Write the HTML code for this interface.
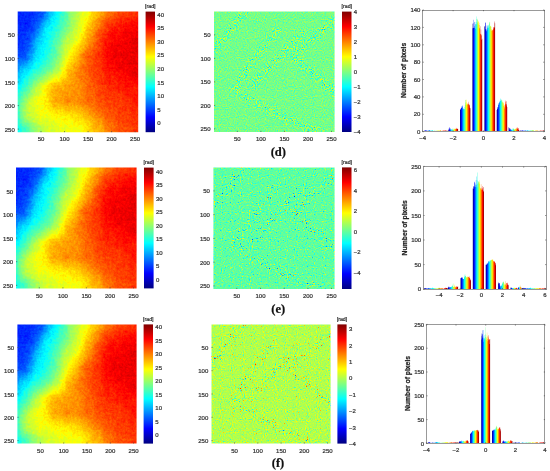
<!DOCTYPE html>
<html><head><meta charset="utf-8"><title>Phase maps and histograms</title>
<style>html,body{margin:0;padding:0;background:#fff;width:550px;height:471px;overflow:hidden;position:relative}</style>
</head><body>
<svg width="550" height="471" viewBox="0 0 550 471" style="position:absolute;left:0;top:0"><defs><filter id="fl" x="-10%" y="-10%" width="120%" height="120%" color-interpolation-filters="sRGB"><feGaussianBlur in="SourceGraphic" stdDeviation="1.2" result="b0"/><feColorMatrix in="b0" type="matrix" values="1 0 0 0 0 0 1 0 0 0 0 0 1 0 0 0 0 0 0 1" result="b"/><feTurbulence type="fractalNoise" baseFrequency="0.45" numOctaves="2" seed="3" result="n0"/><feColorMatrix in="n0" type="matrix" values="1 0 0 0 0 1 0 0 0 0 1 0 0 0 0 0 0 0 0 1" result="n"/><feComposite in="b" in2="n" operator="arithmetic" k1="0" k2="1" k3="0.07" k4="-0.035" result="c0"/><feTurbulence type="fractalNoise" baseFrequency="0.15" numOctaves="2" seed="13" result="p0"/><feColorMatrix in="p0" type="matrix" values="1 0 0 0 0 1 0 0 0 0 1 0 0 0 0 0 0 0 0 1" result="p"/><feComposite in="c0" in2="p" operator="arithmetic" k1="0" k2="1" k3="0.045" k4="-0.0225" result="c"/><feColorMatrix in="c" type="matrix" values="1 0 0 0 0 1 0 0 0 0 1 0 0 0 0 0 0 0 0 1" result="d"/><feComponentTransfer in="d"><feFuncR type="table" tableValues="0 0 0 0 .5 1 1 1 .5"/><feFuncG type="table" tableValues="0 0 .5 1 1 1 .5 0 0"/><feFuncB type="table" tableValues=".5 1 1 1 .5 0 0 0 0"/><feFuncA type="linear" slope="0" intercept="1"/></feComponentTransfer></filter><filter id="fm1" x="0" y="0" width="1" height="1" color-interpolation-filters="sRGB"><feGaussianBlur in="SourceGraphic" stdDeviation="2.0" result="m0"/><feColorMatrix in="m0" type="matrix" values="1 0 0 0 0 1 0 0 0 0 1 0 0 0 0 0 0 0 0 1" result="m"/><feTurbulence type="fractalNoise" baseFrequency="0.9" numOctaves="2" seed="7" result="n0"/><feColorMatrix in="n0" type="matrix" values="1 0 0 0 0 1 0 0 0 0 1 0 0 0 0 0 0 0 0 1" result="n1"/><feComponentTransfer in="n1" result="n"><feFuncR type="table" tableValues="0.22 0.3 0.39 0.5 0.61 0.7 0.78"/><feFuncG type="table" tableValues="0.22 0.3 0.39 0.5 0.61 0.7 0.78"/><feFuncB type="table" tableValues="0.22 0.3 0.39 0.5 0.61 0.7 0.78"/></feComponentTransfer><feComposite in="m" in2="n" operator="arithmetic" k1="0.6500" k2="-0.3250" k3="0.3750" k4="0.3025" result="c"/><feColorMatrix in="c" type="matrix" values="1.0000 0 0 0 0 1.0000 0 0 0 0 1.0000 0 0 0 0 0 0 0 0 1" result="d"/><feComponentTransfer in="d"><feFuncR type="table" tableValues="0 0 0 0 .5 1 1 1 .5"/><feFuncG type="table" tableValues="0 0 .5 1 1 1 .5 0 0"/><feFuncB type="table" tableValues=".5 1 1 1 .5 0 0 0 0"/><feFuncA type="linear" slope="0" intercept="1"/></feComponentTransfer></filter><filter id="fm2" x="0" y="0" width="1" height="1" color-interpolation-filters="sRGB"><feGaussianBlur in="SourceGraphic" stdDeviation="2.0" result="m0"/><feColorMatrix in="m0" type="matrix" values="1 0 0 0 0 1 0 0 0 0 1 0 0 0 0 0 0 0 0 1" result="m"/><feTurbulence type="fractalNoise" baseFrequency="0.9" numOctaves="2" seed="11" result="n0"/><feColorMatrix in="n0" type="matrix" values="1 0 0 0 0 1 0 0 0 0 1 0 0 0 0 0 0 0 0 1" result="n1"/><feComponentTransfer in="n1" result="n"><feFuncR type="table" tableValues="0 0.2 0.42 0.5 0.58 0.8 1"/><feFuncG type="table" tableValues="0 0.2 0.42 0.5 0.58 0.8 1"/><feFuncB type="table" tableValues="0 0.2 0.42 0.5 0.58 0.8 1"/></feComponentTransfer><feComposite in="m" in2="n" operator="arithmetic" k1="0.5400" k2="-0.2700" k3="0.4500" k4="0.2450" result="c"/><feColorMatrix in="c" type="matrix" values="0.9650 0 0 0 0 0.9650 0 0 0 0 0.9650 0 0 0 0 0 0 0 0 1" result="d"/><feComponentTransfer in="d"><feFuncR type="table" tableValues="0 0 0 0 .5 1 1 1 .5"/><feFuncG type="table" tableValues="0 0 .5 1 1 1 .5 0 0"/><feFuncB type="table" tableValues=".5 1 1 1 .5 0 0 0 0"/><feFuncA type="linear" slope="0" intercept="1"/></feComponentTransfer></filter><filter id="fm3" x="0" y="0" width="1" height="1" color-interpolation-filters="sRGB"><feGaussianBlur in="SourceGraphic" stdDeviation="2.0" result="m0"/><feColorMatrix in="m0" type="matrix" values="1 0 0 0 0 1 0 0 0 0 1 0 0 0 0 0 0 0 0 1" result="m"/><feTurbulence type="fractalNoise" baseFrequency="0.9" numOctaves="2" seed="13" result="n0"/><feColorMatrix in="n0" type="matrix" values="1 0 0 0 0 1 0 0 0 0 1 0 0 0 0 0 0 0 0 1" result="n1"/><feComponentTransfer in="n1" result="n"><feFuncR type="table" tableValues="0 0.2 0.42 0.5 0.58 0.8 1"/><feFuncG type="table" tableValues="0 0.2 0.42 0.5 0.58 0.8 1"/><feFuncB type="table" tableValues="0 0.2 0.42 0.5 0.58 0.8 1"/></feComponentTransfer><feComposite in="m" in2="n" operator="arithmetic" k1="0.5400" k2="-0.2700" k3="0.4500" k4="0.3250" result="c"/><feColorMatrix in="c" type="matrix" values="1.0000 0 0 0 0 1.0000 0 0 0 0 1.0000 0 0 0 0 0 0 0 0 1" result="d"/><feComponentTransfer in="d"><feFuncR type="table" tableValues="0 0 0 0 .5 1 1 1 .5"/><feFuncG type="table" tableValues="0 0 .5 1 1 1 .5 0 0"/><feFuncB type="table" tableValues=".5 1 1 1 .5 0 0 0 0"/><feFuncA type="linear" slope="0" intercept="1"/></feComponentTransfer></filter><g id="STK" fill="none" stroke="#fff" stroke-width="7" stroke-linejoin="round"><path d="M33,-2 L16,19 L-2,41"/><path d="M66,16 L52,32 L38,50 L20,77 L40,90 L75,108 L110,123"/><path d="M90,20 L62,48 L36,76"/><path d="M123,6 L100,25 L79,45 L100,63 L123,83"/></g><linearGradient id="jv" x1="0" y1="1" x2="0" y2="0"><stop offset="0.000" stop-color="#000080"/><stop offset="0.125" stop-color="#0000ff"/><stop offset="0.250" stop-color="#0080ff"/><stop offset="0.375" stop-color="#00ffff"/><stop offset="0.500" stop-color="#80ff80"/><stop offset="0.625" stop-color="#ffff00"/><stop offset="0.750" stop-color="#ff8000"/><stop offset="0.875" stop-color="#ff0000"/><stop offset="1.000" stop-color="#800000"/></linearGradient><linearGradient id="jh" x1="0" y1="0" x2="1" y2="0"><stop offset="0.000" stop-color="#000080"/><stop offset="0.125" stop-color="#0000ff"/><stop offset="0.250" stop-color="#0080ff"/><stop offset="0.375" stop-color="#00ffff"/><stop offset="0.500" stop-color="#80ff80"/><stop offset="0.625" stop-color="#ffff00"/><stop offset="0.750" stop-color="#ff8000"/><stop offset="0.875" stop-color="#ff0000"/><stop offset="1.000" stop-color="#800000"/></linearGradient><g id="FLD"><rect x="-6" y="-6" width="3" height="3" fill="#292929"/><rect x="-3" y="-6" width="3" height="3" fill="#292929"/><rect x="0" y="-6" width="3" height="3" fill="#292929"/><rect x="3" y="-6" width="3" height="3" fill="#2a2a2a"/><rect x="6" y="-6" width="3" height="3" fill="#2a2a2a"/><rect x="9" y="-6" width="3" height="3" fill="#2b2b2b"/><rect x="12" y="-6" width="3" height="3" fill="#2b2b2b"/><rect x="15" y="-6" width="3" height="3" fill="#2c2c2c"/><rect x="18" y="-6" width="3" height="3" fill="#2f2f2f"/><rect x="21" y="-6" width="3" height="3" fill="#313131"/><rect x="24" y="-6" width="3" height="3" fill="#373737"/><rect x="27" y="-6" width="3" height="3" fill="#434343"/><rect x="30" y="-6" width="3" height="3" fill="#4e4e4e"/><rect x="33" y="-6" width="3" height="3" fill="#575757"/><rect x="36" y="-6" width="3" height="3" fill="#5d5d5d"/><rect x="39" y="-6" width="3" height="3" fill="#646464"/><rect x="42" y="-6" width="3" height="3" fill="#6a6a6a"/><rect x="45" y="-6" width="3" height="3" fill="#717171"/><rect x="48" y="-6" width="3" height="3" fill="#7b7b7b"/><rect x="51" y="-6" width="3" height="3" fill="#858585"/><rect x="54" y="-6" width="3" height="3" fill="#8a8a8a"/><rect x="57" y="-6" width="3" height="3" fill="#8e8e8e"/><rect x="60" y="-6" width="3" height="3" fill="#929292"/><rect x="63" y="-6" width="3" height="3" fill="#989898"/><rect x="66" y="-6" width="3" height="3" fill="#9d9d9d"/><rect x="69" y="-6" width="3" height="3" fill="#a1a1a1"/><rect x="72" y="-6" width="3" height="3" fill="#a6a6a6"/><rect x="75" y="-6" width="3" height="3" fill="#ababab"/><rect x="78" y="-6" width="3" height="3" fill="#b0b0b0"/><rect x="81" y="-6" width="3" height="3" fill="#b5b5b5"/><rect x="84" y="-6" width="3" height="3" fill="#bbbbbb"/><rect x="87" y="-6" width="3" height="3" fill="#c0c0c0"/><rect x="90" y="-6" width="3" height="3" fill="#c4c4c4"/><rect x="93" y="-6" width="3" height="3" fill="#c7c7c7"/><rect x="96" y="-6" width="3" height="3" fill="#cacaca"/><rect x="99" y="-6" width="3" height="3" fill="#cdcdcd"/><rect x="102" y="-6" width="3" height="3" fill="#cecece"/><rect x="105" y="-6" width="3" height="3" fill="#d0d0d0"/><rect x="108" y="-6" width="3" height="3" fill="#d1d1d1"/><rect x="111" y="-6" width="3" height="3" fill="#d3d3d3"/><rect x="114" y="-6" width="3" height="3" fill="#d5d5d5"/><rect x="117" y="-6" width="3" height="3" fill="#d6d6d6"/><rect x="120" y="-6" width="3" height="3" fill="#d7d7d7"/><rect x="123" y="-6" width="3" height="3" fill="#d7d7d7"/><rect x="-6" y="-3" width="3" height="3" fill="#292929"/><rect x="-3" y="-3" width="3" height="3" fill="#292929"/><rect x="0" y="-3" width="3" height="3" fill="#292929"/><rect x="3" y="-3" width="3" height="3" fill="#2a2a2a"/><rect x="6" y="-3" width="3" height="3" fill="#2a2a2a"/><rect x="9" y="-3" width="3" height="3" fill="#2b2b2b"/><rect x="12" y="-3" width="3" height="3" fill="#2b2b2b"/><rect x="15" y="-3" width="3" height="3" fill="#2c2c2c"/><rect x="18" y="-3" width="3" height="3" fill="#2f2f2f"/><rect x="21" y="-3" width="3" height="3" fill="#313131"/><rect x="24" y="-3" width="3" height="3" fill="#373737"/><rect x="27" y="-3" width="3" height="3" fill="#434343"/><rect x="30" y="-3" width="3" height="3" fill="#4e4e4e"/><rect x="33" y="-3" width="3" height="3" fill="#575757"/><rect x="36" y="-3" width="3" height="3" fill="#5d5d5d"/><rect x="39" y="-3" width="3" height="3" fill="#646464"/><rect x="42" y="-3" width="3" height="3" fill="#6a6a6a"/><rect x="45" y="-3" width="3" height="3" fill="#717171"/><rect x="48" y="-3" width="3" height="3" fill="#7b7b7b"/><rect x="51" y="-3" width="3" height="3" fill="#858585"/><rect x="54" y="-3" width="3" height="3" fill="#8a8a8a"/><rect x="57" y="-3" width="3" height="3" fill="#8e8e8e"/><rect x="60" y="-3" width="3" height="3" fill="#929292"/><rect x="63" y="-3" width="3" height="3" fill="#989898"/><rect x="66" y="-3" width="3" height="3" fill="#9d9d9d"/><rect x="69" y="-3" width="3" height="3" fill="#a1a1a1"/><rect x="72" y="-3" width="3" height="3" fill="#a6a6a6"/><rect x="75" y="-3" width="3" height="3" fill="#ababab"/><rect x="78" y="-3" width="3" height="3" fill="#b0b0b0"/><rect x="81" y="-3" width="3" height="3" fill="#b5b5b5"/><rect x="84" y="-3" width="3" height="3" fill="#bbbbbb"/><rect x="87" y="-3" width="3" height="3" fill="#c0c0c0"/><rect x="90" y="-3" width="3" height="3" fill="#c4c4c4"/><rect x="93" y="-3" width="3" height="3" fill="#c7c7c7"/><rect x="96" y="-3" width="3" height="3" fill="#cacaca"/><rect x="99" y="-3" width="3" height="3" fill="#cdcdcd"/><rect x="102" y="-3" width="3" height="3" fill="#cecece"/><rect x="105" y="-3" width="3" height="3" fill="#d0d0d0"/><rect x="108" y="-3" width="3" height="3" fill="#d1d1d1"/><rect x="111" y="-3" width="3" height="3" fill="#d3d3d3"/><rect x="114" y="-3" width="3" height="3" fill="#d5d5d5"/><rect x="117" y="-3" width="3" height="3" fill="#d6d6d6"/><rect x="120" y="-3" width="3" height="3" fill="#d7d7d7"/><rect x="123" y="-3" width="3" height="3" fill="#d7d7d7"/><rect x="-6" y="0" width="3" height="3" fill="#292929"/><rect x="-3" y="0" width="3" height="3" fill="#292929"/><rect x="0" y="0" width="3" height="3" fill="#292929"/><rect x="3" y="0" width="3" height="3" fill="#2a2a2a"/><rect x="6" y="0" width="3" height="3" fill="#2a2a2a"/><rect x="9" y="0" width="3" height="3" fill="#2b2b2b"/><rect x="12" y="0" width="3" height="3" fill="#2b2b2b"/><rect x="15" y="0" width="3" height="3" fill="#2c2c2c"/><rect x="18" y="0" width="3" height="3" fill="#2f2f2f"/><rect x="21" y="0" width="3" height="3" fill="#313131"/><rect x="24" y="0" width="3" height="3" fill="#373737"/><rect x="27" y="0" width="3" height="3" fill="#434343"/><rect x="30" y="0" width="3" height="3" fill="#4e4e4e"/><rect x="33" y="0" width="3" height="3" fill="#575757"/><rect x="36" y="0" width="3" height="3" fill="#5d5d5d"/><rect x="39" y="0" width="3" height="3" fill="#646464"/><rect x="42" y="0" width="3" height="3" fill="#6a6a6a"/><rect x="45" y="0" width="3" height="3" fill="#717171"/><rect x="48" y="0" width="3" height="3" fill="#7b7b7b"/><rect x="51" y="0" width="3" height="3" fill="#858585"/><rect x="54" y="0" width="3" height="3" fill="#8a8a8a"/><rect x="57" y="0" width="3" height="3" fill="#8e8e8e"/><rect x="60" y="0" width="3" height="3" fill="#929292"/><rect x="63" y="0" width="3" height="3" fill="#989898"/><rect x="66" y="0" width="3" height="3" fill="#9d9d9d"/><rect x="69" y="0" width="3" height="3" fill="#a1a1a1"/><rect x="72" y="0" width="3" height="3" fill="#a6a6a6"/><rect x="75" y="0" width="3" height="3" fill="#ababab"/><rect x="78" y="0" width="3" height="3" fill="#b0b0b0"/><rect x="81" y="0" width="3" height="3" fill="#b5b5b5"/><rect x="84" y="0" width="3" height="3" fill="#bbbbbb"/><rect x="87" y="0" width="3" height="3" fill="#c0c0c0"/><rect x="90" y="0" width="3" height="3" fill="#c4c4c4"/><rect x="93" y="0" width="3" height="3" fill="#c7c7c7"/><rect x="96" y="0" width="3" height="3" fill="#cacaca"/><rect x="99" y="0" width="3" height="3" fill="#cdcdcd"/><rect x="102" y="0" width="3" height="3" fill="#cecece"/><rect x="105" y="0" width="3" height="3" fill="#d0d0d0"/><rect x="108" y="0" width="3" height="3" fill="#d1d1d1"/><rect x="111" y="0" width="3" height="3" fill="#d3d3d3"/><rect x="114" y="0" width="3" height="3" fill="#d5d5d5"/><rect x="117" y="0" width="3" height="3" fill="#d6d6d6"/><rect x="120" y="0" width="3" height="3" fill="#d7d7d7"/><rect x="123" y="0" width="3" height="3" fill="#d7d7d7"/><rect x="-6" y="3" width="3" height="3" fill="#292929"/><rect x="-3" y="3" width="3" height="3" fill="#292929"/><rect x="0" y="3" width="3" height="3" fill="#292929"/><rect x="3" y="3" width="3" height="3" fill="#2a2a2a"/><rect x="6" y="3" width="3" height="3" fill="#2a2a2a"/><rect x="9" y="3" width="3" height="3" fill="#2b2b2b"/><rect x="12" y="3" width="3" height="3" fill="#2b2b2b"/><rect x="15" y="3" width="3" height="3" fill="#2d2d2d"/><rect x="18" y="3" width="3" height="3" fill="#303030"/><rect x="21" y="3" width="3" height="3" fill="#343434"/><rect x="24" y="3" width="3" height="3" fill="#3a3a3a"/><rect x="27" y="3" width="3" height="3" fill="#464646"/><rect x="30" y="3" width="3" height="3" fill="#505050"/><rect x="33" y="3" width="3" height="3" fill="#585858"/><rect x="36" y="3" width="3" height="3" fill="#5e5e5e"/><rect x="39" y="3" width="3" height="3" fill="#646464"/><rect x="42" y="3" width="3" height="3" fill="#6b6b6b"/><rect x="45" y="3" width="3" height="3" fill="#727272"/><rect x="48" y="3" width="3" height="3" fill="#7b7b7b"/><rect x="51" y="3" width="3" height="3" fill="#858585"/><rect x="54" y="3" width="3" height="3" fill="#8a8a8a"/><rect x="57" y="3" width="3" height="3" fill="#8e8e8e"/><rect x="60" y="3" width="3" height="3" fill="#929292"/><rect x="63" y="3" width="3" height="3" fill="#999999"/><rect x="66" y="3" width="3" height="3" fill="#9e9e9e"/><rect x="69" y="3" width="3" height="3" fill="#a3a3a3"/><rect x="72" y="3" width="3" height="3" fill="#a8a8a8"/><rect x="75" y="3" width="3" height="3" fill="#adadad"/><rect x="78" y="3" width="3" height="3" fill="#b2b2b2"/><rect x="81" y="3" width="3" height="3" fill="#b7b7b7"/><rect x="84" y="3" width="3" height="3" fill="#bdbdbd"/><rect x="87" y="3" width="3" height="3" fill="#c2c2c2"/><rect x="90" y="3" width="3" height="3" fill="#c6c6c6"/><rect x="93" y="3" width="3" height="3" fill="#c9c9c9"/><rect x="96" y="3" width="3" height="3" fill="#cccccc"/><rect x="99" y="3" width="3" height="3" fill="#cfcfcf"/><rect x="102" y="3" width="3" height="3" fill="#d0d0d0"/><rect x="105" y="3" width="3" height="3" fill="#d2d2d2"/><rect x="108" y="3" width="3" height="3" fill="#d3d3d3"/><rect x="111" y="3" width="3" height="3" fill="#d5d5d5"/><rect x="114" y="3" width="3" height="3" fill="#d6d6d6"/><rect x="117" y="3" width="3" height="3" fill="#d7d7d7"/><rect x="120" y="3" width="3" height="3" fill="#d8d8d8"/><rect x="123" y="3" width="3" height="3" fill="#d8d8d8"/><rect x="-6" y="6" width="3" height="3" fill="#292929"/><rect x="-3" y="6" width="3" height="3" fill="#292929"/><rect x="0" y="6" width="3" height="3" fill="#292929"/><rect x="3" y="6" width="3" height="3" fill="#2a2a2a"/><rect x="6" y="6" width="3" height="3" fill="#2a2a2a"/><rect x="9" y="6" width="3" height="3" fill="#2b2b2b"/><rect x="12" y="6" width="3" height="3" fill="#2c2c2c"/><rect x="15" y="6" width="3" height="3" fill="#2e2e2e"/><rect x="18" y="6" width="3" height="3" fill="#333333"/><rect x="21" y="6" width="3" height="3" fill="#393939"/><rect x="24" y="6" width="3" height="3" fill="#414141"/><rect x="27" y="6" width="3" height="3" fill="#4b4b4b"/><rect x="30" y="6" width="3" height="3" fill="#545454"/><rect x="33" y="6" width="3" height="3" fill="#5b5b5b"/><rect x="36" y="6" width="3" height="3" fill="#606060"/><rect x="39" y="6" width="3" height="3" fill="#666666"/><rect x="42" y="6" width="3" height="3" fill="#6c6c6c"/><rect x="45" y="6" width="3" height="3" fill="#737373"/><rect x="48" y="6" width="3" height="3" fill="#7c7c7c"/><rect x="51" y="6" width="3" height="3" fill="#858585"/><rect x="54" y="6" width="3" height="3" fill="#8a8a8a"/><rect x="57" y="6" width="3" height="3" fill="#8e8e8e"/><rect x="60" y="6" width="3" height="3" fill="#939393"/><rect x="63" y="6" width="3" height="3" fill="#9a9a9a"/><rect x="66" y="6" width="3" height="3" fill="#a0a0a0"/><rect x="69" y="6" width="3" height="3" fill="#a5a5a5"/><rect x="72" y="6" width="3" height="3" fill="#aaaaaa"/><rect x="75" y="6" width="3" height="3" fill="#b0b0b0"/><rect x="78" y="6" width="3" height="3" fill="#b6b6b6"/><rect x="81" y="6" width="3" height="3" fill="#bcbcbc"/><rect x="84" y="6" width="3" height="3" fill="#c1c1c1"/><rect x="87" y="6" width="3" height="3" fill="#c7c7c7"/><rect x="90" y="6" width="3" height="3" fill="#cbcbcb"/><rect x="93" y="6" width="3" height="3" fill="#cdcdcd"/><rect x="96" y="6" width="3" height="3" fill="#d0d0d0"/><rect x="99" y="6" width="3" height="3" fill="#d2d2d2"/><rect x="102" y="6" width="3" height="3" fill="#d3d3d3"/><rect x="105" y="6" width="3" height="3" fill="#d5d5d5"/><rect x="108" y="6" width="3" height="3" fill="#d7d7d7"/><rect x="111" y="6" width="3" height="3" fill="#d8d8d8"/><rect x="114" y="6" width="3" height="3" fill="#d9d9d9"/><rect x="117" y="6" width="3" height="3" fill="#dadada"/><rect x="120" y="6" width="3" height="3" fill="#dbdbdb"/><rect x="123" y="6" width="3" height="3" fill="#dbdbdb"/><rect x="-6" y="9" width="3" height="3" fill="#292929"/><rect x="-3" y="9" width="3" height="3" fill="#292929"/><rect x="0" y="9" width="3" height="3" fill="#292929"/><rect x="3" y="9" width="3" height="3" fill="#2a2a2a"/><rect x="6" y="9" width="3" height="3" fill="#2a2a2a"/><rect x="9" y="9" width="3" height="3" fill="#2b2b2b"/><rect x="12" y="9" width="3" height="3" fill="#2d2d2d"/><rect x="15" y="9" width="3" height="3" fill="#303030"/><rect x="18" y="9" width="3" height="3" fill="#353535"/><rect x="21" y="9" width="3" height="3" fill="#3e3e3e"/><rect x="24" y="9" width="3" height="3" fill="#474747"/><rect x="27" y="9" width="3" height="3" fill="#515151"/><rect x="30" y="9" width="3" height="3" fill="#585858"/><rect x="33" y="9" width="3" height="3" fill="#5d5d5d"/><rect x="36" y="9" width="3" height="3" fill="#626262"/><rect x="39" y="9" width="3" height="3" fill="#676767"/><rect x="42" y="9" width="3" height="3" fill="#6e6e6e"/><rect x="45" y="9" width="3" height="3" fill="#757575"/><rect x="48" y="9" width="3" height="3" fill="#7d7d7d"/><rect x="51" y="9" width="3" height="3" fill="#858585"/><rect x="54" y="9" width="3" height="3" fill="#8a8a8a"/><rect x="57" y="9" width="3" height="3" fill="#8e8e8e"/><rect x="60" y="9" width="3" height="3" fill="#949494"/><rect x="63" y="9" width="3" height="3" fill="#9b9b9b"/><rect x="66" y="9" width="3" height="3" fill="#a2a2a2"/><rect x="69" y="9" width="3" height="3" fill="#a8a8a8"/><rect x="72" y="9" width="3" height="3" fill="#adadad"/><rect x="75" y="9" width="3" height="3" fill="#b4b4b4"/><rect x="78" y="9" width="3" height="3" fill="#bababa"/><rect x="81" y="9" width="3" height="3" fill="#c0c0c0"/><rect x="84" y="9" width="3" height="3" fill="#c6c6c6"/><rect x="87" y="9" width="3" height="3" fill="#cbcbcb"/><rect x="90" y="9" width="3" height="3" fill="#cfcfcf"/><rect x="93" y="9" width="3" height="3" fill="#d1d1d1"/><rect x="96" y="9" width="3" height="3" fill="#d3d3d3"/><rect x="99" y="9" width="3" height="3" fill="#d5d5d5"/><rect x="102" y="9" width="3" height="3" fill="#d7d7d7"/><rect x="105" y="9" width="3" height="3" fill="#d8d8d8"/><rect x="108" y="9" width="3" height="3" fill="#dadada"/><rect x="111" y="9" width="3" height="3" fill="#dbdbdb"/><rect x="114" y="9" width="3" height="3" fill="#dcdcdc"/><rect x="117" y="9" width="3" height="3" fill="#dddddd"/><rect x="120" y="9" width="3" height="3" fill="#dedede"/><rect x="123" y="9" width="3" height="3" fill="#dedede"/><rect x="-6" y="12" width="3" height="3" fill="#292929"/><rect x="-3" y="12" width="3" height="3" fill="#292929"/><rect x="0" y="12" width="3" height="3" fill="#292929"/><rect x="3" y="12" width="3" height="3" fill="#2a2a2a"/><rect x="6" y="12" width="3" height="3" fill="#2b2b2b"/><rect x="9" y="12" width="3" height="3" fill="#2c2c2c"/><rect x="12" y="12" width="3" height="3" fill="#2e2e2e"/><rect x="15" y="12" width="3" height="3" fill="#313131"/><rect x="18" y="12" width="3" height="3" fill="#383838"/><rect x="21" y="12" width="3" height="3" fill="#434343"/><rect x="24" y="12" width="3" height="3" fill="#4e4e4e"/><rect x="27" y="12" width="3" height="3" fill="#575757"/><rect x="30" y="12" width="3" height="3" fill="#5b5b5b"/><rect x="33" y="12" width="3" height="3" fill="#5f5f5f"/><rect x="36" y="12" width="3" height="3" fill="#646464"/><rect x="39" y="12" width="3" height="3" fill="#696969"/><rect x="42" y="12" width="3" height="3" fill="#6f6f6f"/><rect x="45" y="12" width="3" height="3" fill="#767676"/><rect x="48" y="12" width="3" height="3" fill="#7e7e7e"/><rect x="51" y="12" width="3" height="3" fill="#858585"/><rect x="54" y="12" width="3" height="3" fill="#8a8a8a"/><rect x="57" y="12" width="3" height="3" fill="#8f8f8f"/><rect x="60" y="12" width="3" height="3" fill="#959595"/><rect x="63" y="12" width="3" height="3" fill="#9c9c9c"/><rect x="66" y="12" width="3" height="3" fill="#a4a4a4"/><rect x="69" y="12" width="3" height="3" fill="#ababab"/><rect x="72" y="12" width="3" height="3" fill="#b0b0b0"/><rect x="75" y="12" width="3" height="3" fill="#b7b7b7"/><rect x="78" y="12" width="3" height="3" fill="#bebebe"/><rect x="81" y="12" width="3" height="3" fill="#c4c4c4"/><rect x="84" y="12" width="3" height="3" fill="#cacaca"/><rect x="87" y="12" width="3" height="3" fill="#d0d0d0"/><rect x="90" y="12" width="3" height="3" fill="#d3d3d3"/><rect x="93" y="12" width="3" height="3" fill="#d5d5d5"/><rect x="96" y="12" width="3" height="3" fill="#d7d7d7"/><rect x="99" y="12" width="3" height="3" fill="#d9d9d9"/><rect x="102" y="12" width="3" height="3" fill="#dadada"/><rect x="105" y="12" width="3" height="3" fill="#dcdcdc"/><rect x="108" y="12" width="3" height="3" fill="#dddddd"/><rect x="111" y="12" width="3" height="3" fill="#dedede"/><rect x="114" y="12" width="3" height="3" fill="#dfdfdf"/><rect x="117" y="12" width="3" height="3" fill="#e0e0e0"/><rect x="120" y="12" width="3" height="3" fill="#e0e0e0"/><rect x="123" y="12" width="3" height="3" fill="#e0e0e0"/><rect x="-6" y="15" width="3" height="3" fill="#292929"/><rect x="-3" y="15" width="3" height="3" fill="#292929"/><rect x="0" y="15" width="3" height="3" fill="#292929"/><rect x="3" y="15" width="3" height="3" fill="#2a2a2a"/><rect x="6" y="15" width="3" height="3" fill="#2b2b2b"/><rect x="9" y="15" width="3" height="3" fill="#2d2d2d"/><rect x="12" y="15" width="3" height="3" fill="#2f2f2f"/><rect x="15" y="15" width="3" height="3" fill="#343434"/><rect x="18" y="15" width="3" height="3" fill="#3c3c3c"/><rect x="21" y="15" width="3" height="3" fill="#484848"/><rect x="24" y="15" width="3" height="3" fill="#525252"/><rect x="27" y="15" width="3" height="3" fill="#5a5a5a"/><rect x="30" y="15" width="3" height="3" fill="#5e5e5e"/><rect x="33" y="15" width="3" height="3" fill="#616161"/><rect x="36" y="15" width="3" height="3" fill="#666666"/><rect x="39" y="15" width="3" height="3" fill="#6b6b6b"/><rect x="42" y="15" width="3" height="3" fill="#727272"/><rect x="45" y="15" width="3" height="3" fill="#797979"/><rect x="48" y="15" width="3" height="3" fill="#808080"/><rect x="51" y="15" width="3" height="3" fill="#868686"/><rect x="54" y="15" width="3" height="3" fill="#8c8c8c"/><rect x="57" y="15" width="3" height="3" fill="#909090"/><rect x="60" y="15" width="3" height="3" fill="#969696"/><rect x="63" y="15" width="3" height="3" fill="#9e9e9e"/><rect x="66" y="15" width="3" height="3" fill="#a6a6a6"/><rect x="69" y="15" width="3" height="3" fill="#adadad"/><rect x="72" y="15" width="3" height="3" fill="#b3b3b3"/><rect x="75" y="15" width="3" height="3" fill="#bababa"/><rect x="78" y="15" width="3" height="3" fill="#c1c1c1"/><rect x="81" y="15" width="3" height="3" fill="#c7c7c7"/><rect x="84" y="15" width="3" height="3" fill="#cdcdcd"/><rect x="87" y="15" width="3" height="3" fill="#d3d3d3"/><rect x="90" y="15" width="3" height="3" fill="#d6d6d6"/><rect x="93" y="15" width="3" height="3" fill="#d8d8d8"/><rect x="96" y="15" width="3" height="3" fill="#dadada"/><rect x="99" y="15" width="3" height="3" fill="#dbdbdb"/><rect x="102" y="15" width="3" height="3" fill="#dcdcdc"/><rect x="105" y="15" width="3" height="3" fill="#dedede"/><rect x="108" y="15" width="3" height="3" fill="#dfdfdf"/><rect x="111" y="15" width="3" height="3" fill="#e0e0e0"/><rect x="114" y="15" width="3" height="3" fill="#e1e1e1"/><rect x="117" y="15" width="3" height="3" fill="#e2e2e2"/><rect x="120" y="15" width="3" height="3" fill="#e2e2e2"/><rect x="123" y="15" width="3" height="3" fill="#e2e2e2"/><rect x="-6" y="18" width="3" height="3" fill="#2a2a2a"/><rect x="-3" y="18" width="3" height="3" fill="#2a2a2a"/><rect x="0" y="18" width="3" height="3" fill="#2a2a2a"/><rect x="3" y="18" width="3" height="3" fill="#2b2b2b"/><rect x="6" y="18" width="3" height="3" fill="#2c2c2c"/><rect x="9" y="18" width="3" height="3" fill="#2e2e2e"/><rect x="12" y="18" width="3" height="3" fill="#323232"/><rect x="15" y="18" width="3" height="3" fill="#383838"/><rect x="18" y="18" width="3" height="3" fill="#404040"/><rect x="21" y="18" width="3" height="3" fill="#4b4b4b"/><rect x="24" y="18" width="3" height="3" fill="#555555"/><rect x="27" y="18" width="3" height="3" fill="#5c5c5c"/><rect x="30" y="18" width="3" height="3" fill="#606060"/><rect x="33" y="18" width="3" height="3" fill="#646464"/><rect x="36" y="18" width="3" height="3" fill="#696969"/><rect x="39" y="18" width="3" height="3" fill="#6e6e6e"/><rect x="42" y="18" width="3" height="3" fill="#757575"/><rect x="45" y="18" width="3" height="3" fill="#7c7c7c"/><rect x="48" y="18" width="3" height="3" fill="#848484"/><rect x="51" y="18" width="3" height="3" fill="#898989"/><rect x="54" y="18" width="3" height="3" fill="#8e8e8e"/><rect x="57" y="18" width="3" height="3" fill="#939393"/><rect x="60" y="18" width="3" height="3" fill="#999999"/><rect x="63" y="18" width="3" height="3" fill="#a1a1a1"/><rect x="66" y="18" width="3" height="3" fill="#a8a8a8"/><rect x="69" y="18" width="3" height="3" fill="#b0b0b0"/><rect x="72" y="18" width="3" height="3" fill="#b6b6b6"/><rect x="75" y="18" width="3" height="3" fill="#bdbdbd"/><rect x="78" y="18" width="3" height="3" fill="#c4c4c4"/><rect x="81" y="18" width="3" height="3" fill="#cacaca"/><rect x="84" y="18" width="3" height="3" fill="#cfcfcf"/><rect x="87" y="18" width="3" height="3" fill="#d5d5d5"/><rect x="90" y="18" width="3" height="3" fill="#d8d8d8"/><rect x="93" y="18" width="3" height="3" fill="#dadada"/><rect x="96" y="18" width="3" height="3" fill="#dbdbdb"/><rect x="99" y="18" width="3" height="3" fill="#dcdcdc"/><rect x="102" y="18" width="3" height="3" fill="#dedede"/><rect x="105" y="18" width="3" height="3" fill="#dfdfdf"/><rect x="108" y="18" width="3" height="3" fill="#e0e0e0"/><rect x="111" y="18" width="3" height="3" fill="#e1e1e1"/><rect x="114" y="18" width="3" height="3" fill="#e1e1e1"/><rect x="117" y="18" width="3" height="3" fill="#e2e2e2"/><rect x="120" y="18" width="3" height="3" fill="#e2e2e2"/><rect x="123" y="18" width="3" height="3" fill="#e2e2e2"/><rect x="-6" y="21" width="3" height="3" fill="#2a2a2a"/><rect x="-3" y="21" width="3" height="3" fill="#2a2a2a"/><rect x="0" y="21" width="3" height="3" fill="#2b2b2b"/><rect x="3" y="21" width="3" height="3" fill="#2c2c2c"/><rect x="6" y="21" width="3" height="3" fill="#2d2d2d"/><rect x="9" y="21" width="3" height="3" fill="#303030"/><rect x="12" y="21" width="3" height="3" fill="#343434"/><rect x="15" y="21" width="3" height="3" fill="#3c3c3c"/><rect x="18" y="21" width="3" height="3" fill="#454545"/><rect x="21" y="21" width="3" height="3" fill="#4f4f4f"/><rect x="24" y="21" width="3" height="3" fill="#575757"/><rect x="27" y="21" width="3" height="3" fill="#5d5d5d"/><rect x="30" y="21" width="3" height="3" fill="#616161"/><rect x="33" y="21" width="3" height="3" fill="#666666"/><rect x="36" y="21" width="3" height="3" fill="#6b6b6b"/><rect x="39" y="21" width="3" height="3" fill="#717171"/><rect x="42" y="21" width="3" height="3" fill="#797979"/><rect x="45" y="21" width="3" height="3" fill="#808080"/><rect x="48" y="21" width="3" height="3" fill="#878787"/><rect x="51" y="21" width="3" height="3" fill="#8c8c8c"/><rect x="54" y="21" width="3" height="3" fill="#919191"/><rect x="57" y="21" width="3" height="3" fill="#959595"/><rect x="60" y="21" width="3" height="3" fill="#9c9c9c"/><rect x="63" y="21" width="3" height="3" fill="#a3a3a3"/><rect x="66" y="21" width="3" height="3" fill="#ababab"/><rect x="69" y="21" width="3" height="3" fill="#b2b2b2"/><rect x="72" y="21" width="3" height="3" fill="#b8b8b8"/><rect x="75" y="21" width="3" height="3" fill="#bfbfbf"/><rect x="78" y="21" width="3" height="3" fill="#c7c7c7"/><rect x="81" y="21" width="3" height="3" fill="#cccccc"/><rect x="84" y="21" width="3" height="3" fill="#d1d1d1"/><rect x="87" y="21" width="3" height="3" fill="#d6d6d6"/><rect x="90" y="21" width="3" height="3" fill="#dadada"/><rect x="93" y="21" width="3" height="3" fill="#dbdbdb"/><rect x="96" y="21" width="3" height="3" fill="#dddddd"/><rect x="99" y="21" width="3" height="3" fill="#dedede"/><rect x="102" y="21" width="3" height="3" fill="#dfdfdf"/><rect x="105" y="21" width="3" height="3" fill="#e0e0e0"/><rect x="108" y="21" width="3" height="3" fill="#e0e0e0"/><rect x="111" y="21" width="3" height="3" fill="#e1e1e1"/><rect x="114" y="21" width="3" height="3" fill="#e2e2e2"/><rect x="117" y="21" width="3" height="3" fill="#e3e3e3"/><rect x="120" y="21" width="3" height="3" fill="#e3e3e3"/><rect x="123" y="21" width="3" height="3" fill="#e3e3e3"/><rect x="-6" y="24" width="3" height="3" fill="#2b2b2b"/><rect x="-3" y="24" width="3" height="3" fill="#2b2b2b"/><rect x="0" y="24" width="3" height="3" fill="#2b2b2b"/><rect x="3" y="24" width="3" height="3" fill="#2d2d2d"/><rect x="6" y="24" width="3" height="3" fill="#2f2f2f"/><rect x="9" y="24" width="3" height="3" fill="#323232"/><rect x="12" y="24" width="3" height="3" fill="#373737"/><rect x="15" y="24" width="3" height="3" fill="#404040"/><rect x="18" y="24" width="3" height="3" fill="#4a4a4a"/><rect x="21" y="24" width="3" height="3" fill="#535353"/><rect x="24" y="24" width="3" height="3" fill="#595959"/><rect x="27" y="24" width="3" height="3" fill="#5f5f5f"/><rect x="30" y="24" width="3" height="3" fill="#636363"/><rect x="33" y="24" width="3" height="3" fill="#686868"/><rect x="36" y="24" width="3" height="3" fill="#6e6e6e"/><rect x="39" y="24" width="3" height="3" fill="#757575"/><rect x="42" y="24" width="3" height="3" fill="#7d7d7d"/><rect x="45" y="24" width="3" height="3" fill="#848484"/><rect x="48" y="24" width="3" height="3" fill="#8b8b8b"/><rect x="51" y="24" width="3" height="3" fill="#8f8f8f"/><rect x="54" y="24" width="3" height="3" fill="#939393"/><rect x="57" y="24" width="3" height="3" fill="#989898"/><rect x="60" y="24" width="3" height="3" fill="#9e9e9e"/><rect x="63" y="24" width="3" height="3" fill="#a6a6a6"/><rect x="66" y="24" width="3" height="3" fill="#adadad"/><rect x="69" y="24" width="3" height="3" fill="#b5b5b5"/><rect x="72" y="24" width="3" height="3" fill="#bbbbbb"/><rect x="75" y="24" width="3" height="3" fill="#c2c2c2"/><rect x="78" y="24" width="3" height="3" fill="#c9c9c9"/><rect x="81" y="24" width="3" height="3" fill="#cecece"/><rect x="84" y="24" width="3" height="3" fill="#d3d3d3"/><rect x="87" y="24" width="3" height="3" fill="#d8d8d8"/><rect x="90" y="24" width="3" height="3" fill="#dbdbdb"/><rect x="93" y="24" width="3" height="3" fill="#dddddd"/><rect x="96" y="24" width="3" height="3" fill="#dedede"/><rect x="99" y="24" width="3" height="3" fill="#dfdfdf"/><rect x="102" y="24" width="3" height="3" fill="#e0e0e0"/><rect x="105" y="24" width="3" height="3" fill="#e0e0e0"/><rect x="108" y="24" width="3" height="3" fill="#e1e1e1"/><rect x="111" y="24" width="3" height="3" fill="#e2e2e2"/><rect x="114" y="24" width="3" height="3" fill="#e2e2e2"/><rect x="117" y="24" width="3" height="3" fill="#e3e3e3"/><rect x="120" y="24" width="3" height="3" fill="#e3e3e3"/><rect x="123" y="24" width="3" height="3" fill="#e3e3e3"/><rect x="-6" y="27" width="3" height="3" fill="#2b2b2b"/><rect x="-3" y="27" width="3" height="3" fill="#2b2b2b"/><rect x="0" y="27" width="3" height="3" fill="#2c2c2c"/><rect x="3" y="27" width="3" height="3" fill="#2e2e2e"/><rect x="6" y="27" width="3" height="3" fill="#303030"/><rect x="9" y="27" width="3" height="3" fill="#333333"/><rect x="12" y="27" width="3" height="3" fill="#393939"/><rect x="15" y="27" width="3" height="3" fill="#444444"/><rect x="18" y="27" width="3" height="3" fill="#4f4f4f"/><rect x="21" y="27" width="3" height="3" fill="#575757"/><rect x="24" y="27" width="3" height="3" fill="#5b5b5b"/><rect x="27" y="27" width="3" height="3" fill="#606060"/><rect x="30" y="27" width="3" height="3" fill="#646464"/><rect x="33" y="27" width="3" height="3" fill="#6a6a6a"/><rect x="36" y="27" width="3" height="3" fill="#707070"/><rect x="39" y="27" width="3" height="3" fill="#787878"/><rect x="42" y="27" width="3" height="3" fill="#818181"/><rect x="45" y="27" width="3" height="3" fill="#888888"/><rect x="48" y="27" width="3" height="3" fill="#8f8f8f"/><rect x="51" y="27" width="3" height="3" fill="#929292"/><rect x="54" y="27" width="3" height="3" fill="#969696"/><rect x="57" y="27" width="3" height="3" fill="#9b9b9b"/><rect x="60" y="27" width="3" height="3" fill="#a1a1a1"/><rect x="63" y="27" width="3" height="3" fill="#a8a8a8"/><rect x="66" y="27" width="3" height="3" fill="#b0b0b0"/><rect x="69" y="27" width="3" height="3" fill="#b7b7b7"/><rect x="72" y="27" width="3" height="3" fill="#bdbdbd"/><rect x="75" y="27" width="3" height="3" fill="#c4c4c4"/><rect x="78" y="27" width="3" height="3" fill="#cccccc"/><rect x="81" y="27" width="3" height="3" fill="#d1d1d1"/><rect x="84" y="27" width="3" height="3" fill="#d5d5d5"/><rect x="87" y="27" width="3" height="3" fill="#dadada"/><rect x="90" y="27" width="3" height="3" fill="#dddddd"/><rect x="93" y="27" width="3" height="3" fill="#dedede"/><rect x="96" y="27" width="3" height="3" fill="#e0e0e0"/><rect x="99" y="27" width="3" height="3" fill="#e1e1e1"/><rect x="102" y="27" width="3" height="3" fill="#e1e1e1"/><rect x="105" y="27" width="3" height="3" fill="#e1e1e1"/><rect x="108" y="27" width="3" height="3" fill="#e1e1e1"/><rect x="111" y="27" width="3" height="3" fill="#e2e2e2"/><rect x="114" y="27" width="3" height="3" fill="#e3e3e3"/><rect x="117" y="27" width="3" height="3" fill="#e4e4e4"/><rect x="120" y="27" width="3" height="3" fill="#e4e4e4"/><rect x="123" y="27" width="3" height="3" fill="#e4e4e4"/><rect x="-6" y="30" width="3" height="3" fill="#2c2c2c"/><rect x="-3" y="30" width="3" height="3" fill="#2c2c2c"/><rect x="0" y="30" width="3" height="3" fill="#2d2d2d"/><rect x="3" y="30" width="3" height="3" fill="#2f2f2f"/><rect x="6" y="30" width="3" height="3" fill="#313131"/><rect x="9" y="30" width="3" height="3" fill="#353535"/><rect x="12" y="30" width="3" height="3" fill="#3c3c3c"/><rect x="15" y="30" width="3" height="3" fill="#474747"/><rect x="18" y="30" width="3" height="3" fill="#525252"/><rect x="21" y="30" width="3" height="3" fill="#595959"/><rect x="24" y="30" width="3" height="3" fill="#5d5d5d"/><rect x="27" y="30" width="3" height="3" fill="#616161"/><rect x="30" y="30" width="3" height="3" fill="#666666"/><rect x="33" y="30" width="3" height="3" fill="#6c6c6c"/><rect x="36" y="30" width="3" height="3" fill="#727272"/><rect x="39" y="30" width="3" height="3" fill="#7a7a7a"/><rect x="42" y="30" width="3" height="3" fill="#838383"/><rect x="45" y="30" width="3" height="3" fill="#8b8b8b"/><rect x="48" y="30" width="3" height="3" fill="#919191"/><rect x="51" y="30" width="3" height="3" fill="#959595"/><rect x="54" y="30" width="3" height="3" fill="#999999"/><rect x="57" y="30" width="3" height="3" fill="#9e9e9e"/><rect x="60" y="30" width="3" height="3" fill="#a4a4a4"/><rect x="63" y="30" width="3" height="3" fill="#acacac"/><rect x="66" y="30" width="3" height="3" fill="#b3b3b3"/><rect x="69" y="30" width="3" height="3" fill="#bababa"/><rect x="72" y="30" width="3" height="3" fill="#c0c0c0"/><rect x="75" y="30" width="3" height="3" fill="#c7c7c7"/><rect x="78" y="30" width="3" height="3" fill="#cdcdcd"/><rect x="81" y="30" width="3" height="3" fill="#d2d2d2"/><rect x="84" y="30" width="3" height="3" fill="#d6d6d6"/><rect x="87" y="30" width="3" height="3" fill="#dbdbdb"/><rect x="90" y="30" width="3" height="3" fill="#dedede"/><rect x="93" y="30" width="3" height="3" fill="#dfdfdf"/><rect x="96" y="30" width="3" height="3" fill="#e0e0e0"/><rect x="99" y="30" width="3" height="3" fill="#e2e2e2"/><rect x="102" y="30" width="3" height="3" fill="#e2e2e2"/><rect x="105" y="30" width="3" height="3" fill="#e2e2e2"/><rect x="108" y="30" width="3" height="3" fill="#e2e2e2"/><rect x="111" y="30" width="3" height="3" fill="#e3e3e3"/><rect x="114" y="30" width="3" height="3" fill="#e3e3e3"/><rect x="117" y="30" width="3" height="3" fill="#e4e4e4"/><rect x="120" y="30" width="3" height="3" fill="#e4e4e4"/><rect x="123" y="30" width="3" height="3" fill="#e4e4e4"/><rect x="-6" y="33" width="3" height="3" fill="#2d2d2d"/><rect x="-3" y="33" width="3" height="3" fill="#2d2d2d"/><rect x="0" y="33" width="3" height="3" fill="#2e2e2e"/><rect x="3" y="33" width="3" height="3" fill="#303030"/><rect x="6" y="33" width="3" height="3" fill="#323232"/><rect x="9" y="33" width="3" height="3" fill="#373737"/><rect x="12" y="33" width="3" height="3" fill="#3f3f3f"/><rect x="15" y="33" width="3" height="3" fill="#4a4a4a"/><rect x="18" y="33" width="3" height="3" fill="#545454"/><rect x="21" y="33" width="3" height="3" fill="#5a5a5a"/><rect x="24" y="33" width="3" height="3" fill="#5e5e5e"/><rect x="27" y="33" width="3" height="3" fill="#626262"/><rect x="30" y="33" width="3" height="3" fill="#676767"/><rect x="33" y="33" width="3" height="3" fill="#6d6d6d"/><rect x="36" y="33" width="3" height="3" fill="#747474"/><rect x="39" y="33" width="3" height="3" fill="#7c7c7c"/><rect x="42" y="33" width="3" height="3" fill="#858585"/><rect x="45" y="33" width="3" height="3" fill="#8d8d8d"/><rect x="48" y="33" width="3" height="3" fill="#939393"/><rect x="51" y="33" width="3" height="3" fill="#989898"/><rect x="54" y="33" width="3" height="3" fill="#9d9d9d"/><rect x="57" y="33" width="3" height="3" fill="#a2a2a2"/><rect x="60" y="33" width="3" height="3" fill="#a8a8a8"/><rect x="63" y="33" width="3" height="3" fill="#b0b0b0"/><rect x="66" y="33" width="3" height="3" fill="#b7b7b7"/><rect x="69" y="33" width="3" height="3" fill="#bebebe"/><rect x="72" y="33" width="3" height="3" fill="#c3c3c3"/><rect x="75" y="33" width="3" height="3" fill="#c9c9c9"/><rect x="78" y="33" width="3" height="3" fill="#cfcfcf"/><rect x="81" y="33" width="3" height="3" fill="#d3d3d3"/><rect x="84" y="33" width="3" height="3" fill="#d7d7d7"/><rect x="87" y="33" width="3" height="3" fill="#dbdbdb"/><rect x="90" y="33" width="3" height="3" fill="#dedede"/><rect x="93" y="33" width="3" height="3" fill="#dfdfdf"/><rect x="96" y="33" width="3" height="3" fill="#e1e1e1"/><rect x="99" y="33" width="3" height="3" fill="#e2e2e2"/><rect x="102" y="33" width="3" height="3" fill="#e2e2e2"/><rect x="105" y="33" width="3" height="3" fill="#e2e2e2"/><rect x="108" y="33" width="3" height="3" fill="#e2e2e2"/><rect x="111" y="33" width="3" height="3" fill="#e3e3e3"/><rect x="114" y="33" width="3" height="3" fill="#e3e3e3"/><rect x="117" y="33" width="3" height="3" fill="#e4e4e4"/><rect x="120" y="33" width="3" height="3" fill="#e4e4e4"/><rect x="123" y="33" width="3" height="3" fill="#e4e4e4"/><rect x="-6" y="36" width="3" height="3" fill="#2e2e2e"/><rect x="-3" y="36" width="3" height="3" fill="#2e2e2e"/><rect x="0" y="36" width="3" height="3" fill="#2f2f2f"/><rect x="3" y="36" width="3" height="3" fill="#313131"/><rect x="6" y="36" width="3" height="3" fill="#333333"/><rect x="9" y="36" width="3" height="3" fill="#393939"/><rect x="12" y="36" width="3" height="3" fill="#424242"/><rect x="15" y="36" width="3" height="3" fill="#4c4c4c"/><rect x="18" y="36" width="3" height="3" fill="#555555"/><rect x="21" y="36" width="3" height="3" fill="#5b5b5b"/><rect x="24" y="36" width="3" height="3" fill="#5f5f5f"/><rect x="27" y="36" width="3" height="3" fill="#636363"/><rect x="30" y="36" width="3" height="3" fill="#686868"/><rect x="33" y="36" width="3" height="3" fill="#6e6e6e"/><rect x="36" y="36" width="3" height="3" fill="#757575"/><rect x="39" y="36" width="3" height="3" fill="#7d7d7d"/><rect x="42" y="36" width="3" height="3" fill="#868686"/><rect x="45" y="36" width="3" height="3" fill="#8e8e8e"/><rect x="48" y="36" width="3" height="3" fill="#959595"/><rect x="51" y="36" width="3" height="3" fill="#9b9b9b"/><rect x="54" y="36" width="3" height="3" fill="#a0a0a0"/><rect x="57" y="36" width="3" height="3" fill="#a6a6a6"/><rect x="60" y="36" width="3" height="3" fill="#acacac"/><rect x="63" y="36" width="3" height="3" fill="#b4b4b4"/><rect x="66" y="36" width="3" height="3" fill="#bbbbbb"/><rect x="69" y="36" width="3" height="3" fill="#c1c1c1"/><rect x="72" y="36" width="3" height="3" fill="#c6c6c6"/><rect x="75" y="36" width="3" height="3" fill="#cbcbcb"/><rect x="78" y="36" width="3" height="3" fill="#d0d0d0"/><rect x="81" y="36" width="3" height="3" fill="#d4d4d4"/><rect x="84" y="36" width="3" height="3" fill="#d8d8d8"/><rect x="87" y="36" width="3" height="3" fill="#dcdcdc"/><rect x="90" y="36" width="3" height="3" fill="#dedede"/><rect x="93" y="36" width="3" height="3" fill="#e0e0e0"/><rect x="96" y="36" width="3" height="3" fill="#e1e1e1"/><rect x="99" y="36" width="3" height="3" fill="#e2e2e2"/><rect x="102" y="36" width="3" height="3" fill="#e2e2e2"/><rect x="105" y="36" width="3" height="3" fill="#e3e3e3"/><rect x="108" y="36" width="3" height="3" fill="#e3e3e3"/><rect x="111" y="36" width="3" height="3" fill="#e3e3e3"/><rect x="114" y="36" width="3" height="3" fill="#e4e4e4"/><rect x="117" y="36" width="3" height="3" fill="#e4e4e4"/><rect x="120" y="36" width="3" height="3" fill="#e4e4e4"/><rect x="123" y="36" width="3" height="3" fill="#e4e4e4"/><rect x="-6" y="39" width="3" height="3" fill="#2f2f2f"/><rect x="-3" y="39" width="3" height="3" fill="#2f2f2f"/><rect x="0" y="39" width="3" height="3" fill="#303030"/><rect x="3" y="39" width="3" height="3" fill="#323232"/><rect x="6" y="39" width="3" height="3" fill="#343434"/><rect x="9" y="39" width="3" height="3" fill="#3b3b3b"/><rect x="12" y="39" width="3" height="3" fill="#454545"/><rect x="15" y="39" width="3" height="3" fill="#4f4f4f"/><rect x="18" y="39" width="3" height="3" fill="#575757"/><rect x="21" y="39" width="3" height="3" fill="#5c5c5c"/><rect x="24" y="39" width="3" height="3" fill="#606060"/><rect x="27" y="39" width="3" height="3" fill="#656565"/><rect x="30" y="39" width="3" height="3" fill="#6a6a6a"/><rect x="33" y="39" width="3" height="3" fill="#707070"/><rect x="36" y="39" width="3" height="3" fill="#777777"/><rect x="39" y="39" width="3" height="3" fill="#7f7f7f"/><rect x="42" y="39" width="3" height="3" fill="#888888"/><rect x="45" y="39" width="3" height="3" fill="#909090"/><rect x="48" y="39" width="3" height="3" fill="#979797"/><rect x="51" y="39" width="3" height="3" fill="#9e9e9e"/><rect x="54" y="39" width="3" height="3" fill="#a4a4a4"/><rect x="57" y="39" width="3" height="3" fill="#aaaaaa"/><rect x="60" y="39" width="3" height="3" fill="#b0b0b0"/><rect x="63" y="39" width="3" height="3" fill="#b8b8b8"/><rect x="66" y="39" width="3" height="3" fill="#bfbfbf"/><rect x="69" y="39" width="3" height="3" fill="#c5c5c5"/><rect x="72" y="39" width="3" height="3" fill="#c9c9c9"/><rect x="75" y="39" width="3" height="3" fill="#cdcdcd"/><rect x="78" y="39" width="3" height="3" fill="#d1d1d1"/><rect x="81" y="39" width="3" height="3" fill="#d5d5d5"/><rect x="84" y="39" width="3" height="3" fill="#d9d9d9"/><rect x="87" y="39" width="3" height="3" fill="#dcdcdc"/><rect x="90" y="39" width="3" height="3" fill="#dfdfdf"/><rect x="93" y="39" width="3" height="3" fill="#e0e0e0"/><rect x="96" y="39" width="3" height="3" fill="#e1e1e1"/><rect x="99" y="39" width="3" height="3" fill="#e2e2e2"/><rect x="102" y="39" width="3" height="3" fill="#e2e2e2"/><rect x="105" y="39" width="3" height="3" fill="#e3e3e3"/><rect x="108" y="39" width="3" height="3" fill="#e3e3e3"/><rect x="111" y="39" width="3" height="3" fill="#e4e4e4"/><rect x="114" y="39" width="3" height="3" fill="#e4e4e4"/><rect x="117" y="39" width="3" height="3" fill="#e4e4e4"/><rect x="120" y="39" width="3" height="3" fill="#e4e4e4"/><rect x="123" y="39" width="3" height="3" fill="#e4e4e4"/><rect x="-6" y="42" width="3" height="3" fill="#303030"/><rect x="-3" y="42" width="3" height="3" fill="#303030"/><rect x="0" y="42" width="3" height="3" fill="#313131"/><rect x="3" y="42" width="3" height="3" fill="#333333"/><rect x="6" y="42" width="3" height="3" fill="#353535"/><rect x="9" y="42" width="3" height="3" fill="#3d3d3d"/><rect x="12" y="42" width="3" height="3" fill="#484848"/><rect x="15" y="42" width="3" height="3" fill="#525252"/><rect x="18" y="42" width="3" height="3" fill="#595959"/><rect x="21" y="42" width="3" height="3" fill="#5d5d5d"/><rect x="24" y="42" width="3" height="3" fill="#616161"/><rect x="27" y="42" width="3" height="3" fill="#666666"/><rect x="30" y="42" width="3" height="3" fill="#6b6b6b"/><rect x="33" y="42" width="3" height="3" fill="#717171"/><rect x="36" y="42" width="3" height="3" fill="#787878"/><rect x="39" y="42" width="3" height="3" fill="#808080"/><rect x="42" y="42" width="3" height="3" fill="#898989"/><rect x="45" y="42" width="3" height="3" fill="#929292"/><rect x="48" y="42" width="3" height="3" fill="#999999"/><rect x="51" y="42" width="3" height="3" fill="#a1a1a1"/><rect x="54" y="42" width="3" height="3" fill="#a8a8a8"/><rect x="57" y="42" width="3" height="3" fill="#adadad"/><rect x="60" y="42" width="3" height="3" fill="#b4b4b4"/><rect x="63" y="42" width="3" height="3" fill="#bcbcbc"/><rect x="66" y="42" width="3" height="3" fill="#c2c2c2"/><rect x="69" y="42" width="3" height="3" fill="#c8c8c8"/><rect x="72" y="42" width="3" height="3" fill="#cbcbcb"/><rect x="75" y="42" width="3" height="3" fill="#cfcfcf"/><rect x="78" y="42" width="3" height="3" fill="#d2d2d2"/><rect x="81" y="42" width="3" height="3" fill="#d6d6d6"/><rect x="84" y="42" width="3" height="3" fill="#d9d9d9"/><rect x="87" y="42" width="3" height="3" fill="#dddddd"/><rect x="90" y="42" width="3" height="3" fill="#dfdfdf"/><rect x="93" y="42" width="3" height="3" fill="#e0e0e0"/><rect x="96" y="42" width="3" height="3" fill="#e1e1e1"/><rect x="99" y="42" width="3" height="3" fill="#e2e2e2"/><rect x="102" y="42" width="3" height="3" fill="#e2e2e2"/><rect x="105" y="42" width="3" height="3" fill="#e3e3e3"/><rect x="108" y="42" width="3" height="3" fill="#e4e4e4"/><rect x="111" y="42" width="3" height="3" fill="#e4e4e4"/><rect x="114" y="42" width="3" height="3" fill="#e4e4e4"/><rect x="117" y="42" width="3" height="3" fill="#e4e4e4"/><rect x="120" y="42" width="3" height="3" fill="#e4e4e4"/><rect x="123" y="42" width="3" height="3" fill="#e4e4e4"/><rect x="-6" y="45" width="3" height="3" fill="#333333"/><rect x="-3" y="45" width="3" height="3" fill="#333333"/><rect x="0" y="45" width="3" height="3" fill="#343434"/><rect x="3" y="45" width="3" height="3" fill="#373737"/><rect x="6" y="45" width="3" height="3" fill="#393939"/><rect x="9" y="45" width="3" height="3" fill="#414141"/><rect x="12" y="45" width="3" height="3" fill="#4c4c4c"/><rect x="15" y="45" width="3" height="3" fill="#555555"/><rect x="18" y="45" width="3" height="3" fill="#5c5c5c"/><rect x="21" y="45" width="3" height="3" fill="#606060"/><rect x="24" y="45" width="3" height="3" fill="#636363"/><rect x="27" y="45" width="3" height="3" fill="#686868"/><rect x="30" y="45" width="3" height="3" fill="#6e6e6e"/><rect x="33" y="45" width="3" height="3" fill="#747474"/><rect x="36" y="45" width="3" height="3" fill="#7b7b7b"/><rect x="39" y="45" width="3" height="3" fill="#838383"/><rect x="42" y="45" width="3" height="3" fill="#8c8c8c"/><rect x="45" y="45" width="3" height="3" fill="#949494"/><rect x="48" y="45" width="3" height="3" fill="#9c9c9c"/><rect x="51" y="45" width="3" height="3" fill="#a4a4a4"/><rect x="54" y="45" width="3" height="3" fill="#ababab"/><rect x="57" y="45" width="3" height="3" fill="#b1b1b1"/><rect x="60" y="45" width="3" height="3" fill="#b7b7b7"/><rect x="63" y="45" width="3" height="3" fill="#bebebe"/><rect x="66" y="45" width="3" height="3" fill="#c4c4c4"/><rect x="69" y="45" width="3" height="3" fill="#cacaca"/><rect x="72" y="45" width="3" height="3" fill="#cdcdcd"/><rect x="75" y="45" width="3" height="3" fill="#d0d0d0"/><rect x="78" y="45" width="3" height="3" fill="#d2d2d2"/><rect x="81" y="45" width="3" height="3" fill="#d6d6d6"/><rect x="84" y="45" width="3" height="3" fill="#d9d9d9"/><rect x="87" y="45" width="3" height="3" fill="#dddddd"/><rect x="90" y="45" width="3" height="3" fill="#dfdfdf"/><rect x="93" y="45" width="3" height="3" fill="#e0e0e0"/><rect x="96" y="45" width="3" height="3" fill="#e1e1e1"/><rect x="99" y="45" width="3" height="3" fill="#e2e2e2"/><rect x="102" y="45" width="3" height="3" fill="#e2e2e2"/><rect x="105" y="45" width="3" height="3" fill="#e3e3e3"/><rect x="108" y="45" width="3" height="3" fill="#e4e4e4"/><rect x="111" y="45" width="3" height="3" fill="#e4e4e4"/><rect x="114" y="45" width="3" height="3" fill="#e4e4e4"/><rect x="117" y="45" width="3" height="3" fill="#e4e4e4"/><rect x="120" y="45" width="3" height="3" fill="#e4e4e4"/><rect x="123" y="45" width="3" height="3" fill="#e4e4e4"/><rect x="-6" y="48" width="3" height="3" fill="#373737"/><rect x="-3" y="48" width="3" height="3" fill="#373737"/><rect x="0" y="48" width="3" height="3" fill="#3a3a3a"/><rect x="3" y="48" width="3" height="3" fill="#3e3e3e"/><rect x="6" y="48" width="3" height="3" fill="#404040"/><rect x="9" y="48" width="3" height="3" fill="#484848"/><rect x="12" y="48" width="3" height="3" fill="#515151"/><rect x="15" y="48" width="3" height="3" fill="#595959"/><rect x="18" y="48" width="3" height="3" fill="#606060"/><rect x="21" y="48" width="3" height="3" fill="#636363"/><rect x="24" y="48" width="3" height="3" fill="#676767"/><rect x="27" y="48" width="3" height="3" fill="#6c6c6c"/><rect x="30" y="48" width="3" height="3" fill="#727272"/><rect x="33" y="48" width="3" height="3" fill="#777777"/><rect x="36" y="48" width="3" height="3" fill="#7e7e7e"/><rect x="39" y="48" width="3" height="3" fill="#868686"/><rect x="42" y="48" width="3" height="3" fill="#8f8f8f"/><rect x="45" y="48" width="3" height="3" fill="#989898"/><rect x="48" y="48" width="3" height="3" fill="#a0a0a0"/><rect x="51" y="48" width="3" height="3" fill="#a7a7a7"/><rect x="54" y="48" width="3" height="3" fill="#aeaeae"/><rect x="57" y="48" width="3" height="3" fill="#b3b3b3"/><rect x="60" y="48" width="3" height="3" fill="#b9b9b9"/><rect x="63" y="48" width="3" height="3" fill="#bfbfbf"/><rect x="66" y="48" width="3" height="3" fill="#c5c5c5"/><rect x="69" y="48" width="3" height="3" fill="#cacaca"/><rect x="72" y="48" width="3" height="3" fill="#cdcdcd"/><rect x="75" y="48" width="3" height="3" fill="#cfcfcf"/><rect x="78" y="48" width="3" height="3" fill="#d2d2d2"/><rect x="81" y="48" width="3" height="3" fill="#d5d5d5"/><rect x="84" y="48" width="3" height="3" fill="#d9d9d9"/><rect x="87" y="48" width="3" height="3" fill="#dcdcdc"/><rect x="90" y="48" width="3" height="3" fill="#dedede"/><rect x="93" y="48" width="3" height="3" fill="#dfdfdf"/><rect x="96" y="48" width="3" height="3" fill="#e0e0e0"/><rect x="99" y="48" width="3" height="3" fill="#e1e1e1"/><rect x="102" y="48" width="3" height="3" fill="#e2e2e2"/><rect x="105" y="48" width="3" height="3" fill="#e3e3e3"/><rect x="108" y="48" width="3" height="3" fill="#e3e3e3"/><rect x="111" y="48" width="3" height="3" fill="#e4e4e4"/><rect x="114" y="48" width="3" height="3" fill="#e4e4e4"/><rect x="117" y="48" width="3" height="3" fill="#e4e4e4"/><rect x="120" y="48" width="3" height="3" fill="#e4e4e4"/><rect x="123" y="48" width="3" height="3" fill="#e4e4e4"/><rect x="-6" y="51" width="3" height="3" fill="#3c3c3c"/><rect x="-3" y="51" width="3" height="3" fill="#3c3c3c"/><rect x="0" y="51" width="3" height="3" fill="#404040"/><rect x="3" y="51" width="3" height="3" fill="#454545"/><rect x="6" y="51" width="3" height="3" fill="#484848"/><rect x="9" y="51" width="3" height="3" fill="#4f4f4f"/><rect x="12" y="51" width="3" height="3" fill="#575757"/><rect x="15" y="51" width="3" height="3" fill="#5e5e5e"/><rect x="18" y="51" width="3" height="3" fill="#636363"/><rect x="21" y="51" width="3" height="3" fill="#676767"/><rect x="24" y="51" width="3" height="3" fill="#6b6b6b"/><rect x="27" y="51" width="3" height="3" fill="#707070"/><rect x="30" y="51" width="3" height="3" fill="#757575"/><rect x="33" y="51" width="3" height="3" fill="#7b7b7b"/><rect x="36" y="51" width="3" height="3" fill="#818181"/><rect x="39" y="51" width="3" height="3" fill="#898989"/><rect x="42" y="51" width="3" height="3" fill="#929292"/><rect x="45" y="51" width="3" height="3" fill="#9b9b9b"/><rect x="48" y="51" width="3" height="3" fill="#a4a4a4"/><rect x="51" y="51" width="3" height="3" fill="#ababab"/><rect x="54" y="51" width="3" height="3" fill="#b1b1b1"/><rect x="57" y="51" width="3" height="3" fill="#b5b5b5"/><rect x="60" y="51" width="3" height="3" fill="#bababa"/><rect x="63" y="51" width="3" height="3" fill="#c0c0c0"/><rect x="66" y="51" width="3" height="3" fill="#c5c5c5"/><rect x="69" y="51" width="3" height="3" fill="#cacaca"/><rect x="72" y="51" width="3" height="3" fill="#cccccc"/><rect x="75" y="51" width="3" height="3" fill="#cfcfcf"/><rect x="78" y="51" width="3" height="3" fill="#d2d2d2"/><rect x="81" y="51" width="3" height="3" fill="#d5d5d5"/><rect x="84" y="51" width="3" height="3" fill="#d8d8d8"/><rect x="87" y="51" width="3" height="3" fill="#dbdbdb"/><rect x="90" y="51" width="3" height="3" fill="#dddddd"/><rect x="93" y="51" width="3" height="3" fill="#dedede"/><rect x="96" y="51" width="3" height="3" fill="#dfdfdf"/><rect x="99" y="51" width="3" height="3" fill="#e1e1e1"/><rect x="102" y="51" width="3" height="3" fill="#e1e1e1"/><rect x="105" y="51" width="3" height="3" fill="#e2e2e2"/><rect x="108" y="51" width="3" height="3" fill="#e3e3e3"/><rect x="111" y="51" width="3" height="3" fill="#e3e3e3"/><rect x="114" y="51" width="3" height="3" fill="#e4e4e4"/><rect x="117" y="51" width="3" height="3" fill="#e4e4e4"/><rect x="120" y="51" width="3" height="3" fill="#e4e4e4"/><rect x="123" y="51" width="3" height="3" fill="#e4e4e4"/><rect x="-6" y="54" width="3" height="3" fill="#414141"/><rect x="-3" y="54" width="3" height="3" fill="#414141"/><rect x="0" y="54" width="3" height="3" fill="#454545"/><rect x="3" y="54" width="3" height="3" fill="#4c4c4c"/><rect x="6" y="54" width="3" height="3" fill="#4f4f4f"/><rect x="9" y="54" width="3" height="3" fill="#555555"/><rect x="12" y="54" width="3" height="3" fill="#5c5c5c"/><rect x="15" y="54" width="3" height="3" fill="#626262"/><rect x="18" y="54" width="3" height="3" fill="#676767"/><rect x="21" y="54" width="3" height="3" fill="#6b6b6b"/><rect x="24" y="54" width="3" height="3" fill="#6e6e6e"/><rect x="27" y="54" width="3" height="3" fill="#747474"/><rect x="30" y="54" width="3" height="3" fill="#797979"/><rect x="33" y="54" width="3" height="3" fill="#7e7e7e"/><rect x="36" y="54" width="3" height="3" fill="#858585"/><rect x="39" y="54" width="3" height="3" fill="#8c8c8c"/><rect x="42" y="54" width="3" height="3" fill="#959595"/><rect x="45" y="54" width="3" height="3" fill="#9e9e9e"/><rect x="48" y="54" width="3" height="3" fill="#a8a8a8"/><rect x="51" y="54" width="3" height="3" fill="#aeaeae"/><rect x="54" y="54" width="3" height="3" fill="#b4b4b4"/><rect x="57" y="54" width="3" height="3" fill="#b8b8b8"/><rect x="60" y="54" width="3" height="3" fill="#bcbcbc"/><rect x="63" y="54" width="3" height="3" fill="#c0c0c0"/><rect x="66" y="54" width="3" height="3" fill="#c5c5c5"/><rect x="69" y="54" width="3" height="3" fill="#cacaca"/><rect x="72" y="54" width="3" height="3" fill="#cccccc"/><rect x="75" y="54" width="3" height="3" fill="#cfcfcf"/><rect x="78" y="54" width="3" height="3" fill="#d1d1d1"/><rect x="81" y="54" width="3" height="3" fill="#d4d4d4"/><rect x="84" y="54" width="3" height="3" fill="#d7d7d7"/><rect x="87" y="54" width="3" height="3" fill="#dadada"/><rect x="90" y="54" width="3" height="3" fill="#dcdcdc"/><rect x="93" y="54" width="3" height="3" fill="#dedede"/><rect x="96" y="54" width="3" height="3" fill="#dfdfdf"/><rect x="99" y="54" width="3" height="3" fill="#e0e0e0"/><rect x="102" y="54" width="3" height="3" fill="#e1e1e1"/><rect x="105" y="54" width="3" height="3" fill="#e2e2e2"/><rect x="108" y="54" width="3" height="3" fill="#e2e2e2"/><rect x="111" y="54" width="3" height="3" fill="#e3e3e3"/><rect x="114" y="54" width="3" height="3" fill="#e3e3e3"/><rect x="117" y="54" width="3" height="3" fill="#e4e4e4"/><rect x="120" y="54" width="3" height="3" fill="#e4e4e4"/><rect x="123" y="54" width="3" height="3" fill="#e4e4e4"/><rect x="-6" y="57" width="3" height="3" fill="#454545"/><rect x="-3" y="57" width="3" height="3" fill="#454545"/><rect x="0" y="57" width="3" height="3" fill="#4b4b4b"/><rect x="3" y="57" width="3" height="3" fill="#535353"/><rect x="6" y="57" width="3" height="3" fill="#575757"/><rect x="9" y="57" width="3" height="3" fill="#5c5c5c"/><rect x="12" y="57" width="3" height="3" fill="#616161"/><rect x="15" y="57" width="3" height="3" fill="#666666"/><rect x="18" y="57" width="3" height="3" fill="#6b6b6b"/><rect x="21" y="57" width="3" height="3" fill="#6e6e6e"/><rect x="24" y="57" width="3" height="3" fill="#727272"/><rect x="27" y="57" width="3" height="3" fill="#787878"/><rect x="30" y="57" width="3" height="3" fill="#7d7d7d"/><rect x="33" y="57" width="3" height="3" fill="#828282"/><rect x="36" y="57" width="3" height="3" fill="#888888"/><rect x="39" y="57" width="3" height="3" fill="#8f8f8f"/><rect x="42" y="57" width="3" height="3" fill="#989898"/><rect x="45" y="57" width="3" height="3" fill="#a2a2a2"/><rect x="48" y="57" width="3" height="3" fill="#acacac"/><rect x="51" y="57" width="3" height="3" fill="#b2b2b2"/><rect x="54" y="57" width="3" height="3" fill="#b7b7b7"/><rect x="57" y="57" width="3" height="3" fill="#bababa"/><rect x="60" y="57" width="3" height="3" fill="#bdbdbd"/><rect x="63" y="57" width="3" height="3" fill="#c1c1c1"/><rect x="66" y="57" width="3" height="3" fill="#c5c5c5"/><rect x="69" y="57" width="3" height="3" fill="#cacaca"/><rect x="72" y="57" width="3" height="3" fill="#cccccc"/><rect x="75" y="57" width="3" height="3" fill="#cecece"/><rect x="78" y="57" width="3" height="3" fill="#d1d1d1"/><rect x="81" y="57" width="3" height="3" fill="#d3d3d3"/><rect x="84" y="57" width="3" height="3" fill="#d6d6d6"/><rect x="87" y="57" width="3" height="3" fill="#d9d9d9"/><rect x="90" y="57" width="3" height="3" fill="#dbdbdb"/><rect x="93" y="57" width="3" height="3" fill="#dddddd"/><rect x="96" y="57" width="3" height="3" fill="#dedede"/><rect x="99" y="57" width="3" height="3" fill="#e0e0e0"/><rect x="102" y="57" width="3" height="3" fill="#e0e0e0"/><rect x="105" y="57" width="3" height="3" fill="#e1e1e1"/><rect x="108" y="57" width="3" height="3" fill="#e2e2e2"/><rect x="111" y="57" width="3" height="3" fill="#e3e3e3"/><rect x="114" y="57" width="3" height="3" fill="#e3e3e3"/><rect x="117" y="57" width="3" height="3" fill="#e4e4e4"/><rect x="120" y="57" width="3" height="3" fill="#e4e4e4"/><rect x="123" y="57" width="3" height="3" fill="#e4e4e4"/><rect x="-6" y="60" width="3" height="3" fill="#4a4a4a"/><rect x="-3" y="60" width="3" height="3" fill="#4a4a4a"/><rect x="0" y="60" width="3" height="3" fill="#505050"/><rect x="3" y="60" width="3" height="3" fill="#585858"/><rect x="6" y="60" width="3" height="3" fill="#5d5d5d"/><rect x="9" y="60" width="3" height="3" fill="#616161"/><rect x="12" y="60" width="3" height="3" fill="#666666"/><rect x="15" y="60" width="3" height="3" fill="#6b6b6b"/><rect x="18" y="60" width="3" height="3" fill="#707070"/><rect x="21" y="60" width="3" height="3" fill="#747474"/><rect x="24" y="60" width="3" height="3" fill="#787878"/><rect x="27" y="60" width="3" height="3" fill="#7e7e7e"/><rect x="30" y="60" width="3" height="3" fill="#848484"/><rect x="33" y="60" width="3" height="3" fill="#888888"/><rect x="36" y="60" width="3" height="3" fill="#8e8e8e"/><rect x="39" y="60" width="3" height="3" fill="#949494"/><rect x="42" y="60" width="3" height="3" fill="#9c9c9c"/><rect x="45" y="60" width="3" height="3" fill="#a5a5a5"/><rect x="48" y="60" width="3" height="3" fill="#afafaf"/><rect x="51" y="60" width="3" height="3" fill="#b4b4b4"/><rect x="54" y="60" width="3" height="3" fill="#b8b8b8"/><rect x="57" y="60" width="3" height="3" fill="#bbbbbb"/><rect x="60" y="60" width="3" height="3" fill="#bebebe"/><rect x="63" y="60" width="3" height="3" fill="#c1c1c1"/><rect x="66" y="60" width="3" height="3" fill="#c5c5c5"/><rect x="69" y="60" width="3" height="3" fill="#c9c9c9"/><rect x="72" y="60" width="3" height="3" fill="#cccccc"/><rect x="75" y="60" width="3" height="3" fill="#cecece"/><rect x="78" y="60" width="3" height="3" fill="#d0d0d0"/><rect x="81" y="60" width="3" height="3" fill="#d3d3d3"/><rect x="84" y="60" width="3" height="3" fill="#d5d5d5"/><rect x="87" y="60" width="3" height="3" fill="#d8d8d8"/><rect x="90" y="60" width="3" height="3" fill="#dadada"/><rect x="93" y="60" width="3" height="3" fill="#dcdcdc"/><rect x="96" y="60" width="3" height="3" fill="#dddddd"/><rect x="99" y="60" width="3" height="3" fill="#dedede"/><rect x="102" y="60" width="3" height="3" fill="#dfdfdf"/><rect x="105" y="60" width="3" height="3" fill="#e0e0e0"/><rect x="108" y="60" width="3" height="3" fill="#e1e1e1"/><rect x="111" y="60" width="3" height="3" fill="#e2e2e2"/><rect x="114" y="60" width="3" height="3" fill="#e2e2e2"/><rect x="117" y="60" width="3" height="3" fill="#e3e3e3"/><rect x="120" y="60" width="3" height="3" fill="#e3e3e3"/><rect x="123" y="60" width="3" height="3" fill="#e3e3e3"/><rect x="-6" y="63" width="3" height="3" fill="#4e4e4e"/><rect x="-3" y="63" width="3" height="3" fill="#4e4e4e"/><rect x="0" y="63" width="3" height="3" fill="#545454"/><rect x="3" y="63" width="3" height="3" fill="#5b5b5b"/><rect x="6" y="63" width="3" height="3" fill="#606060"/><rect x="9" y="63" width="3" height="3" fill="#656565"/><rect x="12" y="63" width="3" height="3" fill="#6b6b6b"/><rect x="15" y="63" width="3" height="3" fill="#717171"/><rect x="18" y="63" width="3" height="3" fill="#777777"/><rect x="21" y="63" width="3" height="3" fill="#7b7b7b"/><rect x="24" y="63" width="3" height="3" fill="#808080"/><rect x="27" y="63" width="3" height="3" fill="#878787"/><rect x="30" y="63" width="3" height="3" fill="#8c8c8c"/><rect x="33" y="63" width="3" height="3" fill="#929292"/><rect x="36" y="63" width="3" height="3" fill="#969696"/><rect x="39" y="63" width="3" height="3" fill="#9b9b9b"/><rect x="42" y="63" width="3" height="3" fill="#a2a2a2"/><rect x="45" y="63" width="3" height="3" fill="#a9a9a9"/><rect x="48" y="63" width="3" height="3" fill="#b1b1b1"/><rect x="51" y="63" width="3" height="3" fill="#b5b5b5"/><rect x="54" y="63" width="3" height="3" fill="#b8b8b8"/><rect x="57" y="63" width="3" height="3" fill="#bbbbbb"/><rect x="60" y="63" width="3" height="3" fill="#bdbdbd"/><rect x="63" y="63" width="3" height="3" fill="#c1c1c1"/><rect x="66" y="63" width="3" height="3" fill="#c4c4c4"/><rect x="69" y="63" width="3" height="3" fill="#c8c8c8"/><rect x="72" y="63" width="3" height="3" fill="#cbcbcb"/><rect x="75" y="63" width="3" height="3" fill="#cdcdcd"/><rect x="78" y="63" width="3" height="3" fill="#d0d0d0"/><rect x="81" y="63" width="3" height="3" fill="#d2d2d2"/><rect x="84" y="63" width="3" height="3" fill="#d5d5d5"/><rect x="87" y="63" width="3" height="3" fill="#d7d7d7"/><rect x="90" y="63" width="3" height="3" fill="#d9d9d9"/><rect x="93" y="63" width="3" height="3" fill="#dadada"/><rect x="96" y="63" width="3" height="3" fill="#dcdcdc"/><rect x="99" y="63" width="3" height="3" fill="#dddddd"/><rect x="102" y="63" width="3" height="3" fill="#dedede"/><rect x="105" y="63" width="3" height="3" fill="#dedede"/><rect x="108" y="63" width="3" height="3" fill="#dfdfdf"/><rect x="111" y="63" width="3" height="3" fill="#e0e0e0"/><rect x="114" y="63" width="3" height="3" fill="#e1e1e1"/><rect x="117" y="63" width="3" height="3" fill="#e2e2e2"/><rect x="120" y="63" width="3" height="3" fill="#e2e2e2"/><rect x="123" y="63" width="3" height="3" fill="#e2e2e2"/><rect x="-6" y="66" width="3" height="3" fill="#535353"/><rect x="-3" y="66" width="3" height="3" fill="#535353"/><rect x="0" y="66" width="3" height="3" fill="#585858"/><rect x="3" y="66" width="3" height="3" fill="#5f5f5f"/><rect x="6" y="66" width="3" height="3" fill="#646464"/><rect x="9" y="66" width="3" height="3" fill="#6a6a6a"/><rect x="12" y="66" width="3" height="3" fill="#707070"/><rect x="15" y="66" width="3" height="3" fill="#767676"/><rect x="18" y="66" width="3" height="3" fill="#7d7d7d"/><rect x="21" y="66" width="3" height="3" fill="#838383"/><rect x="24" y="66" width="3" height="3" fill="#888888"/><rect x="27" y="66" width="3" height="3" fill="#8f8f8f"/><rect x="30" y="66" width="3" height="3" fill="#959595"/><rect x="33" y="66" width="3" height="3" fill="#9b9b9b"/><rect x="36" y="66" width="3" height="3" fill="#9f9f9f"/><rect x="39" y="66" width="3" height="3" fill="#a3a3a3"/><rect x="42" y="66" width="3" height="3" fill="#a8a8a8"/><rect x="45" y="66" width="3" height="3" fill="#adadad"/><rect x="48" y="66" width="3" height="3" fill="#b3b3b3"/><rect x="51" y="66" width="3" height="3" fill="#b6b6b6"/><rect x="54" y="66" width="3" height="3" fill="#b9b9b9"/><rect x="57" y="66" width="3" height="3" fill="#bababa"/><rect x="60" y="66" width="3" height="3" fill="#bdbdbd"/><rect x="63" y="66" width="3" height="3" fill="#c0c0c0"/><rect x="66" y="66" width="3" height="3" fill="#c4c4c4"/><rect x="69" y="66" width="3" height="3" fill="#c7c7c7"/><rect x="72" y="66" width="3" height="3" fill="#cacaca"/><rect x="75" y="66" width="3" height="3" fill="#cccccc"/><rect x="78" y="66" width="3" height="3" fill="#cfcfcf"/><rect x="81" y="66" width="3" height="3" fill="#d1d1d1"/><rect x="84" y="66" width="3" height="3" fill="#d4d4d4"/><rect x="87" y="66" width="3" height="3" fill="#d6d6d6"/><rect x="90" y="66" width="3" height="3" fill="#d8d8d8"/><rect x="93" y="66" width="3" height="3" fill="#d9d9d9"/><rect x="96" y="66" width="3" height="3" fill="#dadada"/><rect x="99" y="66" width="3" height="3" fill="#dbdbdb"/><rect x="102" y="66" width="3" height="3" fill="#dcdcdc"/><rect x="105" y="66" width="3" height="3" fill="#dddddd"/><rect x="108" y="66" width="3" height="3" fill="#dedede"/><rect x="111" y="66" width="3" height="3" fill="#dedede"/><rect x="114" y="66" width="3" height="3" fill="#dfdfdf"/><rect x="117" y="66" width="3" height="3" fill="#e0e0e0"/><rect x="120" y="66" width="3" height="3" fill="#e0e0e0"/><rect x="123" y="66" width="3" height="3" fill="#e0e0e0"/><rect x="-6" y="69" width="3" height="3" fill="#575757"/><rect x="-3" y="69" width="3" height="3" fill="#575757"/><rect x="0" y="69" width="3" height="3" fill="#5c5c5c"/><rect x="3" y="69" width="3" height="3" fill="#626262"/><rect x="6" y="69" width="3" height="3" fill="#686868"/><rect x="9" y="69" width="3" height="3" fill="#6e6e6e"/><rect x="12" y="69" width="3" height="3" fill="#747474"/><rect x="15" y="69" width="3" height="3" fill="#7c7c7c"/><rect x="18" y="69" width="3" height="3" fill="#848484"/><rect x="21" y="69" width="3" height="3" fill="#8a8a8a"/><rect x="24" y="69" width="3" height="3" fill="#919191"/><rect x="27" y="69" width="3" height="3" fill="#989898"/><rect x="30" y="69" width="3" height="3" fill="#9e9e9e"/><rect x="33" y="69" width="3" height="3" fill="#a4a4a4"/><rect x="36" y="69" width="3" height="3" fill="#a7a7a7"/><rect x="39" y="69" width="3" height="3" fill="#aaaaaa"/><rect x="42" y="69" width="3" height="3" fill="#adadad"/><rect x="45" y="69" width="3" height="3" fill="#b1b1b1"/><rect x="48" y="69" width="3" height="3" fill="#b5b5b5"/><rect x="51" y="69" width="3" height="3" fill="#b7b7b7"/><rect x="54" y="69" width="3" height="3" fill="#b9b9b9"/><rect x="57" y="69" width="3" height="3" fill="#bababa"/><rect x="60" y="69" width="3" height="3" fill="#bcbcbc"/><rect x="63" y="69" width="3" height="3" fill="#c0c0c0"/><rect x="66" y="69" width="3" height="3" fill="#c3c3c3"/><rect x="69" y="69" width="3" height="3" fill="#c6c6c6"/><rect x="72" y="69" width="3" height="3" fill="#c9c9c9"/><rect x="75" y="69" width="3" height="3" fill="#cccccc"/><rect x="78" y="69" width="3" height="3" fill="#cecece"/><rect x="81" y="69" width="3" height="3" fill="#d1d1d1"/><rect x="84" y="69" width="3" height="3" fill="#d3d3d3"/><rect x="87" y="69" width="3" height="3" fill="#d5d5d5"/><rect x="90" y="69" width="3" height="3" fill="#d7d7d7"/><rect x="93" y="69" width="3" height="3" fill="#d8d8d8"/><rect x="96" y="69" width="3" height="3" fill="#d9d9d9"/><rect x="99" y="69" width="3" height="3" fill="#dadada"/><rect x="102" y="69" width="3" height="3" fill="#dbdbdb"/><rect x="105" y="69" width="3" height="3" fill="#dbdbdb"/><rect x="108" y="69" width="3" height="3" fill="#dcdcdc"/><rect x="111" y="69" width="3" height="3" fill="#dddddd"/><rect x="114" y="69" width="3" height="3" fill="#dedede"/><rect x="117" y="69" width="3" height="3" fill="#dedede"/><rect x="120" y="69" width="3" height="3" fill="#dfdfdf"/><rect x="123" y="69" width="3" height="3" fill="#dfdfdf"/><rect x="-6" y="72" width="3" height="3" fill="#5c5c5c"/><rect x="-3" y="72" width="3" height="3" fill="#5c5c5c"/><rect x="0" y="72" width="3" height="3" fill="#5f5f5f"/><rect x="3" y="72" width="3" height="3" fill="#666666"/><rect x="6" y="72" width="3" height="3" fill="#6c6c6c"/><rect x="9" y="72" width="3" height="3" fill="#727272"/><rect x="12" y="72" width="3" height="3" fill="#797979"/><rect x="15" y="72" width="3" height="3" fill="#818181"/><rect x="18" y="72" width="3" height="3" fill="#8a8a8a"/><rect x="21" y="72" width="3" height="3" fill="#919191"/><rect x="24" y="72" width="3" height="3" fill="#999999"/><rect x="27" y="72" width="3" height="3" fill="#a0a0a0"/><rect x="30" y="72" width="3" height="3" fill="#a7a7a7"/><rect x="33" y="72" width="3" height="3" fill="#adadad"/><rect x="36" y="72" width="3" height="3" fill="#b0b0b0"/><rect x="39" y="72" width="3" height="3" fill="#b1b1b1"/><rect x="42" y="72" width="3" height="3" fill="#b3b3b3"/><rect x="45" y="72" width="3" height="3" fill="#b5b5b5"/><rect x="48" y="72" width="3" height="3" fill="#b7b7b7"/><rect x="51" y="72" width="3" height="3" fill="#b8b8b8"/><rect x="54" y="72" width="3" height="3" fill="#b9b9b9"/><rect x="57" y="72" width="3" height="3" fill="#bababa"/><rect x="60" y="72" width="3" height="3" fill="#bcbcbc"/><rect x="63" y="72" width="3" height="3" fill="#bfbfbf"/><rect x="66" y="72" width="3" height="3" fill="#c2c2c2"/><rect x="69" y="72" width="3" height="3" fill="#c5c5c5"/><rect x="72" y="72" width="3" height="3" fill="#c8c8c8"/><rect x="75" y="72" width="3" height="3" fill="#cbcbcb"/><rect x="78" y="72" width="3" height="3" fill="#cecece"/><rect x="81" y="72" width="3" height="3" fill="#d0d0d0"/><rect x="84" y="72" width="3" height="3" fill="#d2d2d2"/><rect x="87" y="72" width="3" height="3" fill="#d4d4d4"/><rect x="90" y="72" width="3" height="3" fill="#d6d6d6"/><rect x="93" y="72" width="3" height="3" fill="#d7d7d7"/><rect x="96" y="72" width="3" height="3" fill="#d8d8d8"/><rect x="99" y="72" width="3" height="3" fill="#d8d8d8"/><rect x="102" y="72" width="3" height="3" fill="#d9d9d9"/><rect x="105" y="72" width="3" height="3" fill="#dadada"/><rect x="108" y="72" width="3" height="3" fill="#dbdbdb"/><rect x="111" y="72" width="3" height="3" fill="#dbdbdb"/><rect x="114" y="72" width="3" height="3" fill="#dcdcdc"/><rect x="117" y="72" width="3" height="3" fill="#dddddd"/><rect x="120" y="72" width="3" height="3" fill="#dddddd"/><rect x="123" y="72" width="3" height="3" fill="#dddddd"/><rect x="-6" y="75" width="3" height="3" fill="#606060"/><rect x="-3" y="75" width="3" height="3" fill="#606060"/><rect x="0" y="75" width="3" height="3" fill="#636363"/><rect x="3" y="75" width="3" height="3" fill="#6a6a6a"/><rect x="6" y="75" width="3" height="3" fill="#707070"/><rect x="9" y="75" width="3" height="3" fill="#777777"/><rect x="12" y="75" width="3" height="3" fill="#7e7e7e"/><rect x="15" y="75" width="3" height="3" fill="#868686"/><rect x="18" y="75" width="3" height="3" fill="#8f8f8f"/><rect x="21" y="75" width="3" height="3" fill="#969696"/><rect x="24" y="75" width="3" height="3" fill="#9d9d9d"/><rect x="27" y="75" width="3" height="3" fill="#a5a5a5"/><rect x="30" y="75" width="3" height="3" fill="#ababab"/><rect x="33" y="75" width="3" height="3" fill="#b1b1b1"/><rect x="36" y="75" width="3" height="3" fill="#b4b4b4"/><rect x="39" y="75" width="3" height="3" fill="#b5b5b5"/><rect x="42" y="75" width="3" height="3" fill="#b6b6b6"/><rect x="45" y="75" width="3" height="3" fill="#b7b7b7"/><rect x="48" y="75" width="3" height="3" fill="#b8b8b8"/><rect x="51" y="75" width="3" height="3" fill="#b8b8b8"/><rect x="54" y="75" width="3" height="3" fill="#b9b9b9"/><rect x="57" y="75" width="3" height="3" fill="#bababa"/><rect x="60" y="75" width="3" height="3" fill="#bcbcbc"/><rect x="63" y="75" width="3" height="3" fill="#bfbfbf"/><rect x="66" y="75" width="3" height="3" fill="#c2c2c2"/><rect x="69" y="75" width="3" height="3" fill="#c5c5c5"/><rect x="72" y="75" width="3" height="3" fill="#c8c8c8"/><rect x="75" y="75" width="3" height="3" fill="#cacaca"/><rect x="78" y="75" width="3" height="3" fill="#cdcdcd"/><rect x="81" y="75" width="3" height="3" fill="#cfcfcf"/><rect x="84" y="75" width="3" height="3" fill="#d1d1d1"/><rect x="87" y="75" width="3" height="3" fill="#d3d3d3"/><rect x="90" y="75" width="3" height="3" fill="#d5d5d5"/><rect x="93" y="75" width="3" height="3" fill="#d5d5d5"/><rect x="96" y="75" width="3" height="3" fill="#d6d6d6"/><rect x="99" y="75" width="3" height="3" fill="#d7d7d7"/><rect x="102" y="75" width="3" height="3" fill="#d8d8d8"/><rect x="105" y="75" width="3" height="3" fill="#d9d9d9"/><rect x="108" y="75" width="3" height="3" fill="#d9d9d9"/><rect x="111" y="75" width="3" height="3" fill="#dadada"/><rect x="114" y="75" width="3" height="3" fill="#dbdbdb"/><rect x="117" y="75" width="3" height="3" fill="#dcdcdc"/><rect x="120" y="75" width="3" height="3" fill="#dcdcdc"/><rect x="123" y="75" width="3" height="3" fill="#dcdcdc"/><rect x="-6" y="78" width="3" height="3" fill="#626262"/><rect x="-3" y="78" width="3" height="3" fill="#626262"/><rect x="0" y="78" width="3" height="3" fill="#666666"/><rect x="3" y="78" width="3" height="3" fill="#6e6e6e"/><rect x="6" y="78" width="3" height="3" fill="#757575"/><rect x="9" y="78" width="3" height="3" fill="#7c7c7c"/><rect x="12" y="78" width="3" height="3" fill="#848484"/><rect x="15" y="78" width="3" height="3" fill="#8b8b8b"/><rect x="18" y="78" width="3" height="3" fill="#929292"/><rect x="21" y="78" width="3" height="3" fill="#989898"/><rect x="24" y="78" width="3" height="3" fill="#9e9e9e"/><rect x="27" y="78" width="3" height="3" fill="#a5a5a5"/><rect x="30" y="78" width="3" height="3" fill="#ababab"/><rect x="33" y="78" width="3" height="3" fill="#b1b1b1"/><rect x="36" y="78" width="3" height="3" fill="#b4b4b4"/><rect x="39" y="78" width="3" height="3" fill="#b6b6b6"/><rect x="42" y="78" width="3" height="3" fill="#b7b7b7"/><rect x="45" y="78" width="3" height="3" fill="#b7b7b7"/><rect x="48" y="78" width="3" height="3" fill="#b8b8b8"/><rect x="51" y="78" width="3" height="3" fill="#b9b9b9"/><rect x="54" y="78" width="3" height="3" fill="#bababa"/><rect x="57" y="78" width="3" height="3" fill="#bbbbbb"/><rect x="60" y="78" width="3" height="3" fill="#bcbcbc"/><rect x="63" y="78" width="3" height="3" fill="#bfbfbf"/><rect x="66" y="78" width="3" height="3" fill="#c2c2c2"/><rect x="69" y="78" width="3" height="3" fill="#c5c5c5"/><rect x="72" y="78" width="3" height="3" fill="#c7c7c7"/><rect x="75" y="78" width="3" height="3" fill="#cacaca"/><rect x="78" y="78" width="3" height="3" fill="#cdcdcd"/><rect x="81" y="78" width="3" height="3" fill="#cfcfcf"/><rect x="84" y="78" width="3" height="3" fill="#d0d0d0"/><rect x="87" y="78" width="3" height="3" fill="#d2d2d2"/><rect x="90" y="78" width="3" height="3" fill="#d4d4d4"/><rect x="93" y="78" width="3" height="3" fill="#d4d4d4"/><rect x="96" y="78" width="3" height="3" fill="#d5d5d5"/><rect x="99" y="78" width="3" height="3" fill="#d6d6d6"/><rect x="102" y="78" width="3" height="3" fill="#d7d7d7"/><rect x="105" y="78" width="3" height="3" fill="#d7d7d7"/><rect x="108" y="78" width="3" height="3" fill="#d8d8d8"/><rect x="111" y="78" width="3" height="3" fill="#d9d9d9"/><rect x="114" y="78" width="3" height="3" fill="#dadada"/><rect x="117" y="78" width="3" height="3" fill="#dbdbdb"/><rect x="120" y="78" width="3" height="3" fill="#dcdcdc"/><rect x="123" y="78" width="3" height="3" fill="#dcdcdc"/><rect x="-6" y="81" width="3" height="3" fill="#656565"/><rect x="-3" y="81" width="3" height="3" fill="#656565"/><rect x="0" y="81" width="3" height="3" fill="#696969"/><rect x="3" y="81" width="3" height="3" fill="#727272"/><rect x="6" y="81" width="3" height="3" fill="#7a7a7a"/><rect x="9" y="81" width="3" height="3" fill="#828282"/><rect x="12" y="81" width="3" height="3" fill="#898989"/><rect x="15" y="81" width="3" height="3" fill="#8f8f8f"/><rect x="18" y="81" width="3" height="3" fill="#959595"/><rect x="21" y="81" width="3" height="3" fill="#9a9a9a"/><rect x="24" y="81" width="3" height="3" fill="#9f9f9f"/><rect x="27" y="81" width="3" height="3" fill="#a5a5a5"/><rect x="30" y="81" width="3" height="3" fill="#ababab"/><rect x="33" y="81" width="3" height="3" fill="#b0b0b0"/><rect x="36" y="81" width="3" height="3" fill="#b4b4b4"/><rect x="39" y="81" width="3" height="3" fill="#b6b6b6"/><rect x="42" y="81" width="3" height="3" fill="#b7b7b7"/><rect x="45" y="81" width="3" height="3" fill="#b8b8b8"/><rect x="48" y="81" width="3" height="3" fill="#b9b9b9"/><rect x="51" y="81" width="3" height="3" fill="#bababa"/><rect x="54" y="81" width="3" height="3" fill="#bababa"/><rect x="57" y="81" width="3" height="3" fill="#bbbbbb"/><rect x="60" y="81" width="3" height="3" fill="#bdbdbd"/><rect x="63" y="81" width="3" height="3" fill="#bfbfbf"/><rect x="66" y="81" width="3" height="3" fill="#c2c2c2"/><rect x="69" y="81" width="3" height="3" fill="#c5c5c5"/><rect x="72" y="81" width="3" height="3" fill="#c7c7c7"/><rect x="75" y="81" width="3" height="3" fill="#cacaca"/><rect x="78" y="81" width="3" height="3" fill="#cccccc"/><rect x="81" y="81" width="3" height="3" fill="#cecece"/><rect x="84" y="81" width="3" height="3" fill="#cfcfcf"/><rect x="87" y="81" width="3" height="3" fill="#d1d1d1"/><rect x="90" y="81" width="3" height="3" fill="#d2d2d2"/><rect x="93" y="81" width="3" height="3" fill="#d3d3d3"/><rect x="96" y="81" width="3" height="3" fill="#d4d4d4"/><rect x="99" y="81" width="3" height="3" fill="#d5d5d5"/><rect x="102" y="81" width="3" height="3" fill="#d5d5d5"/><rect x="105" y="81" width="3" height="3" fill="#d6d6d6"/><rect x="108" y="81" width="3" height="3" fill="#d7d7d7"/><rect x="111" y="81" width="3" height="3" fill="#d8d8d8"/><rect x="114" y="81" width="3" height="3" fill="#d9d9d9"/><rect x="117" y="81" width="3" height="3" fill="#dadada"/><rect x="120" y="81" width="3" height="3" fill="#dbdbdb"/><rect x="123" y="81" width="3" height="3" fill="#dbdbdb"/><rect x="-6" y="84" width="3" height="3" fill="#676767"/><rect x="-3" y="84" width="3" height="3" fill="#676767"/><rect x="0" y="84" width="3" height="3" fill="#6c6c6c"/><rect x="3" y="84" width="3" height="3" fill="#777777"/><rect x="6" y="84" width="3" height="3" fill="#808080"/><rect x="9" y="84" width="3" height="3" fill="#878787"/><rect x="12" y="84" width="3" height="3" fill="#8e8e8e"/><rect x="15" y="84" width="3" height="3" fill="#949494"/><rect x="18" y="84" width="3" height="3" fill="#999999"/><rect x="21" y="84" width="3" height="3" fill="#9c9c9c"/><rect x="24" y="84" width="3" height="3" fill="#a0a0a0"/><rect x="27" y="84" width="3" height="3" fill="#a6a6a6"/><rect x="30" y="84" width="3" height="3" fill="#ababab"/><rect x="33" y="84" width="3" height="3" fill="#b0b0b0"/><rect x="36" y="84" width="3" height="3" fill="#b4b4b4"/><rect x="39" y="84" width="3" height="3" fill="#b7b7b7"/><rect x="42" y="84" width="3" height="3" fill="#b8b8b8"/><rect x="45" y="84" width="3" height="3" fill="#b8b8b8"/><rect x="48" y="84" width="3" height="3" fill="#b9b9b9"/><rect x="51" y="84" width="3" height="3" fill="#bababa"/><rect x="54" y="84" width="3" height="3" fill="#bbbbbb"/><rect x="57" y="84" width="3" height="3" fill="#bcbcbc"/><rect x="60" y="84" width="3" height="3" fill="#bdbdbd"/><rect x="63" y="84" width="3" height="3" fill="#c0c0c0"/><rect x="66" y="84" width="3" height="3" fill="#c2c2c2"/><rect x="69" y="84" width="3" height="3" fill="#c5c5c5"/><rect x="72" y="84" width="3" height="3" fill="#c7c7c7"/><rect x="75" y="84" width="3" height="3" fill="#c9c9c9"/><rect x="78" y="84" width="3" height="3" fill="#cbcbcb"/><rect x="81" y="84" width="3" height="3" fill="#cdcdcd"/><rect x="84" y="84" width="3" height="3" fill="#cfcfcf"/><rect x="87" y="84" width="3" height="3" fill="#d0d0d0"/><rect x="90" y="84" width="3" height="3" fill="#d1d1d1"/><rect x="93" y="84" width="3" height="3" fill="#d2d2d2"/><rect x="96" y="84" width="3" height="3" fill="#d3d3d3"/><rect x="99" y="84" width="3" height="3" fill="#d4d4d4"/><rect x="102" y="84" width="3" height="3" fill="#d4d4d4"/><rect x="105" y="84" width="3" height="3" fill="#d5d5d5"/><rect x="108" y="84" width="3" height="3" fill="#d6d6d6"/><rect x="111" y="84" width="3" height="3" fill="#d7d7d7"/><rect x="114" y="84" width="3" height="3" fill="#d8d8d8"/><rect x="117" y="84" width="3" height="3" fill="#dadada"/><rect x="120" y="84" width="3" height="3" fill="#dadada"/><rect x="123" y="84" width="3" height="3" fill="#dadada"/><rect x="-6" y="87" width="3" height="3" fill="#6a6a6a"/><rect x="-3" y="87" width="3" height="3" fill="#6a6a6a"/><rect x="0" y="87" width="3" height="3" fill="#707070"/><rect x="3" y="87" width="3" height="3" fill="#7b7b7b"/><rect x="6" y="87" width="3" height="3" fill="#858585"/><rect x="9" y="87" width="3" height="3" fill="#8d8d8d"/><rect x="12" y="87" width="3" height="3" fill="#939393"/><rect x="15" y="87" width="3" height="3" fill="#989898"/><rect x="18" y="87" width="3" height="3" fill="#9c9c9c"/><rect x="21" y="87" width="3" height="3" fill="#9e9e9e"/><rect x="24" y="87" width="3" height="3" fill="#a1a1a1"/><rect x="27" y="87" width="3" height="3" fill="#a6a6a6"/><rect x="30" y="87" width="3" height="3" fill="#ababab"/><rect x="33" y="87" width="3" height="3" fill="#afafaf"/><rect x="36" y="87" width="3" height="3" fill="#b4b4b4"/><rect x="39" y="87" width="3" height="3" fill="#b7b7b7"/><rect x="42" y="87" width="3" height="3" fill="#b8b8b8"/><rect x="45" y="87" width="3" height="3" fill="#b9b9b9"/><rect x="48" y="87" width="3" height="3" fill="#bababa"/><rect x="51" y="87" width="3" height="3" fill="#bbbbbb"/><rect x="54" y="87" width="3" height="3" fill="#bbbbbb"/><rect x="57" y="87" width="3" height="3" fill="#bcbcbc"/><rect x="60" y="87" width="3" height="3" fill="#bebebe"/><rect x="63" y="87" width="3" height="3" fill="#c0c0c0"/><rect x="66" y="87" width="3" height="3" fill="#c2c2c2"/><rect x="69" y="87" width="3" height="3" fill="#c5c5c5"/><rect x="72" y="87" width="3" height="3" fill="#c7c7c7"/><rect x="75" y="87" width="3" height="3" fill="#c9c9c9"/><rect x="78" y="87" width="3" height="3" fill="#cbcbcb"/><rect x="81" y="87" width="3" height="3" fill="#cccccc"/><rect x="84" y="87" width="3" height="3" fill="#cecece"/><rect x="87" y="87" width="3" height="3" fill="#cfcfcf"/><rect x="90" y="87" width="3" height="3" fill="#d0d0d0"/><rect x="93" y="87" width="3" height="3" fill="#d1d1d1"/><rect x="96" y="87" width="3" height="3" fill="#d2d2d2"/><rect x="99" y="87" width="3" height="3" fill="#d2d2d2"/><rect x="102" y="87" width="3" height="3" fill="#d3d3d3"/><rect x="105" y="87" width="3" height="3" fill="#d4d4d4"/><rect x="108" y="87" width="3" height="3" fill="#d5d5d5"/><rect x="111" y="87" width="3" height="3" fill="#d6d6d6"/><rect x="114" y="87" width="3" height="3" fill="#d8d8d8"/><rect x="117" y="87" width="3" height="3" fill="#d9d9d9"/><rect x="120" y="87" width="3" height="3" fill="#dadada"/><rect x="123" y="87" width="3" height="3" fill="#dadada"/><rect x="-6" y="90" width="3" height="3" fill="#6b6b6b"/><rect x="-3" y="90" width="3" height="3" fill="#6b6b6b"/><rect x="0" y="90" width="3" height="3" fill="#717171"/><rect x="3" y="90" width="3" height="3" fill="#7e7e7e"/><rect x="6" y="90" width="3" height="3" fill="#878787"/><rect x="9" y="90" width="3" height="3" fill="#909090"/><rect x="12" y="90" width="3" height="3" fill="#969696"/><rect x="15" y="90" width="3" height="3" fill="#9a9a9a"/><rect x="18" y="90" width="3" height="3" fill="#9d9d9d"/><rect x="21" y="90" width="3" height="3" fill="#9f9f9f"/><rect x="24" y="90" width="3" height="3" fill="#a1a1a1"/><rect x="27" y="90" width="3" height="3" fill="#a5a5a5"/><rect x="30" y="90" width="3" height="3" fill="#a9a9a9"/><rect x="33" y="90" width="3" height="3" fill="#adadad"/><rect x="36" y="90" width="3" height="3" fill="#b2b2b2"/><rect x="39" y="90" width="3" height="3" fill="#b5b5b5"/><rect x="42" y="90" width="3" height="3" fill="#b6b6b6"/><rect x="45" y="90" width="3" height="3" fill="#b7b7b7"/><rect x="48" y="90" width="3" height="3" fill="#b8b8b8"/><rect x="51" y="90" width="3" height="3" fill="#b8b8b8"/><rect x="54" y="90" width="3" height="3" fill="#b9b9b9"/><rect x="57" y="90" width="3" height="3" fill="#bababa"/><rect x="60" y="90" width="3" height="3" fill="#bcbcbc"/><rect x="63" y="90" width="3" height="3" fill="#bebebe"/><rect x="66" y="90" width="3" height="3" fill="#c0c0c0"/><rect x="69" y="90" width="3" height="3" fill="#c3c3c3"/><rect x="72" y="90" width="3" height="3" fill="#c5c5c5"/><rect x="75" y="90" width="3" height="3" fill="#c7c7c7"/><rect x="78" y="90" width="3" height="3" fill="#c9c9c9"/><rect x="81" y="90" width="3" height="3" fill="#cbcbcb"/><rect x="84" y="90" width="3" height="3" fill="#cccccc"/><rect x="87" y="90" width="3" height="3" fill="#cecece"/><rect x="90" y="90" width="3" height="3" fill="#cfcfcf"/><rect x="93" y="90" width="3" height="3" fill="#d0d0d0"/><rect x="96" y="90" width="3" height="3" fill="#d1d1d1"/><rect x="99" y="90" width="3" height="3" fill="#d2d2d2"/><rect x="102" y="90" width="3" height="3" fill="#d2d2d2"/><rect x="105" y="90" width="3" height="3" fill="#d3d3d3"/><rect x="108" y="90" width="3" height="3" fill="#d4d4d4"/><rect x="111" y="90" width="3" height="3" fill="#d5d5d5"/><rect x="114" y="90" width="3" height="3" fill="#d7d7d7"/><rect x="117" y="90" width="3" height="3" fill="#d8d8d8"/><rect x="120" y="90" width="3" height="3" fill="#d9d9d9"/><rect x="123" y="90" width="3" height="3" fill="#d9d9d9"/><rect x="-6" y="93" width="3" height="3" fill="#6b6b6b"/><rect x="-3" y="93" width="3" height="3" fill="#6b6b6b"/><rect x="0" y="93" width="3" height="3" fill="#727272"/><rect x="3" y="93" width="3" height="3" fill="#7f7f7f"/><rect x="6" y="93" width="3" height="3" fill="#888888"/><rect x="9" y="93" width="3" height="3" fill="#909090"/><rect x="12" y="93" width="3" height="3" fill="#959595"/><rect x="15" y="93" width="3" height="3" fill="#999999"/><rect x="18" y="93" width="3" height="3" fill="#9c9c9c"/><rect x="21" y="93" width="3" height="3" fill="#9e9e9e"/><rect x="24" y="93" width="3" height="3" fill="#a0a0a0"/><rect x="27" y="93" width="3" height="3" fill="#a3a3a3"/><rect x="30" y="93" width="3" height="3" fill="#a7a7a7"/><rect x="33" y="93" width="3" height="3" fill="#aaaaaa"/><rect x="36" y="93" width="3" height="3" fill="#adadad"/><rect x="39" y="93" width="3" height="3" fill="#b0b0b0"/><rect x="42" y="93" width="3" height="3" fill="#b1b1b1"/><rect x="45" y="93" width="3" height="3" fill="#b2b2b2"/><rect x="48" y="93" width="3" height="3" fill="#b3b3b3"/><rect x="51" y="93" width="3" height="3" fill="#b4b4b4"/><rect x="54" y="93" width="3" height="3" fill="#b5b5b5"/><rect x="57" y="93" width="3" height="3" fill="#b6b6b6"/><rect x="60" y="93" width="3" height="3" fill="#b7b7b7"/><rect x="63" y="93" width="3" height="3" fill="#bababa"/><rect x="66" y="93" width="3" height="3" fill="#bcbcbc"/><rect x="69" y="93" width="3" height="3" fill="#bfbfbf"/><rect x="72" y="93" width="3" height="3" fill="#c2c2c2"/><rect x="75" y="93" width="3" height="3" fill="#c4c4c4"/><rect x="78" y="93" width="3" height="3" fill="#c6c6c6"/><rect x="81" y="93" width="3" height="3" fill="#c9c9c9"/><rect x="84" y="93" width="3" height="3" fill="#cacaca"/><rect x="87" y="93" width="3" height="3" fill="#cccccc"/><rect x="90" y="93" width="3" height="3" fill="#cecece"/><rect x="93" y="93" width="3" height="3" fill="#cfcfcf"/><rect x="96" y="93" width="3" height="3" fill="#d0d0d0"/><rect x="99" y="93" width="3" height="3" fill="#d1d1d1"/><rect x="102" y="93" width="3" height="3" fill="#d2d2d2"/><rect x="105" y="93" width="3" height="3" fill="#d2d2d2"/><rect x="108" y="93" width="3" height="3" fill="#d3d3d3"/><rect x="111" y="93" width="3" height="3" fill="#d4d4d4"/><rect x="114" y="93" width="3" height="3" fill="#d6d6d6"/><rect x="117" y="93" width="3" height="3" fill="#d7d7d7"/><rect x="120" y="93" width="3" height="3" fill="#d8d8d8"/><rect x="123" y="93" width="3" height="3" fill="#d8d8d8"/><rect x="-6" y="96" width="3" height="3" fill="#6b6b6b"/><rect x="-3" y="96" width="3" height="3" fill="#6b6b6b"/><rect x="0" y="96" width="3" height="3" fill="#727272"/><rect x="3" y="96" width="3" height="3" fill="#808080"/><rect x="6" y="96" width="3" height="3" fill="#898989"/><rect x="9" y="96" width="3" height="3" fill="#909090"/><rect x="12" y="96" width="3" height="3" fill="#959595"/><rect x="15" y="96" width="3" height="3" fill="#999999"/><rect x="18" y="96" width="3" height="3" fill="#9b9b9b"/><rect x="21" y="96" width="3" height="3" fill="#9d9d9d"/><rect x="24" y="96" width="3" height="3" fill="#9e9e9e"/><rect x="27" y="96" width="3" height="3" fill="#a1a1a1"/><rect x="30" y="96" width="3" height="3" fill="#a4a4a4"/><rect x="33" y="96" width="3" height="3" fill="#a6a6a6"/><rect x="36" y="96" width="3" height="3" fill="#a9a9a9"/><rect x="39" y="96" width="3" height="3" fill="#ababab"/><rect x="42" y="96" width="3" height="3" fill="#acacac"/><rect x="45" y="96" width="3" height="3" fill="#adadad"/><rect x="48" y="96" width="3" height="3" fill="#aeaeae"/><rect x="51" y="96" width="3" height="3" fill="#afafaf"/><rect x="54" y="96" width="3" height="3" fill="#b0b0b0"/><rect x="57" y="96" width="3" height="3" fill="#b1b1b1"/><rect x="60" y="96" width="3" height="3" fill="#b3b3b3"/><rect x="63" y="96" width="3" height="3" fill="#b6b6b6"/><rect x="66" y="96" width="3" height="3" fill="#b9b9b9"/><rect x="69" y="96" width="3" height="3" fill="#bbbbbb"/><rect x="72" y="96" width="3" height="3" fill="#bebebe"/><rect x="75" y="96" width="3" height="3" fill="#c1c1c1"/><rect x="78" y="96" width="3" height="3" fill="#c4c4c4"/><rect x="81" y="96" width="3" height="3" fill="#c6c6c6"/><rect x="84" y="96" width="3" height="3" fill="#c9c9c9"/><rect x="87" y="96" width="3" height="3" fill="#cbcbcb"/><rect x="90" y="96" width="3" height="3" fill="#cdcdcd"/><rect x="93" y="96" width="3" height="3" fill="#cecece"/><rect x="96" y="96" width="3" height="3" fill="#cfcfcf"/><rect x="99" y="96" width="3" height="3" fill="#d0d0d0"/><rect x="102" y="96" width="3" height="3" fill="#d1d1d1"/><rect x="105" y="96" width="3" height="3" fill="#d2d2d2"/><rect x="108" y="96" width="3" height="3" fill="#d2d2d2"/><rect x="111" y="96" width="3" height="3" fill="#d4d4d4"/><rect x="114" y="96" width="3" height="3" fill="#d5d5d5"/><rect x="117" y="96" width="3" height="3" fill="#d6d6d6"/><rect x="120" y="96" width="3" height="3" fill="#d6d6d6"/><rect x="123" y="96" width="3" height="3" fill="#d6d6d6"/><rect x="-6" y="99" width="3" height="3" fill="#6b6b6b"/><rect x="-3" y="99" width="3" height="3" fill="#6b6b6b"/><rect x="0" y="99" width="3" height="3" fill="#727272"/><rect x="3" y="99" width="3" height="3" fill="#818181"/><rect x="6" y="99" width="3" height="3" fill="#898989"/><rect x="9" y="99" width="3" height="3" fill="#909090"/><rect x="12" y="99" width="3" height="3" fill="#959595"/><rect x="15" y="99" width="3" height="3" fill="#989898"/><rect x="18" y="99" width="3" height="3" fill="#9a9a9a"/><rect x="21" y="99" width="3" height="3" fill="#9c9c9c"/><rect x="24" y="99" width="3" height="3" fill="#9d9d9d"/><rect x="27" y="99" width="3" height="3" fill="#a0a0a0"/><rect x="30" y="99" width="3" height="3" fill="#a1a1a1"/><rect x="33" y="99" width="3" height="3" fill="#a2a2a2"/><rect x="36" y="99" width="3" height="3" fill="#a4a4a4"/><rect x="39" y="99" width="3" height="3" fill="#a7a7a7"/><rect x="42" y="99" width="3" height="3" fill="#a7a7a7"/><rect x="45" y="99" width="3" height="3" fill="#a8a8a8"/><rect x="48" y="99" width="3" height="3" fill="#a9a9a9"/><rect x="51" y="99" width="3" height="3" fill="#aaaaaa"/><rect x="54" y="99" width="3" height="3" fill="#ababab"/><rect x="57" y="99" width="3" height="3" fill="#adadad"/><rect x="60" y="99" width="3" height="3" fill="#afafaf"/><rect x="63" y="99" width="3" height="3" fill="#b2b2b2"/><rect x="66" y="99" width="3" height="3" fill="#b5b5b5"/><rect x="69" y="99" width="3" height="3" fill="#b8b8b8"/><rect x="72" y="99" width="3" height="3" fill="#bbbbbb"/><rect x="75" y="99" width="3" height="3" fill="#bebebe"/><rect x="78" y="99" width="3" height="3" fill="#c2c2c2"/><rect x="81" y="99" width="3" height="3" fill="#c4c4c4"/><rect x="84" y="99" width="3" height="3" fill="#c7c7c7"/><rect x="87" y="99" width="3" height="3" fill="#cacaca"/><rect x="90" y="99" width="3" height="3" fill="#cccccc"/><rect x="93" y="99" width="3" height="3" fill="#cdcdcd"/><rect x="96" y="99" width="3" height="3" fill="#cecece"/><rect x="99" y="99" width="3" height="3" fill="#cfcfcf"/><rect x="102" y="99" width="3" height="3" fill="#d0d0d0"/><rect x="105" y="99" width="3" height="3" fill="#d1d1d1"/><rect x="108" y="99" width="3" height="3" fill="#d2d2d2"/><rect x="111" y="99" width="3" height="3" fill="#d3d3d3"/><rect x="114" y="99" width="3" height="3" fill="#d4d4d4"/><rect x="117" y="99" width="3" height="3" fill="#d5d5d5"/><rect x="120" y="99" width="3" height="3" fill="#d5d5d5"/><rect x="123" y="99" width="3" height="3" fill="#d5d5d5"/><rect x="-6" y="102" width="3" height="3" fill="#6b6b6b"/><rect x="-3" y="102" width="3" height="3" fill="#6b6b6b"/><rect x="0" y="102" width="3" height="3" fill="#737373"/><rect x="3" y="102" width="3" height="3" fill="#828282"/><rect x="6" y="102" width="3" height="3" fill="#8a8a8a"/><rect x="9" y="102" width="3" height="3" fill="#909090"/><rect x="12" y="102" width="3" height="3" fill="#949494"/><rect x="15" y="102" width="3" height="3" fill="#979797"/><rect x="18" y="102" width="3" height="3" fill="#999999"/><rect x="21" y="102" width="3" height="3" fill="#9a9a9a"/><rect x="24" y="102" width="3" height="3" fill="#9c9c9c"/><rect x="27" y="102" width="3" height="3" fill="#9e9e9e"/><rect x="30" y="102" width="3" height="3" fill="#9f9f9f"/><rect x="33" y="102" width="3" height="3" fill="#9f9f9f"/><rect x="36" y="102" width="3" height="3" fill="#a0a0a0"/><rect x="39" y="102" width="3" height="3" fill="#a2a2a2"/><rect x="42" y="102" width="3" height="3" fill="#a2a2a2"/><rect x="45" y="102" width="3" height="3" fill="#a3a3a3"/><rect x="48" y="102" width="3" height="3" fill="#a4a4a4"/><rect x="51" y="102" width="3" height="3" fill="#a5a5a5"/><rect x="54" y="102" width="3" height="3" fill="#a7a7a7"/><rect x="57" y="102" width="3" height="3" fill="#a8a8a8"/><rect x="60" y="102" width="3" height="3" fill="#ababab"/><rect x="63" y="102" width="3" height="3" fill="#aeaeae"/><rect x="66" y="102" width="3" height="3" fill="#b1b1b1"/><rect x="69" y="102" width="3" height="3" fill="#b4b4b4"/><rect x="72" y="102" width="3" height="3" fill="#b8b8b8"/><rect x="75" y="102" width="3" height="3" fill="#bbbbbb"/><rect x="78" y="102" width="3" height="3" fill="#bfbfbf"/><rect x="81" y="102" width="3" height="3" fill="#c2c2c2"/><rect x="84" y="102" width="3" height="3" fill="#c5c5c5"/><rect x="87" y="102" width="3" height="3" fill="#c8c8c8"/><rect x="90" y="102" width="3" height="3" fill="#cacaca"/><rect x="93" y="102" width="3" height="3" fill="#cccccc"/><rect x="96" y="102" width="3" height="3" fill="#cdcdcd"/><rect x="99" y="102" width="3" height="3" fill="#cfcfcf"/><rect x="102" y="102" width="3" height="3" fill="#d0d0d0"/><rect x="105" y="102" width="3" height="3" fill="#d0d0d0"/><rect x="108" y="102" width="3" height="3" fill="#d1d1d1"/><rect x="111" y="102" width="3" height="3" fill="#d2d2d2"/><rect x="114" y="102" width="3" height="3" fill="#d3d3d3"/><rect x="117" y="102" width="3" height="3" fill="#d3d3d3"/><rect x="120" y="102" width="3" height="3" fill="#d4d4d4"/><rect x="123" y="102" width="3" height="3" fill="#d4d4d4"/><rect x="-6" y="105" width="3" height="3" fill="#696969"/><rect x="-3" y="105" width="3" height="3" fill="#696969"/><rect x="0" y="105" width="3" height="3" fill="#707070"/><rect x="3" y="105" width="3" height="3" fill="#7e7e7e"/><rect x="6" y="105" width="3" height="3" fill="#858585"/><rect x="9" y="105" width="3" height="3" fill="#8a8a8a"/><rect x="12" y="105" width="3" height="3" fill="#8f8f8f"/><rect x="15" y="105" width="3" height="3" fill="#939393"/><rect x="18" y="105" width="3" height="3" fill="#959595"/><rect x="21" y="105" width="3" height="3" fill="#979797"/><rect x="24" y="105" width="3" height="3" fill="#999999"/><rect x="27" y="105" width="3" height="3" fill="#9b9b9b"/><rect x="30" y="105" width="3" height="3" fill="#9c9c9c"/><rect x="33" y="105" width="3" height="3" fill="#9c9c9c"/><rect x="36" y="105" width="3" height="3" fill="#9e9e9e"/><rect x="39" y="105" width="3" height="3" fill="#9f9f9f"/><rect x="42" y="105" width="3" height="3" fill="#a0a0a0"/><rect x="45" y="105" width="3" height="3" fill="#a1a1a1"/><rect x="48" y="105" width="3" height="3" fill="#a1a1a1"/><rect x="51" y="105" width="3" height="3" fill="#a3a3a3"/><rect x="54" y="105" width="3" height="3" fill="#a4a4a4"/><rect x="57" y="105" width="3" height="3" fill="#a5a5a5"/><rect x="60" y="105" width="3" height="3" fill="#a8a8a8"/><rect x="63" y="105" width="3" height="3" fill="#ababab"/><rect x="66" y="105" width="3" height="3" fill="#adadad"/><rect x="69" y="105" width="3" height="3" fill="#b0b0b0"/><rect x="72" y="105" width="3" height="3" fill="#b4b4b4"/><rect x="75" y="105" width="3" height="3" fill="#b8b8b8"/><rect x="78" y="105" width="3" height="3" fill="#bcbcbc"/><rect x="81" y="105" width="3" height="3" fill="#bfbfbf"/><rect x="84" y="105" width="3" height="3" fill="#c2c2c2"/><rect x="87" y="105" width="3" height="3" fill="#c6c6c6"/><rect x="90" y="105" width="3" height="3" fill="#c8c8c8"/><rect x="93" y="105" width="3" height="3" fill="#cacaca"/><rect x="96" y="105" width="3" height="3" fill="#cccccc"/><rect x="99" y="105" width="3" height="3" fill="#cecece"/><rect x="102" y="105" width="3" height="3" fill="#cfcfcf"/><rect x="105" y="105" width="3" height="3" fill="#cfcfcf"/><rect x="108" y="105" width="3" height="3" fill="#d0d0d0"/><rect x="111" y="105" width="3" height="3" fill="#d1d1d1"/><rect x="114" y="105" width="3" height="3" fill="#d2d2d2"/><rect x="117" y="105" width="3" height="3" fill="#d3d3d3"/><rect x="120" y="105" width="3" height="3" fill="#d3d3d3"/><rect x="123" y="105" width="3" height="3" fill="#d3d3d3"/><rect x="-6" y="108" width="3" height="3" fill="#666666"/><rect x="-3" y="108" width="3" height="3" fill="#666666"/><rect x="0" y="108" width="3" height="3" fill="#6c6c6c"/><rect x="3" y="108" width="3" height="3" fill="#787878"/><rect x="6" y="108" width="3" height="3" fill="#7f7f7f"/><rect x="9" y="108" width="3" height="3" fill="#848484"/><rect x="12" y="108" width="3" height="3" fill="#898989"/><rect x="15" y="108" width="3" height="3" fill="#8e8e8e"/><rect x="18" y="108" width="3" height="3" fill="#919191"/><rect x="21" y="108" width="3" height="3" fill="#949494"/><rect x="24" y="108" width="3" height="3" fill="#969696"/><rect x="27" y="108" width="3" height="3" fill="#989898"/><rect x="30" y="108" width="3" height="3" fill="#9a9a9a"/><rect x="33" y="108" width="3" height="3" fill="#9a9a9a"/><rect x="36" y="108" width="3" height="3" fill="#9c9c9c"/><rect x="39" y="108" width="3" height="3" fill="#9d9d9d"/><rect x="42" y="108" width="3" height="3" fill="#9e9e9e"/><rect x="45" y="108" width="3" height="3" fill="#9f9f9f"/><rect x="48" y="108" width="3" height="3" fill="#a0a0a0"/><rect x="51" y="108" width="3" height="3" fill="#a1a1a1"/><rect x="54" y="108" width="3" height="3" fill="#a2a2a2"/><rect x="57" y="108" width="3" height="3" fill="#a3a3a3"/><rect x="60" y="108" width="3" height="3" fill="#a5a5a5"/><rect x="63" y="108" width="3" height="3" fill="#a8a8a8"/><rect x="66" y="108" width="3" height="3" fill="#aaaaaa"/><rect x="69" y="108" width="3" height="3" fill="#adadad"/><rect x="72" y="108" width="3" height="3" fill="#b1b1b1"/><rect x="75" y="108" width="3" height="3" fill="#b5b5b5"/><rect x="78" y="108" width="3" height="3" fill="#b9b9b9"/><rect x="81" y="108" width="3" height="3" fill="#bcbcbc"/><rect x="84" y="108" width="3" height="3" fill="#c0c0c0"/><rect x="87" y="108" width="3" height="3" fill="#c3c3c3"/><rect x="90" y="108" width="3" height="3" fill="#c6c6c6"/><rect x="93" y="108" width="3" height="3" fill="#c8c8c8"/><rect x="96" y="108" width="3" height="3" fill="#cacaca"/><rect x="99" y="108" width="3" height="3" fill="#cccccc"/><rect x="102" y="108" width="3" height="3" fill="#cecece"/><rect x="105" y="108" width="3" height="3" fill="#cfcfcf"/><rect x="108" y="108" width="3" height="3" fill="#d0d0d0"/><rect x="111" y="108" width="3" height="3" fill="#d1d1d1"/><rect x="114" y="108" width="3" height="3" fill="#d1d1d1"/><rect x="117" y="108" width="3" height="3" fill="#d2d2d2"/><rect x="120" y="108" width="3" height="3" fill="#d2d2d2"/><rect x="123" y="108" width="3" height="3" fill="#d2d2d2"/><rect x="-6" y="111" width="3" height="3" fill="#646464"/><rect x="-3" y="111" width="3" height="3" fill="#646464"/><rect x="0" y="111" width="3" height="3" fill="#696969"/><rect x="3" y="111" width="3" height="3" fill="#737373"/><rect x="6" y="111" width="3" height="3" fill="#797979"/><rect x="9" y="111" width="3" height="3" fill="#7e7e7e"/><rect x="12" y="111" width="3" height="3" fill="#838383"/><rect x="15" y="111" width="3" height="3" fill="#898989"/><rect x="18" y="111" width="3" height="3" fill="#8d8d8d"/><rect x="21" y="111" width="3" height="3" fill="#909090"/><rect x="24" y="111" width="3" height="3" fill="#939393"/><rect x="27" y="111" width="3" height="3" fill="#969696"/><rect x="30" y="111" width="3" height="3" fill="#979797"/><rect x="33" y="111" width="3" height="3" fill="#999999"/><rect x="36" y="111" width="3" height="3" fill="#9a9a9a"/><rect x="39" y="111" width="3" height="3" fill="#9b9b9b"/><rect x="42" y="111" width="3" height="3" fill="#9c9c9c"/><rect x="45" y="111" width="3" height="3" fill="#9d9d9d"/><rect x="48" y="111" width="3" height="3" fill="#9e9e9e"/><rect x="51" y="111" width="3" height="3" fill="#9f9f9f"/><rect x="54" y="111" width="3" height="3" fill="#a0a0a0"/><rect x="57" y="111" width="3" height="3" fill="#a1a1a1"/><rect x="60" y="111" width="3" height="3" fill="#a2a2a2"/><rect x="63" y="111" width="3" height="3" fill="#a5a5a5"/><rect x="66" y="111" width="3" height="3" fill="#a7a7a7"/><rect x="69" y="111" width="3" height="3" fill="#aaaaaa"/><rect x="72" y="111" width="3" height="3" fill="#aeaeae"/><rect x="75" y="111" width="3" height="3" fill="#b2b2b2"/><rect x="78" y="111" width="3" height="3" fill="#b6b6b6"/><rect x="81" y="111" width="3" height="3" fill="#b9b9b9"/><rect x="84" y="111" width="3" height="3" fill="#bdbdbd"/><rect x="87" y="111" width="3" height="3" fill="#c0c0c0"/><rect x="90" y="111" width="3" height="3" fill="#c4c4c4"/><rect x="93" y="111" width="3" height="3" fill="#c6c6c6"/><rect x="96" y="111" width="3" height="3" fill="#c9c9c9"/><rect x="99" y="111" width="3" height="3" fill="#cbcbcb"/><rect x="102" y="111" width="3" height="3" fill="#cccccc"/><rect x="105" y="111" width="3" height="3" fill="#cecece"/><rect x="108" y="111" width="3" height="3" fill="#cfcfcf"/><rect x="111" y="111" width="3" height="3" fill="#d0d0d0"/><rect x="114" y="111" width="3" height="3" fill="#d1d1d1"/><rect x="117" y="111" width="3" height="3" fill="#d1d1d1"/><rect x="120" y="111" width="3" height="3" fill="#d2d2d2"/><rect x="123" y="111" width="3" height="3" fill="#d2d2d2"/><rect x="-6" y="114" width="3" height="3" fill="#616161"/><rect x="-3" y="114" width="3" height="3" fill="#616161"/><rect x="0" y="114" width="3" height="3" fill="#656565"/><rect x="3" y="114" width="3" height="3" fill="#6d6d6d"/><rect x="6" y="114" width="3" height="3" fill="#727272"/><rect x="9" y="114" width="3" height="3" fill="#777777"/><rect x="12" y="114" width="3" height="3" fill="#7d7d7d"/><rect x="15" y="114" width="3" height="3" fill="#838383"/><rect x="18" y="114" width="3" height="3" fill="#898989"/><rect x="21" y="114" width="3" height="3" fill="#8d8d8d"/><rect x="24" y="114" width="3" height="3" fill="#909090"/><rect x="27" y="114" width="3" height="3" fill="#939393"/><rect x="30" y="114" width="3" height="3" fill="#959595"/><rect x="33" y="114" width="3" height="3" fill="#979797"/><rect x="36" y="114" width="3" height="3" fill="#989898"/><rect x="39" y="114" width="3" height="3" fill="#999999"/><rect x="42" y="114" width="3" height="3" fill="#9a9a9a"/><rect x="45" y="114" width="3" height="3" fill="#9b9b9b"/><rect x="48" y="114" width="3" height="3" fill="#9c9c9c"/><rect x="51" y="114" width="3" height="3" fill="#9d9d9d"/><rect x="54" y="114" width="3" height="3" fill="#9d9d9d"/><rect x="57" y="114" width="3" height="3" fill="#9e9e9e"/><rect x="60" y="114" width="3" height="3" fill="#a0a0a0"/><rect x="63" y="114" width="3" height="3" fill="#a2a2a2"/><rect x="66" y="114" width="3" height="3" fill="#a4a4a4"/><rect x="69" y="114" width="3" height="3" fill="#a7a7a7"/><rect x="72" y="114" width="3" height="3" fill="#ababab"/><rect x="75" y="114" width="3" height="3" fill="#afafaf"/><rect x="78" y="114" width="3" height="3" fill="#b2b2b2"/><rect x="81" y="114" width="3" height="3" fill="#b6b6b6"/><rect x="84" y="114" width="3" height="3" fill="#bababa"/><rect x="87" y="114" width="3" height="3" fill="#bebebe"/><rect x="90" y="114" width="3" height="3" fill="#c1c1c1"/><rect x="93" y="114" width="3" height="3" fill="#c4c4c4"/><rect x="96" y="114" width="3" height="3" fill="#c7c7c7"/><rect x="99" y="114" width="3" height="3" fill="#cacaca"/><rect x="102" y="114" width="3" height="3" fill="#cbcbcb"/><rect x="105" y="114" width="3" height="3" fill="#cdcdcd"/><rect x="108" y="114" width="3" height="3" fill="#cecece"/><rect x="111" y="114" width="3" height="3" fill="#cfcfcf"/><rect x="114" y="114" width="3" height="3" fill="#d0d0d0"/><rect x="117" y="114" width="3" height="3" fill="#d1d1d1"/><rect x="120" y="114" width="3" height="3" fill="#d1d1d1"/><rect x="123" y="114" width="3" height="3" fill="#d1d1d1"/><rect x="-6" y="117" width="3" height="3" fill="#616161"/><rect x="-3" y="117" width="3" height="3" fill="#616161"/><rect x="0" y="117" width="3" height="3" fill="#656565"/><rect x="3" y="117" width="3" height="3" fill="#6c6c6c"/><rect x="6" y="117" width="3" height="3" fill="#717171"/><rect x="9" y="117" width="3" height="3" fill="#767676"/><rect x="12" y="117" width="3" height="3" fill="#7c7c7c"/><rect x="15" y="117" width="3" height="3" fill="#838383"/><rect x="18" y="117" width="3" height="3" fill="#898989"/><rect x="21" y="117" width="3" height="3" fill="#8c8c8c"/><rect x="24" y="117" width="3" height="3" fill="#8f8f8f"/><rect x="27" y="117" width="3" height="3" fill="#929292"/><rect x="30" y="117" width="3" height="3" fill="#959595"/><rect x="33" y="117" width="3" height="3" fill="#969696"/><rect x="36" y="117" width="3" height="3" fill="#989898"/><rect x="39" y="117" width="3" height="3" fill="#999999"/><rect x="42" y="117" width="3" height="3" fill="#9a9a9a"/><rect x="45" y="117" width="3" height="3" fill="#9b9b9b"/><rect x="48" y="117" width="3" height="3" fill="#9b9b9b"/><rect x="51" y="117" width="3" height="3" fill="#9c9c9c"/><rect x="54" y="117" width="3" height="3" fill="#9d9d9d"/><rect x="57" y="117" width="3" height="3" fill="#9e9e9e"/><rect x="60" y="117" width="3" height="3" fill="#9f9f9f"/><rect x="63" y="117" width="3" height="3" fill="#a2a2a2"/><rect x="66" y="117" width="3" height="3" fill="#a4a4a4"/><rect x="69" y="117" width="3" height="3" fill="#a6a6a6"/><rect x="72" y="117" width="3" height="3" fill="#aaaaaa"/><rect x="75" y="117" width="3" height="3" fill="#aeaeae"/><rect x="78" y="117" width="3" height="3" fill="#b2b2b2"/><rect x="81" y="117" width="3" height="3" fill="#b6b6b6"/><rect x="84" y="117" width="3" height="3" fill="#bababa"/><rect x="87" y="117" width="3" height="3" fill="#bdbdbd"/><rect x="90" y="117" width="3" height="3" fill="#c1c1c1"/><rect x="93" y="117" width="3" height="3" fill="#c4c4c4"/><rect x="96" y="117" width="3" height="3" fill="#c7c7c7"/><rect x="99" y="117" width="3" height="3" fill="#cacaca"/><rect x="102" y="117" width="3" height="3" fill="#cbcbcb"/><rect x="105" y="117" width="3" height="3" fill="#cdcdcd"/><rect x="108" y="117" width="3" height="3" fill="#cecece"/><rect x="111" y="117" width="3" height="3" fill="#cfcfcf"/><rect x="114" y="117" width="3" height="3" fill="#d0d0d0"/><rect x="117" y="117" width="3" height="3" fill="#d1d1d1"/><rect x="120" y="117" width="3" height="3" fill="#d1d1d1"/><rect x="123" y="117" width="3" height="3" fill="#d1d1d1"/><rect x="-6" y="120" width="3" height="3" fill="#616161"/><rect x="-3" y="120" width="3" height="3" fill="#616161"/><rect x="0" y="120" width="3" height="3" fill="#656565"/><rect x="3" y="120" width="3" height="3" fill="#6c6c6c"/><rect x="6" y="120" width="3" height="3" fill="#717171"/><rect x="9" y="120" width="3" height="3" fill="#767676"/><rect x="12" y="120" width="3" height="3" fill="#7c7c7c"/><rect x="15" y="120" width="3" height="3" fill="#838383"/><rect x="18" y="120" width="3" height="3" fill="#898989"/><rect x="21" y="120" width="3" height="3" fill="#8c8c8c"/><rect x="24" y="120" width="3" height="3" fill="#8f8f8f"/><rect x="27" y="120" width="3" height="3" fill="#929292"/><rect x="30" y="120" width="3" height="3" fill="#959595"/><rect x="33" y="120" width="3" height="3" fill="#969696"/><rect x="36" y="120" width="3" height="3" fill="#989898"/><rect x="39" y="120" width="3" height="3" fill="#999999"/><rect x="42" y="120" width="3" height="3" fill="#9a9a9a"/><rect x="45" y="120" width="3" height="3" fill="#9b9b9b"/><rect x="48" y="120" width="3" height="3" fill="#9b9b9b"/><rect x="51" y="120" width="3" height="3" fill="#9c9c9c"/><rect x="54" y="120" width="3" height="3" fill="#9d9d9d"/><rect x="57" y="120" width="3" height="3" fill="#9e9e9e"/><rect x="60" y="120" width="3" height="3" fill="#9f9f9f"/><rect x="63" y="120" width="3" height="3" fill="#a2a2a2"/><rect x="66" y="120" width="3" height="3" fill="#a4a4a4"/><rect x="69" y="120" width="3" height="3" fill="#a6a6a6"/><rect x="72" y="120" width="3" height="3" fill="#aaaaaa"/><rect x="75" y="120" width="3" height="3" fill="#aeaeae"/><rect x="78" y="120" width="3" height="3" fill="#b2b2b2"/><rect x="81" y="120" width="3" height="3" fill="#b6b6b6"/><rect x="84" y="120" width="3" height="3" fill="#bababa"/><rect x="87" y="120" width="3" height="3" fill="#bdbdbd"/><rect x="90" y="120" width="3" height="3" fill="#c1c1c1"/><rect x="93" y="120" width="3" height="3" fill="#c4c4c4"/><rect x="96" y="120" width="3" height="3" fill="#c7c7c7"/><rect x="99" y="120" width="3" height="3" fill="#cacaca"/><rect x="102" y="120" width="3" height="3" fill="#cbcbcb"/><rect x="105" y="120" width="3" height="3" fill="#cdcdcd"/><rect x="108" y="120" width="3" height="3" fill="#cecece"/><rect x="111" y="120" width="3" height="3" fill="#cfcfcf"/><rect x="114" y="120" width="3" height="3" fill="#d0d0d0"/><rect x="117" y="120" width="3" height="3" fill="#d1d1d1"/><rect x="120" y="120" width="3" height="3" fill="#d1d1d1"/><rect x="123" y="120" width="3" height="3" fill="#d1d1d1"/><rect x="-6" y="123" width="3" height="3" fill="#616161"/><rect x="-3" y="123" width="3" height="3" fill="#616161"/><rect x="0" y="123" width="3" height="3" fill="#656565"/><rect x="3" y="123" width="3" height="3" fill="#6c6c6c"/><rect x="6" y="123" width="3" height="3" fill="#717171"/><rect x="9" y="123" width="3" height="3" fill="#767676"/><rect x="12" y="123" width="3" height="3" fill="#7c7c7c"/><rect x="15" y="123" width="3" height="3" fill="#838383"/><rect x="18" y="123" width="3" height="3" fill="#898989"/><rect x="21" y="123" width="3" height="3" fill="#8c8c8c"/><rect x="24" y="123" width="3" height="3" fill="#8f8f8f"/><rect x="27" y="123" width="3" height="3" fill="#929292"/><rect x="30" y="123" width="3" height="3" fill="#959595"/><rect x="33" y="123" width="3" height="3" fill="#969696"/><rect x="36" y="123" width="3" height="3" fill="#989898"/><rect x="39" y="123" width="3" height="3" fill="#999999"/><rect x="42" y="123" width="3" height="3" fill="#9a9a9a"/><rect x="45" y="123" width="3" height="3" fill="#9b9b9b"/><rect x="48" y="123" width="3" height="3" fill="#9b9b9b"/><rect x="51" y="123" width="3" height="3" fill="#9c9c9c"/><rect x="54" y="123" width="3" height="3" fill="#9d9d9d"/><rect x="57" y="123" width="3" height="3" fill="#9e9e9e"/><rect x="60" y="123" width="3" height="3" fill="#9f9f9f"/><rect x="63" y="123" width="3" height="3" fill="#a2a2a2"/><rect x="66" y="123" width="3" height="3" fill="#a4a4a4"/><rect x="69" y="123" width="3" height="3" fill="#a6a6a6"/><rect x="72" y="123" width="3" height="3" fill="#aaaaaa"/><rect x="75" y="123" width="3" height="3" fill="#aeaeae"/><rect x="78" y="123" width="3" height="3" fill="#b2b2b2"/><rect x="81" y="123" width="3" height="3" fill="#b6b6b6"/><rect x="84" y="123" width="3" height="3" fill="#bababa"/><rect x="87" y="123" width="3" height="3" fill="#bdbdbd"/><rect x="90" y="123" width="3" height="3" fill="#c1c1c1"/><rect x="93" y="123" width="3" height="3" fill="#c4c4c4"/><rect x="96" y="123" width="3" height="3" fill="#c7c7c7"/><rect x="99" y="123" width="3" height="3" fill="#cacaca"/><rect x="102" y="123" width="3" height="3" fill="#cbcbcb"/><rect x="105" y="123" width="3" height="3" fill="#cdcdcd"/><rect x="108" y="123" width="3" height="3" fill="#cecece"/><rect x="111" y="123" width="3" height="3" fill="#cfcfcf"/><rect x="114" y="123" width="3" height="3" fill="#d0d0d0"/><rect x="117" y="123" width="3" height="3" fill="#d1d1d1"/><rect x="120" y="123" width="3" height="3" fill="#d1d1d1"/><rect x="123" y="123" width="3" height="3" fill="#d1d1d1"/></g></defs><rect width="550" height="471" fill="#fff"/><svg x="17.7" y="11.6" width="120.49999999999999" height="120.6" viewBox="0 0 120 120" preserveAspectRatio="none"><g filter="url(#fl)"><use href="#FLD"/></g></svg><rect x="145.6" y="11.6" width="9.400000000000006" height="120.6" fill="url(#jv)"/><text x="150.3" y="8.3" font-size="5.3" text-anchor="middle" font-weight="normal" font-family='"Liberation Sans",Arial,sans-serif' fill="#333" stroke="#333" stroke-width="0.22" >[rad]</text><text x="157.3" y="16.6" font-size="6.0" text-anchor="start" font-weight="normal" font-family='"Liberation Sans",Arial,sans-serif' fill="#333" stroke="#333" stroke-width="0.22" >40</text><text x="157.3" y="30.2" font-size="6.0" text-anchor="start" font-weight="normal" font-family='"Liberation Sans",Arial,sans-serif' fill="#333" stroke="#333" stroke-width="0.22" >35</text><text x="157.3" y="43.8" font-size="6.0" text-anchor="start" font-weight="normal" font-family='"Liberation Sans",Arial,sans-serif' fill="#333" stroke="#333" stroke-width="0.22" >30</text><text x="157.3" y="57.4" font-size="6.0" text-anchor="start" font-weight="normal" font-family='"Liberation Sans",Arial,sans-serif' fill="#333" stroke="#333" stroke-width="0.22" >25</text><text x="157.3" y="71.0" font-size="6.0" text-anchor="start" font-weight="normal" font-family='"Liberation Sans",Arial,sans-serif' fill="#333" stroke="#333" stroke-width="0.22" >20</text><text x="157.3" y="84.6" font-size="6.0" text-anchor="start" font-weight="normal" font-family='"Liberation Sans",Arial,sans-serif' fill="#333" stroke="#333" stroke-width="0.22" >15</text><text x="157.3" y="98.2" font-size="6.0" text-anchor="start" font-weight="normal" font-family='"Liberation Sans",Arial,sans-serif' fill="#333" stroke="#333" stroke-width="0.22" >10</text><text x="157.3" y="111.8" font-size="6.0" text-anchor="start" font-weight="normal" font-family='"Liberation Sans",Arial,sans-serif' fill="#333" stroke="#333" stroke-width="0.22" >5</text><text x="157.3" y="125.4" font-size="6.0" text-anchor="start" font-weight="normal" font-family='"Liberation Sans",Arial,sans-serif' fill="#333" stroke="#333" stroke-width="0.22" >0</text><text x="14.8" y="37.4" font-size="6.0" text-anchor="end" font-weight="normal" font-family='"Liberation Sans",Arial,sans-serif' fill="#333" stroke="#333" stroke-width="0.22" >50</text><text x="41.0" y="140.7" font-size="6.0" text-anchor="middle" font-weight="normal" font-family='"Liberation Sans",Arial,sans-serif' fill="#333" stroke="#333" stroke-width="0.22" >50</text><line x1="17.7" y1="34.9" x2="18.9" y2="34.9" stroke="#444" stroke-width="0.6"/><line x1="41.0" y1="132.2" x2="41.0" y2="131.0" stroke="#444" stroke-width="0.6"/><text x="14.8" y="61.0" font-size="6.0" text-anchor="end" font-weight="normal" font-family='"Liberation Sans",Arial,sans-serif' fill="#333" stroke="#333" stroke-width="0.22" >100</text><text x="64.5" y="140.7" font-size="6.0" text-anchor="middle" font-weight="normal" font-family='"Liberation Sans",Arial,sans-serif' fill="#333" stroke="#333" stroke-width="0.22" >100</text><line x1="17.7" y1="58.5" x2="18.9" y2="58.5" stroke="#444" stroke-width="0.6"/><line x1="64.5" y1="132.2" x2="64.5" y2="131.0" stroke="#444" stroke-width="0.6"/><text x="14.8" y="84.5" font-size="6.0" text-anchor="end" font-weight="normal" font-family='"Liberation Sans",Arial,sans-serif' fill="#333" stroke="#333" stroke-width="0.22" >150</text><text x="88.1" y="140.7" font-size="6.0" text-anchor="middle" font-weight="normal" font-family='"Liberation Sans",Arial,sans-serif' fill="#333" stroke="#333" stroke-width="0.22" >150</text><line x1="17.7" y1="82.0" x2="18.9" y2="82.0" stroke="#444" stroke-width="0.6"/><line x1="88.1" y1="132.2" x2="88.1" y2="131.0" stroke="#444" stroke-width="0.6"/><text x="14.8" y="108.1" font-size="6.0" text-anchor="end" font-weight="normal" font-family='"Liberation Sans",Arial,sans-serif' fill="#333" stroke="#333" stroke-width="0.22" >200</text><text x="111.6" y="140.7" font-size="6.0" text-anchor="middle" font-weight="normal" font-family='"Liberation Sans",Arial,sans-serif' fill="#333" stroke="#333" stroke-width="0.22" >200</text><line x1="17.7" y1="105.6" x2="18.9" y2="105.6" stroke="#444" stroke-width="0.6"/><line x1="111.6" y1="132.2" x2="111.6" y2="131.0" stroke="#444" stroke-width="0.6"/><text x="14.8" y="131.6" font-size="6.0" text-anchor="end" font-weight="normal" font-family='"Liberation Sans",Arial,sans-serif' fill="#333" stroke="#333" stroke-width="0.22" >250</text><text x="135.1" y="140.7" font-size="6.0" text-anchor="middle" font-weight="normal" font-family='"Liberation Sans",Arial,sans-serif' fill="#333" stroke="#333" stroke-width="0.22" >250</text><line x1="17.7" y1="129.1" x2="18.9" y2="129.1" stroke="#444" stroke-width="0.6"/><line x1="135.1" y1="132.2" x2="135.1" y2="131.0" stroke="#444" stroke-width="0.6"/><svg x="214.0" y="11.6" width="120.60000000000002" height="120.4" viewBox="0 0 120 120" preserveAspectRatio="none"><g filter="url(#fm1)"><rect x="0" y="0" width="120" height="120" fill="#000"/><use href="#STK"/></g></svg><rect x="342.0" y="11.6" width="9.5" height="120.4" fill="url(#jv)"/><text x="346.8" y="8.3" font-size="5.3" text-anchor="middle" font-weight="normal" font-family='"Liberation Sans",Arial,sans-serif' fill="#333" stroke="#333" stroke-width="0.22" >[rad]</text><text x="353.8" y="13.7" font-size="6.0" text-anchor="start" font-weight="normal" font-family='"Liberation Sans",Arial,sans-serif' fill="#333" stroke="#333" stroke-width="0.22" >4</text><text x="353.8" y="28.8" font-size="6.0" text-anchor="start" font-weight="normal" font-family='"Liberation Sans",Arial,sans-serif' fill="#333" stroke="#333" stroke-width="0.22" >3</text><text x="353.8" y="43.8" font-size="6.0" text-anchor="start" font-weight="normal" font-family='"Liberation Sans",Arial,sans-serif' fill="#333" stroke="#333" stroke-width="0.22" >2</text><text x="353.8" y="58.9" font-size="6.0" text-anchor="start" font-weight="normal" font-family='"Liberation Sans",Arial,sans-serif' fill="#333" stroke="#333" stroke-width="0.22" >1</text><text x="353.8" y="74.0" font-size="6.0" text-anchor="start" font-weight="normal" font-family='"Liberation Sans",Arial,sans-serif' fill="#333" stroke="#333" stroke-width="0.22" >0</text><text x="353.8" y="89.0" font-size="6.0" text-anchor="start" font-weight="normal" font-family='"Liberation Sans",Arial,sans-serif' fill="#333" stroke="#333" stroke-width="0.22" >&#8722;1</text><text x="353.8" y="104.1" font-size="6.0" text-anchor="start" font-weight="normal" font-family='"Liberation Sans",Arial,sans-serif' fill="#333" stroke="#333" stroke-width="0.22" >&#8722;2</text><text x="353.8" y="119.2" font-size="6.0" text-anchor="start" font-weight="normal" font-family='"Liberation Sans",Arial,sans-serif' fill="#333" stroke="#333" stroke-width="0.22" >&#8722;3</text><text x="353.8" y="134.3" font-size="6.0" text-anchor="start" font-weight="normal" font-family='"Liberation Sans",Arial,sans-serif' fill="#333" stroke="#333" stroke-width="0.22" >&#8722;4</text><text x="210.5" y="37.4" font-size="6.0" text-anchor="end" font-weight="normal" font-family='"Liberation Sans",Arial,sans-serif' fill="#333" stroke="#333" stroke-width="0.22" >50</text><text x="237.3" y="140.7" font-size="6.0" text-anchor="middle" font-weight="normal" font-family='"Liberation Sans",Arial,sans-serif' fill="#333" stroke="#333" stroke-width="0.22" >50</text><line x1="214.0" y1="34.9" x2="215.2" y2="34.9" stroke="#444" stroke-width="0.6"/><line x1="237.3" y1="132.0" x2="237.3" y2="130.8" stroke="#444" stroke-width="0.6"/><text x="210.5" y="60.9" font-size="6.0" text-anchor="end" font-weight="normal" font-family='"Liberation Sans",Arial,sans-serif' fill="#333" stroke="#333" stroke-width="0.22" >100</text><text x="260.9" y="140.7" font-size="6.0" text-anchor="middle" font-weight="normal" font-family='"Liberation Sans",Arial,sans-serif' fill="#333" stroke="#333" stroke-width="0.22" >100</text><line x1="214.0" y1="58.4" x2="215.2" y2="58.4" stroke="#444" stroke-width="0.6"/><line x1="260.9" y1="132.0" x2="260.9" y2="130.8" stroke="#444" stroke-width="0.6"/><text x="210.5" y="84.4" font-size="6.0" text-anchor="end" font-weight="normal" font-family='"Liberation Sans",Arial,sans-serif' fill="#333" stroke="#333" stroke-width="0.22" >150</text><text x="284.4" y="140.7" font-size="6.0" text-anchor="middle" font-weight="normal" font-family='"Liberation Sans",Arial,sans-serif' fill="#333" stroke="#333" stroke-width="0.22" >150</text><line x1="214.0" y1="81.9" x2="215.2" y2="81.9" stroke="#444" stroke-width="0.6"/><line x1="284.4" y1="132.0" x2="284.4" y2="130.8" stroke="#444" stroke-width="0.6"/><text x="210.5" y="107.9" font-size="6.0" text-anchor="end" font-weight="normal" font-family='"Liberation Sans",Arial,sans-serif' fill="#333" stroke="#333" stroke-width="0.22" >200</text><text x="308.0" y="140.7" font-size="6.0" text-anchor="middle" font-weight="normal" font-family='"Liberation Sans",Arial,sans-serif' fill="#333" stroke="#333" stroke-width="0.22" >200</text><line x1="214.0" y1="105.4" x2="215.2" y2="105.4" stroke="#444" stroke-width="0.6"/><line x1="308.0" y1="132.0" x2="308.0" y2="130.8" stroke="#444" stroke-width="0.6"/><text x="210.5" y="131.4" font-size="6.0" text-anchor="end" font-weight="normal" font-family='"Liberation Sans",Arial,sans-serif' fill="#333" stroke="#333" stroke-width="0.22" >250</text><text x="331.5" y="140.7" font-size="6.0" text-anchor="middle" font-weight="normal" font-family='"Liberation Sans",Arial,sans-serif' fill="#333" stroke="#333" stroke-width="0.22" >250</text><line x1="214.0" y1="128.9" x2="215.2" y2="128.9" stroke="#444" stroke-width="0.6"/><line x1="331.5" y1="132.0" x2="331.5" y2="130.8" stroke="#444" stroke-width="0.6"/><polygon points="422.60,131.70 422.60,130.88 423.31,130.88 423.31,130.99 424.01,130.99 424.01,130.66 424.72,130.66 424.72,130.42 425.42,130.42 425.42,130.16 426.13,130.16 426.13,130.49 426.83,130.49 426.83,130.70 427.54,130.70 427.54,130.79 428.24,130.79 428.24,130.38 428.95,130.38 428.95,130.12 429.66,130.12 429.66,130.45 430.36,130.45 430.36,130.86 431.07,130.86 431.07,130.75 431.77,130.75 431.77,129.88 432.48,129.88 432.48,130.40 433.18,130.40 433.18,131.04 433.89,131.04 433.89,130.62 434.59,130.62 434.59,130.97 435.30,130.97 435.30,130.84 436.01,130.84 436.01,130.76 436.71,130.76 436.71,130.79 437.42,130.79 437.42,130.38 438.12,130.38 438.12,130.52 438.83,130.52 438.83,130.70 439.53,130.70 439.53,130.43 440.24,130.43 440.24,130.33 440.94,130.33 440.94,131.05 441.65,131.05 441.65,130.65 442.36,130.65 442.36,130.82 443.06,130.82 443.06,130.54 443.77,130.54 443.77,130.85 444.47,130.85 444.47,130.39 445.18,130.39 445.18,130.48 445.88,130.48 445.88,130.62 446.59,130.62 446.59,130.89 447.29,130.89 447.29,130.77 448.00,130.77 448.00,131.70" fill="url(#jh)"/><polygon points="448.30,131.70 448.30,129.80 448.57,129.80 448.57,129.83 448.84,129.83 448.84,128.47 449.12,128.47 449.12,129.33 449.39,129.33 449.39,127.18 449.66,127.18 449.66,127.70 449.93,127.70 449.93,130.06 450.21,130.06 450.21,128.32 450.48,128.32 450.48,129.49 450.75,129.49 450.75,128.76 451.02,128.76 451.02,128.94 451.29,128.94 451.29,130.41 451.57,130.41 451.57,129.46 451.84,129.46 451.84,129.64 452.11,129.64 452.11,128.86 452.38,128.86 452.38,130.02 452.66,130.02 452.66,128.78 452.93,128.78 452.93,129.85 453.20,129.85 453.20,129.38 453.47,129.38 453.47,129.80 453.74,129.80 453.74,128.61 454.02,128.61 454.02,129.26 454.29,129.26 454.29,128.48 454.56,128.48 454.56,129.17 454.83,129.17 454.83,128.85 455.11,128.85 455.11,128.63 455.38,128.63 455.38,129.40 455.65,129.40 455.65,128.91 455.92,128.91 455.92,127.78 456.19,127.78 456.19,128.98 456.47,128.98 456.47,128.44 456.74,128.44 456.74,128.52 457.01,128.52 457.01,128.19 457.28,128.19 457.28,129.07 457.56,129.07 457.56,129.07 457.83,129.07 457.83,128.97 458.10,128.97 458.10,131.70" fill="url(#jh)"/><polygon points="460.00,131.70 460.00,109.83 460.29,109.83 460.29,109.54 460.58,109.54 460.58,109.05 460.87,109.05 460.87,108.12 461.16,108.12 461.16,108.00 461.44,108.00 461.44,107.47 461.73,107.47 461.73,106.14 462.02,106.14 462.02,106.12 462.31,106.12 462.31,105.17 462.60,105.17 462.60,107.08 462.89,107.08 462.89,108.46 463.18,108.46 463.18,108.23 463.47,108.23 463.47,109.04 463.76,109.04 463.76,109.31 464.04,109.31 464.04,109.09 464.33,109.09 464.33,109.36 464.62,109.36 464.62,107.06 464.91,107.06 464.91,105.10 465.20,105.10 465.20,102.49 465.49,102.49 465.49,100.04 465.78,100.04 465.78,99.66 466.07,99.66 466.07,99.80 466.36,99.80 466.36,102.30 466.64,102.30 466.64,104.54 466.93,104.54 466.93,104.58 467.22,104.58 467.22,104.62 467.51,104.62 467.51,103.39 467.80,103.39 467.80,103.57 468.09,103.57 468.09,101.63 468.38,101.63 468.38,103.68 468.67,103.68 468.67,104.51 468.96,104.51 468.96,104.23 469.24,104.23 469.24,105.19 469.53,105.19 469.53,105.21 469.82,105.21 469.82,107.72 470.11,107.72 470.11,108.18 470.40,108.18 470.40,131.70" fill="url(#jh)"/><polygon points="472.40,131.70 472.40,28.35 472.67,28.35 472.67,23.70 472.94,23.70 472.94,23.22 473.22,23.22 473.22,28.07 473.49,28.07 473.49,19.78 473.76,19.78 473.76,27.70 474.03,27.70 474.03,26.32 474.31,26.32 474.31,27.97 474.58,27.97 474.58,21.95 474.85,21.95 474.85,21.74 475.12,21.74 475.12,28.86 475.39,28.86 475.39,24.54 475.67,24.54 475.67,23.96 475.94,23.96 475.94,21.96 476.21,21.96 476.21,24.17 476.48,24.17 476.48,16.48 476.76,16.48 476.76,19.10 477.03,19.10 477.03,18.76 477.30,18.76 477.30,22.53 477.57,22.53 477.57,19.81 477.84,19.81 477.84,20.18 478.12,20.18 478.12,21.53 478.39,21.53 478.39,24.41 478.66,24.41 478.66,21.46 478.93,21.46 478.93,22.71 479.21,22.71 479.21,27.84 479.48,27.84 479.48,24.94 479.75,24.94 479.75,28.52 480.02,28.52 480.02,26.30 480.29,26.30 480.29,34.19 480.57,34.19 480.57,33.75 480.84,33.75 480.84,29.49 481.11,29.49 481.11,35.50 481.38,35.50 481.38,39.77 481.66,39.77 481.66,34.39 481.93,34.39 481.93,38.69 482.20,38.69 482.20,131.70" fill="url(#jh)"/><polygon points="484.40,131.70 484.40,26.69 484.70,26.69 484.70,25.99 484.99,25.99 484.99,22.26 485.29,22.26 485.29,22.88 485.59,22.88 485.59,29.14 485.89,29.14 485.89,25.62 486.18,25.62 486.18,31.18 486.48,31.18 486.48,29.35 486.78,29.35 486.78,30.17 487.07,30.17 487.07,28.37 487.37,28.37 487.37,26.46 487.67,26.46 487.67,25.19 487.97,25.19 487.97,28.03 488.26,28.03 488.26,25.54 488.56,25.54 488.56,24.66 488.86,24.66 488.86,26.78 489.16,26.78 489.16,22.27 489.45,22.27 489.45,23.56 489.75,23.56 489.75,21.64 490.05,21.64 490.05,25.84 490.34,25.84 490.34,26.21 490.64,26.21 490.64,26.15 490.94,26.15 490.94,26.63 491.24,26.63 491.24,31.03 491.53,31.03 491.53,29.38 491.83,29.38 491.83,29.51 492.13,29.51 492.13,30.41 492.43,30.41 492.43,29.66 492.72,29.66 492.72,30.32 493.02,30.32 493.02,27.62 493.32,27.62 493.32,27.36 493.61,27.36 493.61,29.18 493.91,29.18 493.91,26.94 494.21,26.94 494.21,21.59 494.51,21.59 494.51,27.74 494.80,27.74 494.80,23.23 495.10,23.23 495.10,131.70" fill="url(#jh)"/><polygon points="496.70,131.70 496.70,109.88 496.99,109.88 496.99,109.34 497.28,109.34 497.28,108.38 497.57,108.38 497.57,107.11 497.87,107.11 497.87,107.36 498.16,107.36 498.16,105.05 498.45,105.05 498.45,104.23 498.74,104.23 498.74,103.06 499.03,103.06 499.03,102.98 499.32,102.98 499.32,101.92 499.62,101.92 499.62,101.47 499.91,101.47 499.91,100.79 500.20,100.79 500.20,100.98 500.49,100.98 500.49,98.51 500.78,98.51 500.78,99.50 501.07,99.50 501.07,99.43 501.37,99.43 501.37,99.90 501.66,99.90 501.66,100.76 501.95,100.76 501.95,101.98 502.24,101.98 502.24,100.38 502.53,100.38 502.53,102.39 502.82,102.39 502.82,102.45 503.12,102.45 503.12,103.43 503.41,103.43 503.41,102.55 503.70,102.55 503.70,105.83 503.99,105.83 503.99,105.22 504.28,105.22 504.28,108.47 504.57,108.47 504.57,106.76 504.87,106.76 504.87,104.63 505.16,104.63 505.16,103.69 505.45,103.69 505.45,101.74 505.74,101.74 505.74,100.39 506.03,100.39 506.03,101.22 506.32,101.22 506.32,104.03 506.62,104.03 506.62,105.57 506.91,105.57 506.91,107.10 507.20,107.10 507.20,131.70" fill="url(#jh)"/><polygon points="508.60,131.70 508.60,127.29 508.89,127.29 508.89,127.83 509.18,127.83 509.18,128.14 509.48,128.14 509.48,128.31 509.77,128.31 509.77,129.74 510.06,129.74 510.06,129.00 510.35,129.00 510.35,128.39 510.64,128.39 510.64,129.82 510.93,129.82 510.93,129.55 511.23,129.55 511.23,129.98 511.52,129.98 511.52,129.52 511.81,129.52 511.81,130.15 512.10,130.15 512.10,128.59 512.39,128.59 512.39,129.61 512.68,129.61 512.68,130.22 512.98,130.22 512.98,128.09 513.27,128.09 513.27,128.67 513.56,128.67 513.56,129.01 513.85,129.01 513.85,129.07 514.14,129.07 514.14,129.64 514.43,129.64 514.43,129.62 514.73,129.62 514.73,129.04 515.02,129.04 515.02,128.86 515.31,128.86 515.31,128.78 515.60,128.78 515.60,129.14 515.89,129.14 515.89,129.50 516.18,129.50 516.18,129.16 516.48,129.16 516.48,128.02 516.77,128.02 516.77,127.49 517.06,127.49 517.06,128.67 517.35,128.67 517.35,128.60 517.64,128.60 517.64,127.24 517.93,127.24 517.93,128.05 518.23,128.05 518.23,128.44 518.52,128.44 518.52,130.04 518.81,130.04 518.81,129.75 519.10,129.75 519.10,131.70" fill="url(#jh)"/><polygon points="519.50,131.70 519.50,130.75 520.19,130.75 520.19,130.57 520.88,130.57 520.88,131.09 521.58,131.09 521.58,130.34 522.27,130.34 522.27,130.61 522.96,130.61 522.96,130.58 523.65,130.58 523.65,130.96 524.34,130.96 524.34,130.62 525.03,130.62 525.03,130.19 525.73,130.19 525.73,130.99 526.42,130.99 526.42,130.42 527.11,130.42 527.11,130.35 527.80,130.35 527.80,130.78 528.49,130.78 528.49,130.41 529.18,130.41 529.18,130.75 529.88,130.75 529.88,130.39 530.57,130.39 530.57,130.54 531.26,130.54 531.26,130.60 531.95,130.60 531.95,130.11 532.64,130.11 532.64,130.40 533.33,130.40 533.33,130.24 534.02,130.24 534.02,130.95 534.72,130.95 534.72,130.84 535.41,130.84 535.41,130.51 536.10,130.51 536.10,130.54 536.79,130.54 536.79,130.80 537.48,130.80 537.48,130.61 538.17,130.61 538.17,131.01 538.87,131.01 538.87,130.69 539.56,130.69 539.56,131.01 540.25,131.01 540.25,130.62 540.94,130.62 540.94,130.81 541.63,130.81 541.63,130.83 542.32,130.83 542.32,130.63 543.02,130.63 543.02,130.14 543.71,130.14 543.71,130.89 544.40,130.89 544.40,131.70" fill="url(#jh)"/><rect x="422.5" y="10.5" width="122.0" height="121.0" fill="none" stroke="#999" stroke-width="1"/><text x="422.6" y="140.0" font-size="6.0" text-anchor="middle" font-weight="normal" font-family='"Liberation Sans",Arial,sans-serif' fill="#333" stroke="#333" stroke-width="0.22" >&#8722;4</text><line x1="422.6" y1="131.7" x2="422.6" y2="130.5" stroke="#444" stroke-width="0.6"/><line x1="422.6" y1="10.0" x2="422.6" y2="11.2" stroke="#444" stroke-width="0.6"/><text x="453.1" y="140.0" font-size="6.0" text-anchor="middle" font-weight="normal" font-family='"Liberation Sans",Arial,sans-serif' fill="#333" stroke="#333" stroke-width="0.22" >&#8722;2</text><line x1="453.1" y1="131.7" x2="453.1" y2="130.5" stroke="#444" stroke-width="0.6"/><line x1="453.1" y1="10.0" x2="453.1" y2="11.2" stroke="#444" stroke-width="0.6"/><text x="483.5" y="140.0" font-size="6.0" text-anchor="middle" font-weight="normal" font-family='"Liberation Sans",Arial,sans-serif' fill="#333" stroke="#333" stroke-width="0.22" >0</text><line x1="483.5" y1="131.7" x2="483.5" y2="130.5" stroke="#444" stroke-width="0.6"/><line x1="483.5" y1="10.0" x2="483.5" y2="11.2" stroke="#444" stroke-width="0.6"/><text x="514.0" y="140.0" font-size="6.0" text-anchor="middle" font-weight="normal" font-family='"Liberation Sans",Arial,sans-serif' fill="#333" stroke="#333" stroke-width="0.22" >2</text><line x1="514.0" y1="131.7" x2="514.0" y2="130.5" stroke="#444" stroke-width="0.6"/><line x1="514.0" y1="10.0" x2="514.0" y2="11.2" stroke="#444" stroke-width="0.6"/><text x="544.4" y="140.0" font-size="6.0" text-anchor="middle" font-weight="normal" font-family='"Liberation Sans",Arial,sans-serif' fill="#333" stroke="#333" stroke-width="0.22" >4</text><line x1="544.4" y1="131.7" x2="544.4" y2="130.5" stroke="#444" stroke-width="0.6"/><line x1="544.4" y1="10.0" x2="544.4" y2="11.2" stroke="#444" stroke-width="0.6"/><text x="420.4" y="133.8" font-size="6.0" text-anchor="end" font-weight="normal" font-family='"Liberation Sans",Arial,sans-serif' fill="#333" stroke="#333" stroke-width="0.22" >0</text><line x1="422.6" y1="131.7" x2="423.8" y2="131.7" stroke="#444" stroke-width="0.6"/><line x1="544.4" y1="131.7" x2="543.1999999999999" y2="131.7" stroke="#444" stroke-width="0.6"/><text x="420.4" y="116.4" font-size="6.0" text-anchor="end" font-weight="normal" font-family='"Liberation Sans",Arial,sans-serif' fill="#333" stroke="#333" stroke-width="0.22" >20</text><line x1="422.6" y1="114.3" x2="423.8" y2="114.3" stroke="#444" stroke-width="0.6"/><line x1="544.4" y1="114.3" x2="543.1999999999999" y2="114.3" stroke="#444" stroke-width="0.6"/><text x="420.4" y="99.0" font-size="6.0" text-anchor="end" font-weight="normal" font-family='"Liberation Sans",Arial,sans-serif' fill="#333" stroke="#333" stroke-width="0.22" >40</text><line x1="422.6" y1="96.9" x2="423.8" y2="96.9" stroke="#444" stroke-width="0.6"/><line x1="544.4" y1="96.9" x2="543.1999999999999" y2="96.9" stroke="#444" stroke-width="0.6"/><text x="420.4" y="81.6" font-size="6.0" text-anchor="end" font-weight="normal" font-family='"Liberation Sans",Arial,sans-serif' fill="#333" stroke="#333" stroke-width="0.22" >60</text><line x1="422.6" y1="79.5" x2="423.8" y2="79.5" stroke="#444" stroke-width="0.6"/><line x1="544.4" y1="79.5" x2="543.1999999999999" y2="79.5" stroke="#444" stroke-width="0.6"/><text x="420.4" y="64.3" font-size="6.0" text-anchor="end" font-weight="normal" font-family='"Liberation Sans",Arial,sans-serif' fill="#333" stroke="#333" stroke-width="0.22" >80</text><line x1="422.6" y1="62.2" x2="423.8" y2="62.2" stroke="#444" stroke-width="0.6"/><line x1="544.4" y1="62.2" x2="543.1999999999999" y2="62.2" stroke="#444" stroke-width="0.6"/><text x="420.4" y="46.9" font-size="6.0" text-anchor="end" font-weight="normal" font-family='"Liberation Sans",Arial,sans-serif' fill="#333" stroke="#333" stroke-width="0.22" >100</text><line x1="422.6" y1="44.8" x2="423.8" y2="44.8" stroke="#444" stroke-width="0.6"/><line x1="544.4" y1="44.8" x2="543.1999999999999" y2="44.8" stroke="#444" stroke-width="0.6"/><text x="420.4" y="29.5" font-size="6.0" text-anchor="end" font-weight="normal" font-family='"Liberation Sans",Arial,sans-serif' fill="#333" stroke="#333" stroke-width="0.22" >120</text><line x1="422.6" y1="27.4" x2="423.8" y2="27.4" stroke="#444" stroke-width="0.6"/><line x1="544.4" y1="27.4" x2="543.1999999999999" y2="27.4" stroke="#444" stroke-width="0.6"/><text x="420.4" y="12.1" font-size="6.0" text-anchor="end" font-weight="normal" font-family='"Liberation Sans",Arial,sans-serif' fill="#333" stroke="#333" stroke-width="0.22" >140</text><line x1="422.6" y1="10.0" x2="423.8" y2="10.0" stroke="#444" stroke-width="0.6"/><line x1="544.4" y1="10.0" x2="543.1999999999999" y2="10.0" stroke="#444" stroke-width="0.6"/><text x="0.0" y="0.0" font-size="6.8" text-anchor="middle" font-weight="bold" font-family='"Liberation Sans",Arial,sans-serif' fill="#222" stroke="#222" stroke-width="0.22" transform="translate(406.2,70.3) rotate(-90)">Number of pixels</text><text x="278.3" y="156.2" font-size="12.5" text-anchor="middle" font-weight="bold" font-family='"Liberation Serif","Times New Roman",serif' fill="#111" stroke="#111" stroke-width="0.22" >(d)</text><svg x="16.0" y="167.6" width="120.6" height="120.79999999999998" viewBox="0 0 120 120" preserveAspectRatio="none"><g filter="url(#fl)"><use href="#FLD"/></g></svg><rect x="144.0" y="167.6" width="9.599999999999994" height="120.79999999999998" fill="url(#jv)"/><text x="148.8" y="164.3" font-size="5.3" text-anchor="middle" font-weight="normal" font-family='"Liberation Sans",Arial,sans-serif' fill="#333" stroke="#333" stroke-width="0.22" >[rad]</text><text x="155.9" y="173.7" font-size="6.0" text-anchor="start" font-weight="normal" font-family='"Liberation Sans",Arial,sans-serif' fill="#333" stroke="#333" stroke-width="0.22" >40</text><text x="155.9" y="187.2" font-size="6.0" text-anchor="start" font-weight="normal" font-family='"Liberation Sans",Arial,sans-serif' fill="#333" stroke="#333" stroke-width="0.22" >35</text><text x="155.9" y="200.7" font-size="6.0" text-anchor="start" font-weight="normal" font-family='"Liberation Sans",Arial,sans-serif' fill="#333" stroke="#333" stroke-width="0.22" >30</text><text x="155.9" y="214.2" font-size="6.0" text-anchor="start" font-weight="normal" font-family='"Liberation Sans",Arial,sans-serif' fill="#333" stroke="#333" stroke-width="0.22" >25</text><text x="155.9" y="227.7" font-size="6.0" text-anchor="start" font-weight="normal" font-family='"Liberation Sans",Arial,sans-serif' fill="#333" stroke="#333" stroke-width="0.22" >20</text><text x="155.9" y="241.2" font-size="6.0" text-anchor="start" font-weight="normal" font-family='"Liberation Sans",Arial,sans-serif' fill="#333" stroke="#333" stroke-width="0.22" >15</text><text x="155.9" y="254.7" font-size="6.0" text-anchor="start" font-weight="normal" font-family='"Liberation Sans",Arial,sans-serif' fill="#333" stroke="#333" stroke-width="0.22" >10</text><text x="155.9" y="268.2" font-size="6.0" text-anchor="start" font-weight="normal" font-family='"Liberation Sans",Arial,sans-serif' fill="#333" stroke="#333" stroke-width="0.22" >5</text><text x="155.9" y="281.7" font-size="6.0" text-anchor="start" font-weight="normal" font-family='"Liberation Sans",Arial,sans-serif' fill="#333" stroke="#333" stroke-width="0.22" >0</text><text x="13.1" y="193.5" font-size="6.0" text-anchor="end" font-weight="normal" font-family='"Liberation Sans",Arial,sans-serif' fill="#333" stroke="#333" stroke-width="0.22" >50</text><text x="39.3" y="297.7" font-size="6.0" text-anchor="middle" font-weight="normal" font-family='"Liberation Sans",Arial,sans-serif' fill="#333" stroke="#333" stroke-width="0.22" >50</text><line x1="16.0" y1="191.0" x2="17.2" y2="191.0" stroke="#444" stroke-width="0.6"/><line x1="39.3" y1="288.4" x2="39.3" y2="287.2" stroke="#444" stroke-width="0.6"/><text x="13.1" y="217.1" font-size="6.0" text-anchor="end" font-weight="normal" font-family='"Liberation Sans",Arial,sans-serif' fill="#333" stroke="#333" stroke-width="0.22" >100</text><text x="62.9" y="297.7" font-size="6.0" text-anchor="middle" font-weight="normal" font-family='"Liberation Sans",Arial,sans-serif' fill="#333" stroke="#333" stroke-width="0.22" >100</text><line x1="16.0" y1="214.6" x2="17.2" y2="214.6" stroke="#444" stroke-width="0.6"/><line x1="62.9" y1="288.4" x2="62.9" y2="287.2" stroke="#444" stroke-width="0.6"/><text x="13.1" y="240.6" font-size="6.0" text-anchor="end" font-weight="normal" font-family='"Liberation Sans",Arial,sans-serif' fill="#333" stroke="#333" stroke-width="0.22" >150</text><text x="86.4" y="297.7" font-size="6.0" text-anchor="middle" font-weight="normal" font-family='"Liberation Sans",Arial,sans-serif' fill="#333" stroke="#333" stroke-width="0.22" >150</text><line x1="16.0" y1="238.1" x2="17.2" y2="238.1" stroke="#444" stroke-width="0.6"/><line x1="86.4" y1="288.4" x2="86.4" y2="287.2" stroke="#444" stroke-width="0.6"/><text x="13.1" y="264.2" font-size="6.0" text-anchor="end" font-weight="normal" font-family='"Liberation Sans",Arial,sans-serif' fill="#333" stroke="#333" stroke-width="0.22" >200</text><text x="110.0" y="297.7" font-size="6.0" text-anchor="middle" font-weight="normal" font-family='"Liberation Sans",Arial,sans-serif' fill="#333" stroke="#333" stroke-width="0.22" >200</text><line x1="16.0" y1="261.7" x2="17.2" y2="261.7" stroke="#444" stroke-width="0.6"/><line x1="110.0" y1="288.4" x2="110.0" y2="287.2" stroke="#444" stroke-width="0.6"/><text x="13.1" y="287.8" font-size="6.0" text-anchor="end" font-weight="normal" font-family='"Liberation Sans",Arial,sans-serif' fill="#333" stroke="#333" stroke-width="0.22" >250</text><text x="133.5" y="297.7" font-size="6.0" text-anchor="middle" font-weight="normal" font-family='"Liberation Sans",Arial,sans-serif' fill="#333" stroke="#333" stroke-width="0.22" >250</text><line x1="16.0" y1="285.3" x2="17.2" y2="285.3" stroke="#444" stroke-width="0.6"/><line x1="133.5" y1="288.4" x2="133.5" y2="287.2" stroke="#444" stroke-width="0.6"/><svg x="213.4" y="167.4" width="121.20000000000002" height="121.6" viewBox="0 0 120 120" preserveAspectRatio="none"><g filter="url(#fm2)"><rect x="0" y="0" width="120" height="120" fill="#000"/><use href="#STK"/></g></svg><rect x="342.0" y="167.4" width="9.5" height="121.6" fill="url(#jv)"/><text x="346.8" y="164.1" font-size="5.3" text-anchor="middle" font-weight="normal" font-family='"Liberation Sans",Arial,sans-serif' fill="#333" stroke="#333" stroke-width="0.22" >[rad]</text><text x="353.8" y="172.1" font-size="6.0" text-anchor="start" font-weight="normal" font-family='"Liberation Sans",Arial,sans-serif' fill="#333" stroke="#333" stroke-width="0.22" >6</text><text x="353.8" y="192.6" font-size="6.0" text-anchor="start" font-weight="normal" font-family='"Liberation Sans",Arial,sans-serif' fill="#333" stroke="#333" stroke-width="0.22" >4</text><text x="353.8" y="213.1" font-size="6.0" text-anchor="start" font-weight="normal" font-family='"Liberation Sans",Arial,sans-serif' fill="#333" stroke="#333" stroke-width="0.22" >2</text><text x="353.8" y="233.6" font-size="6.0" text-anchor="start" font-weight="normal" font-family='"Liberation Sans",Arial,sans-serif' fill="#333" stroke="#333" stroke-width="0.22" >0</text><text x="353.8" y="254.1" font-size="6.0" text-anchor="start" font-weight="normal" font-family='"Liberation Sans",Arial,sans-serif' fill="#333" stroke="#333" stroke-width="0.22" >&#8722;2</text><text x="353.8" y="274.6" font-size="6.0" text-anchor="start" font-weight="normal" font-family='"Liberation Sans",Arial,sans-serif' fill="#333" stroke="#333" stroke-width="0.22" >&#8722;4</text><text x="209.9" y="193.4" font-size="6.0" text-anchor="end" font-weight="normal" font-family='"Liberation Sans",Arial,sans-serif' fill="#333" stroke="#333" stroke-width="0.22" >50</text><text x="236.8" y="297.7" font-size="6.0" text-anchor="middle" font-weight="normal" font-family='"Liberation Sans",Arial,sans-serif' fill="#333" stroke="#333" stroke-width="0.22" >50</text><line x1="213.4" y1="190.9" x2="214.6" y2="190.9" stroke="#444" stroke-width="0.6"/><line x1="236.8" y1="289.0" x2="236.8" y2="287.8" stroke="#444" stroke-width="0.6"/><text x="209.9" y="217.2" font-size="6.0" text-anchor="end" font-weight="normal" font-family='"Liberation Sans",Arial,sans-serif' fill="#333" stroke="#333" stroke-width="0.22" >100</text><text x="260.5" y="297.7" font-size="6.0" text-anchor="middle" font-weight="normal" font-family='"Liberation Sans",Arial,sans-serif' fill="#333" stroke="#333" stroke-width="0.22" >100</text><line x1="213.4" y1="214.7" x2="214.6" y2="214.7" stroke="#444" stroke-width="0.6"/><line x1="260.5" y1="289.0" x2="260.5" y2="287.8" stroke="#444" stroke-width="0.6"/><text x="209.9" y="240.9" font-size="6.0" text-anchor="end" font-weight="normal" font-family='"Liberation Sans",Arial,sans-serif' fill="#333" stroke="#333" stroke-width="0.22" >150</text><text x="284.2" y="297.7" font-size="6.0" text-anchor="middle" font-weight="normal" font-family='"Liberation Sans",Arial,sans-serif' fill="#333" stroke="#333" stroke-width="0.22" >150</text><line x1="213.4" y1="238.4" x2="214.6" y2="238.4" stroke="#444" stroke-width="0.6"/><line x1="284.2" y1="289.0" x2="284.2" y2="287.8" stroke="#444" stroke-width="0.6"/><text x="209.9" y="264.7" font-size="6.0" text-anchor="end" font-weight="normal" font-family='"Liberation Sans",Arial,sans-serif' fill="#333" stroke="#333" stroke-width="0.22" >200</text><text x="307.9" y="297.7" font-size="6.0" text-anchor="middle" font-weight="normal" font-family='"Liberation Sans",Arial,sans-serif' fill="#333" stroke="#333" stroke-width="0.22" >200</text><line x1="213.4" y1="262.2" x2="214.6" y2="262.2" stroke="#444" stroke-width="0.6"/><line x1="307.9" y1="289.0" x2="307.9" y2="287.8" stroke="#444" stroke-width="0.6"/><text x="209.9" y="288.4" font-size="6.0" text-anchor="end" font-weight="normal" font-family='"Liberation Sans",Arial,sans-serif' fill="#333" stroke="#333" stroke-width="0.22" >250</text><text x="331.5" y="297.7" font-size="6.0" text-anchor="middle" font-weight="normal" font-family='"Liberation Sans",Arial,sans-serif' fill="#333" stroke="#333" stroke-width="0.22" >250</text><line x1="213.4" y1="285.9" x2="214.6" y2="285.9" stroke="#444" stroke-width="0.6"/><line x1="331.5" y1="289.0" x2="331.5" y2="287.8" stroke="#444" stroke-width="0.6"/><polygon points="423.40,289.10 423.40,288.43 424.07,288.43 424.07,288.15 424.74,288.15 424.74,288.46 425.41,288.46 425.41,288.11 426.08,288.11 426.08,288.41 426.75,288.41 426.75,288.47 427.42,288.47 427.42,288.41 428.09,288.41 428.09,288.10 428.76,288.10 428.76,288.21 429.42,288.21 429.42,288.16 430.09,288.16 430.09,288.14 430.76,288.14 430.76,288.51 431.43,288.51 431.43,288.34 432.10,288.34 432.10,287.83 432.77,287.83 432.77,288.05 433.44,288.05 433.44,288.17 434.11,288.17 434.11,288.20 434.78,288.20 434.78,288.47 435.45,288.47 435.45,288.32 436.12,288.32 436.12,288.52 436.79,288.52 436.79,288.24 437.46,288.24 437.46,288.43 438.13,288.43 438.13,288.30 438.80,288.30 438.80,288.12 439.47,288.12 439.47,288.30 440.14,288.30 440.14,288.14 440.81,288.14 440.81,288.24 441.48,288.24 441.48,288.31 442.14,288.31 442.14,288.20 442.81,288.20 442.81,288.71 443.48,288.71 443.48,288.72 444.15,288.72 444.15,288.29 444.82,288.29 444.82,288.15 445.49,288.15 445.49,287.85 446.16,287.85 446.16,288.03 446.83,288.03 446.83,287.93 447.50,287.93 447.50,289.10" fill="url(#jh)"/><polygon points="447.80,289.10 447.80,287.67 448.09,287.67 448.09,286.84 448.37,286.84 448.37,286.80 448.66,286.80 448.66,287.60 448.94,287.60 448.94,287.47 449.23,287.47 449.23,286.99 449.52,286.99 449.52,286.76 449.80,286.76 449.80,288.53 450.09,288.53 450.09,286.95 450.38,286.95 450.38,286.90 450.66,286.90 450.66,287.14 450.95,287.14 450.95,286.95 451.23,286.95 451.23,286.67 451.52,286.67 451.52,287.19 451.81,287.19 451.81,285.88 452.09,285.88 452.09,286.02 452.38,286.02 452.38,286.31 452.66,286.31 452.66,284.87 452.95,284.87 452.95,283.53 453.24,283.53 453.24,286.70 453.52,286.70 453.52,287.05 453.81,287.05 453.81,287.22 454.09,287.22 454.09,284.73 454.38,284.73 454.38,286.62 454.67,286.62 454.67,286.60 454.95,286.60 454.95,286.99 455.24,286.99 455.24,287.03 455.53,287.03 455.53,287.72 455.81,287.72 455.81,286.10 456.10,286.10 456.10,285.95 456.38,285.95 456.38,287.62 456.67,287.62 456.67,287.07 456.96,287.07 456.96,287.00 457.24,287.00 457.24,286.70 457.53,286.70 457.53,286.71 457.81,286.71 457.81,286.43 458.10,286.43 458.10,289.10" fill="url(#jh)"/><polygon points="460.50,289.10 460.50,278.24 460.79,278.24 460.79,277.93 461.08,277.93 461.08,277.85 461.38,277.85 461.38,277.71 461.67,277.71 461.67,277.29 461.96,277.29 461.96,277.46 462.25,277.46 462.25,277.31 462.54,277.31 462.54,278.29 462.83,278.29 462.83,278.99 463.12,278.99 463.12,278.90 463.42,278.90 463.42,278.92 463.71,278.92 463.71,279.07 464.00,279.07 464.00,277.52 464.29,277.52 464.29,276.99 464.58,276.99 464.58,275.57 464.88,275.57 464.88,274.22 465.17,274.22 465.17,275.64 465.46,275.64 465.46,276.17 465.75,276.17 465.75,276.05 466.04,276.05 466.04,277.02 466.33,277.02 466.33,277.83 466.62,277.83 466.62,277.28 466.92,277.28 466.92,277.41 467.21,277.41 467.21,277.29 467.50,277.29 467.50,276.47 467.79,276.47 467.79,276.86 468.08,276.86 468.08,276.73 468.38,276.73 468.38,276.90 468.67,276.90 468.67,277.28 468.96,277.28 468.96,276.29 469.25,276.29 469.25,277.43 469.54,277.43 469.54,277.89 469.83,277.89 469.83,278.62 470.12,278.62 470.12,279.41 470.42,279.41 470.42,279.72 470.71,279.72 470.71,280.59 471.00,280.59 471.00,289.10" fill="url(#jh)"/><polygon points="472.80,289.10 472.80,188.38 473.11,188.38 473.11,185.94 473.42,185.94 473.42,186.65 473.73,186.65 473.73,188.87 474.04,188.87 474.04,186.53 474.36,186.53 474.36,181.79 474.67,181.79 474.67,182.58 474.98,182.58 474.98,183.52 475.29,183.52 475.29,187.00 475.60,187.00 475.60,185.23 475.91,185.23 475.91,180.02 476.22,180.02 476.22,184.71 476.53,184.71 476.53,176.50 476.84,176.50 476.84,187.31 477.16,187.31 477.16,172.59 477.47,172.59 477.47,180.50 477.78,180.50 477.78,183.68 478.09,183.68 478.09,181.78 478.40,181.78 478.40,182.59 478.71,182.59 478.71,181.07 479.02,181.07 479.02,182.28 479.33,182.28 479.33,180.14 479.64,180.14 479.64,183.66 479.96,183.66 479.96,187.87 480.27,187.87 480.27,188.96 480.58,188.96 480.58,187.99 480.89,187.99 480.89,184.18 481.20,184.18 481.20,189.56 481.51,189.56 481.51,187.70 481.82,187.70 481.82,189.87 482.13,189.87 482.13,186.08 482.44,186.08 482.44,189.42 482.76,189.42 482.76,188.01 483.07,188.01 483.07,190.63 483.38,190.63 483.38,191.72 483.69,191.72 483.69,187.08 484.00,187.08 484.00,289.10" fill="url(#jh)"/><polygon points="485.70,289.10 485.70,264.82 485.99,264.82 485.99,264.52 486.27,264.52 486.27,265.04 486.56,265.04 486.56,264.29 486.84,264.29 486.84,263.46 487.13,263.46 487.13,264.08 487.42,264.08 487.42,262.72 487.70,262.72 487.70,263.34 487.99,263.34 487.99,260.91 488.27,260.91 488.27,262.62 488.56,262.62 488.56,261.33 488.85,261.33 488.85,261.65 489.13,261.65 489.13,261.13 489.42,261.13 489.42,260.45 489.71,260.45 489.71,261.83 489.99,261.83 489.99,260.39 490.28,260.39 490.28,260.41 490.56,260.41 490.56,260.47 490.85,260.47 490.85,259.97 491.14,259.97 491.14,259.55 491.42,259.55 491.42,259.93 491.71,259.93 491.71,260.02 491.99,260.02 491.99,259.36 492.28,259.36 492.28,259.60 492.57,259.60 492.57,260.04 492.85,260.04 492.85,259.80 493.14,259.80 493.14,261.60 493.43,261.60 493.43,261.32 493.71,261.32 493.71,260.91 494.00,260.91 494.00,261.84 494.28,261.84 494.28,261.21 494.57,261.21 494.57,261.52 494.86,261.52 494.86,262.33 495.14,262.33 495.14,263.01 495.43,263.01 495.43,263.43 495.71,263.43 495.71,265.17 496.00,265.17 496.00,289.10" fill="url(#jh)"/><polygon points="498.10,289.10 498.10,283.81 498.39,283.81 498.39,282.24 498.68,282.24 498.68,283.09 498.98,283.09 498.98,283.80 499.27,283.80 499.27,282.97 499.56,282.97 499.56,283.10 499.85,283.10 499.85,285.55 500.14,285.55 500.14,287.61 500.43,287.61 500.43,285.71 500.73,285.71 500.73,286.31 501.02,286.31 501.02,285.28 501.31,285.28 501.31,285.93 501.60,285.93 501.60,285.53 501.89,285.53 501.89,284.03 502.18,284.03 502.18,283.59 502.48,283.59 502.48,282.77 502.77,282.77 502.77,282.08 503.06,282.08 503.06,281.72 503.35,281.72 503.35,281.42 503.64,281.42 503.64,282.17 503.93,282.17 503.93,283.09 504.23,283.09 504.23,285.16 504.52,285.16 504.52,284.33 504.81,284.33 504.81,284.22 505.10,284.22 505.10,284.99 505.39,284.99 505.39,283.73 505.68,283.73 505.68,281.15 505.98,281.15 505.98,285.73 506.27,285.73 506.27,283.33 506.56,283.33 506.56,283.06 506.85,283.06 506.85,282.76 507.14,282.76 507.14,284.95 507.43,284.95 507.43,282.74 507.73,282.74 507.73,283.65 508.02,283.65 508.02,284.76 508.31,284.76 508.31,285.20 508.60,285.20 508.60,289.10" fill="url(#jh)"/><polygon points="510.50,289.10 510.50,287.80 510.69,287.80 510.69,287.61 510.88,287.61 510.88,287.65 511.07,287.65 511.07,287.26 511.26,287.26 511.26,288.03 511.44,288.03 511.44,287.78 511.63,287.78 511.63,288.08 511.82,288.08 511.82,287.77 512.01,287.77 512.01,287.97 512.20,287.97 512.20,288.17 512.39,288.17 512.39,288.38 512.58,288.38 512.58,288.25 512.77,288.25 512.77,287.99 512.96,287.99 512.96,287.64 513.14,287.64 513.14,287.79 513.33,287.79 513.33,288.30 513.52,288.30 513.52,288.08 513.71,288.08 513.71,287.91 513.90,287.91 513.90,287.93 514.09,287.93 514.09,287.86 514.28,287.86 514.28,287.62 514.47,287.62 514.47,287.77 514.66,287.77 514.66,288.03 514.84,288.03 514.84,288.41 515.03,288.41 515.03,287.90 515.22,287.90 515.22,288.35 515.41,288.35 515.41,287.89 515.60,287.89 515.60,287.78 515.79,287.78 515.79,288.30 515.98,288.30 515.98,287.97 516.17,287.97 516.17,288.06 516.36,288.06 516.36,287.46 516.54,287.46 516.54,287.89 516.73,287.89 516.73,288.54 516.92,288.54 516.92,287.95 517.11,287.95 517.11,287.99 517.30,287.99 517.30,289.10" fill="url(#jh)"/><polygon points="518.00,289.10 518.00,287.65 518.10,287.65 518.10,287.66 518.19,287.66 518.19,287.19 518.29,287.19 518.29,287.08 518.39,287.08 518.39,287.10 518.49,287.10 518.49,287.70 518.58,287.70 518.58,287.29 518.68,287.29 518.68,287.89 518.78,287.89 518.78,287.81 518.88,287.81 518.88,287.26 518.97,287.26 518.97,287.48 519.07,287.48 519.07,287.06 519.17,287.06 519.17,285.26 519.26,285.26 519.26,286.38 519.36,286.38 519.36,287.18 519.46,287.18 519.46,287.96 519.56,287.96 519.56,287.04 519.65,287.04 519.65,287.40 519.75,287.40 519.75,287.93 519.85,287.93 519.85,286.00 519.94,286.00 519.94,286.88 520.04,286.88 520.04,286.35 520.14,286.35 520.14,284.79 520.24,284.79 520.24,286.61 520.33,286.61 520.33,286.77 520.43,286.77 520.43,286.72 520.53,286.72 520.53,287.13 520.62,287.13 520.62,287.49 520.72,287.49 520.72,287.23 520.82,287.23 520.82,286.63 520.92,286.63 520.92,287.39 521.01,287.39 521.01,287.96 521.11,287.96 521.11,287.95 521.21,287.95 521.21,287.90 521.31,287.90 521.31,287.53 521.40,287.53 521.40,287.42 521.50,287.42 521.50,289.10" fill="url(#jh)"/><polygon points="522.00,289.10 522.00,288.24 522.67,288.24 522.67,288.12 523.35,288.12 523.35,288.40 524.02,288.40 524.02,288.22 524.70,288.22 524.70,288.33 525.38,288.33 525.38,288.28 526.05,288.28 526.05,288.72 526.73,288.72 526.73,288.10 527.40,288.10 527.40,288.61 528.08,288.61 528.08,288.48 528.75,288.48 528.75,288.01 529.42,288.01 529.42,288.23 530.10,288.23 530.10,287.72 530.77,287.72 530.77,288.17 531.45,288.17 531.45,288.49 532.12,288.49 532.12,288.31 532.80,288.31 532.80,288.47 533.48,288.47 533.48,288.22 534.15,288.22 534.15,288.22 534.82,288.22 534.82,288.30 535.50,288.30 535.50,288.45 536.17,288.45 536.17,288.31 536.85,288.31 536.85,288.06 537.52,288.06 537.52,288.40 538.20,288.40 538.20,288.39 538.88,288.39 538.88,288.07 539.55,288.07 539.55,288.14 540.22,288.14 540.22,288.36 540.90,288.36 540.90,288.40 541.57,288.40 541.57,288.73 542.25,288.73 542.25,288.18 542.92,288.18 542.92,288.40 543.60,288.40 543.60,288.62 544.27,288.62 544.27,288.56 544.95,288.56 544.95,288.50 545.62,288.50 545.62,287.97 546.30,287.97 546.30,289.10" fill="url(#jh)"/><rect x="423.5" y="166.5" width="123.0" height="123.0" fill="none" stroke="#999" stroke-width="1"/><text x="439.1" y="297.4" font-size="6.0" text-anchor="middle" font-weight="normal" font-family='"Liberation Sans",Arial,sans-serif' fill="#333" stroke="#333" stroke-width="0.22" >&#8722;4</text><line x1="439.1" y1="289.1" x2="439.1" y2="287.90000000000003" stroke="#444" stroke-width="0.6"/><line x1="439.1" y1="166.4" x2="439.1" y2="167.6" stroke="#444" stroke-width="0.6"/><text x="460.2" y="297.4" font-size="6.0" text-anchor="middle" font-weight="normal" font-family='"Liberation Sans",Arial,sans-serif' fill="#333" stroke="#333" stroke-width="0.22" >&#8722;2</text><line x1="460.2" y1="289.1" x2="460.2" y2="287.90000000000003" stroke="#444" stroke-width="0.6"/><line x1="460.2" y1="166.4" x2="460.2" y2="167.6" stroke="#444" stroke-width="0.6"/><text x="481.4" y="297.4" font-size="6.0" text-anchor="middle" font-weight="normal" font-family='"Liberation Sans",Arial,sans-serif' fill="#333" stroke="#333" stroke-width="0.22" >0</text><line x1="481.4" y1="289.1" x2="481.4" y2="287.90000000000003" stroke="#444" stroke-width="0.6"/><line x1="481.4" y1="166.4" x2="481.4" y2="167.6" stroke="#444" stroke-width="0.6"/><text x="502.5" y="297.4" font-size="6.0" text-anchor="middle" font-weight="normal" font-family='"Liberation Sans",Arial,sans-serif' fill="#333" stroke="#333" stroke-width="0.22" >2</text><line x1="502.5" y1="289.1" x2="502.5" y2="287.90000000000003" stroke="#444" stroke-width="0.6"/><line x1="502.5" y1="166.4" x2="502.5" y2="167.6" stroke="#444" stroke-width="0.6"/><text x="523.7" y="297.4" font-size="6.0" text-anchor="middle" font-weight="normal" font-family='"Liberation Sans",Arial,sans-serif' fill="#333" stroke="#333" stroke-width="0.22" >4</text><line x1="523.7" y1="289.1" x2="523.7" y2="287.90000000000003" stroke="#444" stroke-width="0.6"/><line x1="523.7" y1="166.4" x2="523.7" y2="167.6" stroke="#444" stroke-width="0.6"/><text x="544.8" y="297.4" font-size="6.0" text-anchor="middle" font-weight="normal" font-family='"Liberation Sans",Arial,sans-serif' fill="#333" stroke="#333" stroke-width="0.22" >6</text><line x1="544.8" y1="289.1" x2="544.8" y2="287.90000000000003" stroke="#444" stroke-width="0.6"/><line x1="544.8" y1="166.4" x2="544.8" y2="167.6" stroke="#444" stroke-width="0.6"/><text x="421.2" y="291.2" font-size="6.0" text-anchor="end" font-weight="normal" font-family='"Liberation Sans",Arial,sans-serif' fill="#333" stroke="#333" stroke-width="0.22" >0</text><line x1="423.4" y1="289.1" x2="424.59999999999997" y2="289.1" stroke="#444" stroke-width="0.6"/><line x1="546.3" y1="289.1" x2="545.0999999999999" y2="289.1" stroke="#444" stroke-width="0.6"/><text x="421.2" y="266.7" font-size="6.0" text-anchor="end" font-weight="normal" font-family='"Liberation Sans",Arial,sans-serif' fill="#333" stroke="#333" stroke-width="0.22" >50</text><line x1="423.4" y1="264.6" x2="424.59999999999997" y2="264.6" stroke="#444" stroke-width="0.6"/><line x1="546.3" y1="264.6" x2="545.0999999999999" y2="264.6" stroke="#444" stroke-width="0.6"/><text x="421.2" y="242.1" font-size="6.0" text-anchor="end" font-weight="normal" font-family='"Liberation Sans",Arial,sans-serif' fill="#333" stroke="#333" stroke-width="0.22" >100</text><line x1="423.4" y1="240.0" x2="424.59999999999997" y2="240.0" stroke="#444" stroke-width="0.6"/><line x1="546.3" y1="240.0" x2="545.0999999999999" y2="240.0" stroke="#444" stroke-width="0.6"/><text x="421.2" y="217.6" font-size="6.0" text-anchor="end" font-weight="normal" font-family='"Liberation Sans",Arial,sans-serif' fill="#333" stroke="#333" stroke-width="0.22" >150</text><line x1="423.4" y1="215.5" x2="424.59999999999997" y2="215.5" stroke="#444" stroke-width="0.6"/><line x1="546.3" y1="215.5" x2="545.0999999999999" y2="215.5" stroke="#444" stroke-width="0.6"/><text x="421.2" y="193.0" font-size="6.0" text-anchor="end" font-weight="normal" font-family='"Liberation Sans",Arial,sans-serif' fill="#333" stroke="#333" stroke-width="0.22" >200</text><line x1="423.4" y1="190.9" x2="424.59999999999997" y2="190.9" stroke="#444" stroke-width="0.6"/><line x1="546.3" y1="190.9" x2="545.0999999999999" y2="190.9" stroke="#444" stroke-width="0.6"/><text x="421.2" y="168.5" font-size="6.0" text-anchor="end" font-weight="normal" font-family='"Liberation Sans",Arial,sans-serif' fill="#333" stroke="#333" stroke-width="0.22" >250</text><line x1="423.4" y1="166.4" x2="424.59999999999997" y2="166.4" stroke="#444" stroke-width="0.6"/><line x1="546.3" y1="166.4" x2="545.0999999999999" y2="166.4" stroke="#444" stroke-width="0.6"/><text x="0.0" y="0.0" font-size="6.8" text-anchor="middle" font-weight="bold" font-family='"Liberation Sans",Arial,sans-serif' fill="#222" stroke="#222" stroke-width="0.22" transform="translate(407.0,227.8) rotate(-90)">Number of pixels</text><text x="278.3" y="312.8" font-size="12.5" text-anchor="middle" font-weight="bold" font-family='"Liberation Serif","Times New Roman",serif' fill="#111" stroke="#111" stroke-width="0.22" >(e)</text><svg x="17.4" y="324.4" width="119.19999999999999" height="119.20000000000005" viewBox="0 0 120 120" preserveAspectRatio="none"><g filter="url(#fl)"><use href="#FLD"/></g></svg><rect x="143.6" y="324.4" width="9.400000000000006" height="119.20000000000005" fill="url(#jv)"/><text x="148.3" y="321.1" font-size="5.3" text-anchor="middle" font-weight="normal" font-family='"Liberation Sans",Arial,sans-serif' fill="#333" stroke="#333" stroke-width="0.22" >[rad]</text><text x="155.3" y="329.1" font-size="6.0" text-anchor="start" font-weight="normal" font-family='"Liberation Sans",Arial,sans-serif' fill="#333" stroke="#333" stroke-width="0.22" >40</text><text x="155.3" y="342.6" font-size="6.0" text-anchor="start" font-weight="normal" font-family='"Liberation Sans",Arial,sans-serif' fill="#333" stroke="#333" stroke-width="0.22" >35</text><text x="155.3" y="356.1" font-size="6.0" text-anchor="start" font-weight="normal" font-family='"Liberation Sans",Arial,sans-serif' fill="#333" stroke="#333" stroke-width="0.22" >30</text><text x="155.3" y="369.6" font-size="6.0" text-anchor="start" font-weight="normal" font-family='"Liberation Sans",Arial,sans-serif' fill="#333" stroke="#333" stroke-width="0.22" >25</text><text x="155.3" y="383.1" font-size="6.0" text-anchor="start" font-weight="normal" font-family='"Liberation Sans",Arial,sans-serif' fill="#333" stroke="#333" stroke-width="0.22" >20</text><text x="155.3" y="396.6" font-size="6.0" text-anchor="start" font-weight="normal" font-family='"Liberation Sans",Arial,sans-serif' fill="#333" stroke="#333" stroke-width="0.22" >15</text><text x="155.3" y="410.1" font-size="6.0" text-anchor="start" font-weight="normal" font-family='"Liberation Sans",Arial,sans-serif' fill="#333" stroke="#333" stroke-width="0.22" >10</text><text x="155.3" y="423.6" font-size="6.0" text-anchor="start" font-weight="normal" font-family='"Liberation Sans",Arial,sans-serif' fill="#333" stroke="#333" stroke-width="0.22" >5</text><text x="155.3" y="437.1" font-size="6.0" text-anchor="start" font-weight="normal" font-family='"Liberation Sans",Arial,sans-serif' fill="#333" stroke="#333" stroke-width="0.22" >0</text><text x="14.1" y="349.9" font-size="6.0" text-anchor="end" font-weight="normal" font-family='"Liberation Sans",Arial,sans-serif' fill="#333" stroke="#333" stroke-width="0.22" >50</text><text x="40.4" y="452.5" font-size="6.0" text-anchor="middle" font-weight="normal" font-family='"Liberation Sans",Arial,sans-serif' fill="#333" stroke="#333" stroke-width="0.22" >50</text><line x1="17.4" y1="347.4" x2="18.599999999999998" y2="347.4" stroke="#444" stroke-width="0.6"/><line x1="40.4" y1="443.6" x2="40.4" y2="442.40000000000003" stroke="#444" stroke-width="0.6"/><text x="14.1" y="373.2" font-size="6.0" text-anchor="end" font-weight="normal" font-family='"Liberation Sans",Arial,sans-serif' fill="#333" stroke="#333" stroke-width="0.22" >100</text><text x="63.7" y="452.5" font-size="6.0" text-anchor="middle" font-weight="normal" font-family='"Liberation Sans",Arial,sans-serif' fill="#333" stroke="#333" stroke-width="0.22" >100</text><line x1="17.4" y1="370.7" x2="18.599999999999998" y2="370.7" stroke="#444" stroke-width="0.6"/><line x1="63.7" y1="443.6" x2="63.7" y2="442.40000000000003" stroke="#444" stroke-width="0.6"/><text x="14.1" y="396.5" font-size="6.0" text-anchor="end" font-weight="normal" font-family='"Liberation Sans",Arial,sans-serif' fill="#333" stroke="#333" stroke-width="0.22" >150</text><text x="87.0" y="452.5" font-size="6.0" text-anchor="middle" font-weight="normal" font-family='"Liberation Sans",Arial,sans-serif' fill="#333" stroke="#333" stroke-width="0.22" >150</text><line x1="17.4" y1="394.0" x2="18.599999999999998" y2="394.0" stroke="#444" stroke-width="0.6"/><line x1="87.0" y1="443.6" x2="87.0" y2="442.40000000000003" stroke="#444" stroke-width="0.6"/><text x="14.1" y="419.8" font-size="6.0" text-anchor="end" font-weight="normal" font-family='"Liberation Sans",Arial,sans-serif' fill="#333" stroke="#333" stroke-width="0.22" >200</text><text x="110.3" y="452.5" font-size="6.0" text-anchor="middle" font-weight="normal" font-family='"Liberation Sans",Arial,sans-serif' fill="#333" stroke="#333" stroke-width="0.22" >200</text><line x1="17.4" y1="417.3" x2="18.599999999999998" y2="417.3" stroke="#444" stroke-width="0.6"/><line x1="110.3" y1="443.6" x2="110.3" y2="442.40000000000003" stroke="#444" stroke-width="0.6"/><text x="14.1" y="443.1" font-size="6.0" text-anchor="end" font-weight="normal" font-family='"Liberation Sans",Arial,sans-serif' fill="#333" stroke="#333" stroke-width="0.22" >250</text><text x="133.6" y="452.5" font-size="6.0" text-anchor="middle" font-weight="normal" font-family='"Liberation Sans",Arial,sans-serif' fill="#333" stroke="#333" stroke-width="0.22" >250</text><line x1="17.4" y1="440.6" x2="18.599999999999998" y2="440.6" stroke="#444" stroke-width="0.6"/><line x1="133.6" y1="443.6" x2="133.6" y2="442.40000000000003" stroke="#444" stroke-width="0.6"/><svg x="211.5" y="324.4" width="119.10000000000002" height="119.20000000000005" viewBox="0 0 120 120" preserveAspectRatio="none"><g filter="url(#fm3)"><rect x="0" y="0" width="120" height="120" fill="#000"/><use href="#STK"/></g></svg><rect x="337.4" y="324.4" width="9.200000000000045" height="119.20000000000005" fill="url(#jv)"/><text x="342.0" y="321.1" font-size="5.3" text-anchor="middle" font-weight="normal" font-family='"Liberation Sans",Arial,sans-serif' fill="#333" stroke="#333" stroke-width="0.22" >[rad]</text><text x="348.9" y="331.1" font-size="6.0" text-anchor="start" font-weight="normal" font-family='"Liberation Sans",Arial,sans-serif' fill="#333" stroke="#333" stroke-width="0.22" >3</text><text x="348.9" y="347.5" font-size="6.0" text-anchor="start" font-weight="normal" font-family='"Liberation Sans",Arial,sans-serif' fill="#333" stroke="#333" stroke-width="0.22" >2</text><text x="348.9" y="363.9" font-size="6.0" text-anchor="start" font-weight="normal" font-family='"Liberation Sans",Arial,sans-serif' fill="#333" stroke="#333" stroke-width="0.22" >1</text><text x="348.9" y="380.3" font-size="6.0" text-anchor="start" font-weight="normal" font-family='"Liberation Sans",Arial,sans-serif' fill="#333" stroke="#333" stroke-width="0.22" >0</text><text x="348.9" y="396.7" font-size="6.0" text-anchor="start" font-weight="normal" font-family='"Liberation Sans",Arial,sans-serif' fill="#333" stroke="#333" stroke-width="0.22" >&#8722;1</text><text x="348.9" y="413.1" font-size="6.0" text-anchor="start" font-weight="normal" font-family='"Liberation Sans",Arial,sans-serif' fill="#333" stroke="#333" stroke-width="0.22" >&#8722;2</text><text x="348.9" y="429.5" font-size="6.0" text-anchor="start" font-weight="normal" font-family='"Liberation Sans",Arial,sans-serif' fill="#333" stroke="#333" stroke-width="0.22" >&#8722;3</text><text x="348.9" y="445.9" font-size="6.0" text-anchor="start" font-weight="normal" font-family='"Liberation Sans",Arial,sans-serif' fill="#333" stroke="#333" stroke-width="0.22" >&#8722;4</text><text x="208.3" y="349.9" font-size="6.0" text-anchor="end" font-weight="normal" font-family='"Liberation Sans",Arial,sans-serif' fill="#333" stroke="#333" stroke-width="0.22" >50</text><text x="234.5" y="452.7" font-size="6.0" text-anchor="middle" font-weight="normal" font-family='"Liberation Sans",Arial,sans-serif' fill="#333" stroke="#333" stroke-width="0.22" >50</text><line x1="211.5" y1="347.4" x2="212.7" y2="347.4" stroke="#444" stroke-width="0.6"/><line x1="234.5" y1="443.6" x2="234.5" y2="442.40000000000003" stroke="#444" stroke-width="0.6"/><text x="208.3" y="373.2" font-size="6.0" text-anchor="end" font-weight="normal" font-family='"Liberation Sans",Arial,sans-serif' fill="#333" stroke="#333" stroke-width="0.22" >100</text><text x="257.8" y="452.7" font-size="6.0" text-anchor="middle" font-weight="normal" font-family='"Liberation Sans",Arial,sans-serif' fill="#333" stroke="#333" stroke-width="0.22" >100</text><line x1="211.5" y1="370.7" x2="212.7" y2="370.7" stroke="#444" stroke-width="0.6"/><line x1="257.8" y1="443.6" x2="257.8" y2="442.40000000000003" stroke="#444" stroke-width="0.6"/><text x="208.3" y="396.5" font-size="6.0" text-anchor="end" font-weight="normal" font-family='"Liberation Sans",Arial,sans-serif' fill="#333" stroke="#333" stroke-width="0.22" >150</text><text x="281.1" y="452.7" font-size="6.0" text-anchor="middle" font-weight="normal" font-family='"Liberation Sans",Arial,sans-serif' fill="#333" stroke="#333" stroke-width="0.22" >150</text><line x1="211.5" y1="394.0" x2="212.7" y2="394.0" stroke="#444" stroke-width="0.6"/><line x1="281.1" y1="443.6" x2="281.1" y2="442.40000000000003" stroke="#444" stroke-width="0.6"/><text x="208.3" y="419.8" font-size="6.0" text-anchor="end" font-weight="normal" font-family='"Liberation Sans",Arial,sans-serif' fill="#333" stroke="#333" stroke-width="0.22" >200</text><text x="304.3" y="452.7" font-size="6.0" text-anchor="middle" font-weight="normal" font-family='"Liberation Sans",Arial,sans-serif' fill="#333" stroke="#333" stroke-width="0.22" >200</text><line x1="211.5" y1="417.3" x2="212.7" y2="417.3" stroke="#444" stroke-width="0.6"/><line x1="304.3" y1="443.6" x2="304.3" y2="442.40000000000003" stroke="#444" stroke-width="0.6"/><text x="208.3" y="443.1" font-size="6.0" text-anchor="end" font-weight="normal" font-family='"Liberation Sans",Arial,sans-serif' fill="#333" stroke="#333" stroke-width="0.22" >250</text><text x="327.6" y="452.7" font-size="6.0" text-anchor="middle" font-weight="normal" font-family='"Liberation Sans",Arial,sans-serif' fill="#333" stroke="#333" stroke-width="0.22" >250</text><line x1="211.5" y1="440.6" x2="212.7" y2="440.6" stroke="#444" stroke-width="0.6"/><line x1="327.6" y1="443.6" x2="327.6" y2="442.40000000000003" stroke="#444" stroke-width="0.6"/><polygon points="426.40,443.40 426.40,442.67 427.29,442.67 427.29,442.95 428.18,442.95 428.18,442.34 429.07,442.34 429.07,442.37 429.97,442.37 429.97,442.82 430.86,442.82 430.86,443.10 431.75,443.10 431.75,442.49 432.64,442.49 432.64,442.79 433.53,442.79 433.53,442.69 434.42,442.69 434.42,442.69 435.32,442.69 435.32,442.23 436.21,442.23 436.21,442.08 437.10,442.08 437.10,442.26 437.99,442.26 437.99,442.58 438.88,442.58 438.88,442.60 439.77,442.60 439.77,442.65 440.67,442.65 440.67,443.01 441.56,443.01 441.56,442.47 442.45,442.47 442.45,442.68 443.34,442.68 443.34,442.48 444.23,442.48 444.23,442.48 445.12,442.48 445.12,442.34 446.02,442.34 446.02,442.34 446.91,442.34 446.91,442.14 447.80,442.14 447.80,442.65 448.69,442.65 448.69,442.72 449.58,442.72 449.58,442.44 450.48,442.44 450.48,442.58 451.37,442.58 451.37,442.23 452.26,442.23 452.26,442.69 453.15,442.69 453.15,442.56 454.04,442.56 454.04,442.49 454.93,442.49 454.93,442.53 455.82,442.53 455.82,442.70 456.72,442.70 456.72,442.53 457.61,442.53 457.61,442.59 458.50,442.59 458.50,443.40" fill="url(#jh)"/><polygon points="458.90,443.40 458.90,442.34 459.17,442.34 459.17,441.36 459.43,441.36 459.43,441.40 459.70,441.40 459.70,441.59 459.97,441.59 459.97,441.72 460.23,441.72 460.23,441.35 460.50,441.35 460.50,441.13 460.77,441.13 460.77,441.15 461.03,441.15 461.03,440.52 461.30,440.52 461.30,440.67 461.57,440.67 461.57,441.52 461.83,441.52 461.83,441.66 462.10,441.66 462.10,440.87 462.37,440.87 462.37,441.72 462.63,441.72 462.63,441.35 462.90,441.35 462.90,441.25 463.17,441.25 463.17,440.97 463.43,440.97 463.43,441.19 463.70,441.19 463.70,440.71 463.97,440.71 463.97,441.63 464.23,441.63 464.23,441.05 464.50,441.05 464.50,441.65 464.77,441.65 464.77,441.13 465.03,441.13 465.03,441.08 465.30,441.08 465.30,441.61 465.57,441.61 465.57,442.54 465.83,442.54 465.83,440.29 466.10,440.29 466.10,440.53 466.37,440.53 466.37,440.55 466.63,440.55 466.63,441.03 466.90,441.03 466.90,440.66 467.17,440.66 467.17,440.17 467.43,440.17 467.43,440.68 467.70,440.68 467.70,440.17 467.97,440.17 467.97,441.02 468.23,441.02 468.23,441.71 468.50,441.71 468.50,443.40" fill="url(#jh)"/><polygon points="470.10,443.40 470.10,433.90 470.35,433.90 470.35,433.92 470.59,433.92 470.59,433.23 470.84,433.23 470.84,433.12 471.09,433.12 471.09,432.88 471.34,432.88 471.34,432.51 471.58,432.51 471.58,432.04 471.83,432.04 471.83,431.92 472.08,431.92 472.08,431.20 472.33,431.20 472.33,430.97 472.57,430.97 472.57,430.81 472.82,430.81 472.82,430.78 473.07,430.78 473.07,431.18 473.31,431.18 473.31,431.26 473.56,431.26 473.56,430.59 473.81,430.59 473.81,430.70 474.06,430.70 474.06,430.48 474.30,430.48 474.30,430.44 474.55,430.44 474.55,430.50 474.80,430.50 474.80,430.61 475.04,430.61 475.04,430.65 475.29,430.65 475.29,430.37 475.54,430.37 475.54,430.96 475.79,430.96 475.79,430.09 476.03,430.09 476.03,430.51 476.28,430.51 476.28,430.27 476.53,430.27 476.53,430.11 476.77,430.11 476.77,430.06 477.02,430.06 477.02,429.99 477.27,429.99 477.27,429.68 477.52,429.68 477.52,430.53 477.76,430.53 477.76,430.32 478.01,430.32 478.01,430.74 478.26,430.74 478.26,430.30 478.51,430.30 478.51,431.81 478.75,431.81 478.75,431.64 479.00,431.64 479.00,443.40" fill="url(#jh)"/><polygon points="481.20,443.40 481.20,333.43 481.45,333.43 481.45,339.39 481.69,339.39 481.69,335.68 481.94,335.68 481.94,337.83 482.19,337.83 482.19,334.59 482.44,334.59 482.44,333.86 482.68,333.86 482.68,330.26 482.93,330.26 482.93,336.60 483.18,336.60 483.18,330.08 483.43,330.08 483.43,338.26 483.67,338.26 483.67,341.71 483.92,341.71 483.92,339.44 484.17,339.44 484.17,334.92 484.41,334.92 484.41,338.47 484.66,338.47 484.66,337.86 484.91,337.86 484.91,339.45 485.16,339.45 485.16,337.03 485.40,337.03 485.40,334.28 485.65,334.28 485.65,327.21 485.90,327.21 485.90,334.96 486.14,334.96 486.14,337.36 486.39,337.36 486.39,338.37 486.64,338.37 486.64,339.89 486.89,339.89 486.89,332.46 487.13,332.46 487.13,336.52 487.38,336.52 487.38,338.99 487.63,338.99 487.63,341.36 487.88,341.36 487.88,335.43 488.12,335.43 488.12,337.61 488.37,337.61 488.37,335.31 488.62,335.31 488.62,340.31 488.86,340.31 488.86,339.00 489.11,339.00 489.11,340.09 489.36,340.09 489.36,339.31 489.61,339.31 489.61,344.12 489.85,344.12 489.85,338.99 490.10,338.99 490.10,443.40" fill="url(#jh)"/><polygon points="492.00,443.40 492.00,430.45 492.25,430.45 492.25,430.63 492.49,430.63 492.49,431.03 492.74,431.03 492.74,430.24 492.99,430.24 492.99,430.33 493.24,430.33 493.24,429.40 493.48,429.40 493.48,430.22 493.73,430.22 493.73,430.33 493.98,430.33 493.98,429.90 494.23,429.90 494.23,429.43 494.47,429.43 494.47,430.09 494.72,430.09 494.72,428.88 494.97,428.88 494.97,430.27 495.21,430.27 495.21,429.56 495.46,429.56 495.46,428.68 495.71,428.68 495.71,427.72 495.96,427.72 495.96,427.51 496.20,427.51 496.20,425.81 496.45,425.81 496.45,426.84 496.70,426.84 496.70,426.35 496.94,426.35 496.94,426.88 497.19,426.88 497.19,428.57 497.44,428.57 497.44,429.08 497.69,429.08 497.69,429.54 497.93,429.54 497.93,429.56 498.18,429.56 498.18,428.53 498.43,428.53 498.43,428.65 498.67,428.65 498.67,428.69 498.92,428.69 498.92,427.73 499.17,427.73 499.17,428.22 499.42,428.22 499.42,427.51 499.66,427.51 499.66,427.09 499.91,427.09 499.91,427.40 500.16,427.40 500.16,429.04 500.41,429.04 500.41,429.65 500.65,429.65 500.65,431.13 500.90,431.13 500.90,443.40" fill="url(#jh)"/><polygon points="502.40,443.40 502.40,441.86 502.68,441.86 502.68,441.18 502.96,441.18 502.96,441.00 503.23,441.00 503.23,440.61 503.51,440.61 503.51,441.38 503.79,441.38 503.79,440.47 504.07,440.47 504.07,441.44 504.34,441.44 504.34,441.44 504.62,441.44 504.62,441.66 504.90,441.66 504.90,441.19 505.18,441.19 505.18,440.99 505.46,440.99 505.46,441.45 505.73,441.45 505.73,441.64 506.01,441.64 506.01,442.12 506.29,442.12 506.29,441.25 506.57,441.25 506.57,441.46 506.84,441.46 506.84,441.33 507.12,441.33 507.12,441.51 507.40,441.51 507.40,441.59 507.68,441.59 507.68,441.29 507.96,441.29 507.96,440.73 508.23,440.73 508.23,440.52 508.51,440.52 508.51,441.14 508.79,441.14 508.79,441.05 509.07,441.05 509.07,441.39 509.34,441.39 509.34,441.43 509.62,441.43 509.62,441.97 509.90,441.97 509.90,440.62 510.18,440.62 510.18,440.60 510.46,440.60 510.46,439.88 510.73,439.88 510.73,441.05 511.01,441.05 511.01,440.60 511.29,440.60 511.29,441.41 511.57,441.41 511.57,440.86 511.84,440.86 511.84,441.22 512.12,441.22 512.12,440.97 512.40,440.97 512.40,443.40" fill="url(#jh)"/><polygon points="512.80,443.40 512.80,442.80 513.69,442.80 513.69,442.63 514.59,442.63 514.59,442.77 515.48,442.77 515.48,442.53 516.38,442.53 516.38,442.65 517.27,442.65 517.27,442.70 518.17,442.70 518.17,442.62 519.06,442.62 519.06,442.60 519.96,442.60 519.96,442.93 520.85,442.93 520.85,442.93 521.74,442.93 521.74,442.56 522.64,442.56 522.64,442.54 523.53,442.54 523.53,442.92 524.43,442.92 524.43,442.81 525.32,442.81 525.32,442.65 526.22,442.65 526.22,442.51 527.11,442.51 527.11,442.63 528.01,442.63 528.01,442.59 528.90,442.59 528.90,442.58 529.79,442.58 529.79,442.29 530.69,442.29 530.69,442.90 531.58,442.90 531.58,442.57 532.48,442.57 532.48,442.26 533.37,442.26 533.37,442.78 534.27,442.78 534.27,442.83 535.16,442.83 535.16,442.52 536.06,442.52 536.06,442.37 536.95,442.37 536.95,442.32 537.84,442.32 537.84,442.90 538.74,442.90 538.74,442.75 539.63,442.75 539.63,442.46 540.53,442.46 540.53,442.52 541.42,442.52 541.42,442.39 542.32,442.39 542.32,442.50 543.21,442.50 543.21,442.25 544.11,442.25 544.11,442.67 545.00,442.67 545.00,443.40" fill="url(#jh)"/><rect x="426.5" y="324.5" width="118.0" height="119.0" fill="none" stroke="#999" stroke-width="1"/><text x="426.4" y="451.7" font-size="6.0" text-anchor="middle" font-weight="normal" font-family='"Liberation Sans",Arial,sans-serif' fill="#333" stroke="#333" stroke-width="0.22" >&#8722;4</text><line x1="426.4" y1="443.4" x2="426.4" y2="442.2" stroke="#444" stroke-width="0.6"/><line x1="426.4" y1="324.4" x2="426.4" y2="325.59999999999997" stroke="#444" stroke-width="0.6"/><text x="456.0" y="451.7" font-size="6.0" text-anchor="middle" font-weight="normal" font-family='"Liberation Sans",Arial,sans-serif' fill="#333" stroke="#333" stroke-width="0.22" >&#8722;2</text><line x1="456.0" y1="443.4" x2="456.0" y2="442.2" stroke="#444" stroke-width="0.6"/><line x1="456.0" y1="324.4" x2="456.0" y2="325.59999999999997" stroke="#444" stroke-width="0.6"/><text x="485.7" y="451.7" font-size="6.0" text-anchor="middle" font-weight="normal" font-family='"Liberation Sans",Arial,sans-serif' fill="#333" stroke="#333" stroke-width="0.22" >0</text><line x1="485.7" y1="443.4" x2="485.7" y2="442.2" stroke="#444" stroke-width="0.6"/><line x1="485.7" y1="324.4" x2="485.7" y2="325.59999999999997" stroke="#444" stroke-width="0.6"/><text x="515.4" y="451.7" font-size="6.0" text-anchor="middle" font-weight="normal" font-family='"Liberation Sans",Arial,sans-serif' fill="#333" stroke="#333" stroke-width="0.22" >2</text><line x1="515.4" y1="443.4" x2="515.4" y2="442.2" stroke="#444" stroke-width="0.6"/><line x1="515.4" y1="324.4" x2="515.4" y2="325.59999999999997" stroke="#444" stroke-width="0.6"/><text x="545.0" y="451.7" font-size="6.0" text-anchor="middle" font-weight="normal" font-family='"Liberation Sans",Arial,sans-serif' fill="#333" stroke="#333" stroke-width="0.22" >4</text><line x1="545.0" y1="443.4" x2="545.0" y2="442.2" stroke="#444" stroke-width="0.6"/><line x1="545.0" y1="324.4" x2="545.0" y2="325.59999999999997" stroke="#444" stroke-width="0.6"/><text x="424.2" y="445.5" font-size="6.0" text-anchor="end" font-weight="normal" font-family='"Liberation Sans",Arial,sans-serif' fill="#333" stroke="#333" stroke-width="0.22" >0</text><line x1="426.4" y1="443.4" x2="427.59999999999997" y2="443.4" stroke="#444" stroke-width="0.6"/><line x1="545.0" y1="443.4" x2="543.8" y2="443.4" stroke="#444" stroke-width="0.6"/><text x="424.2" y="421.7" font-size="6.0" text-anchor="end" font-weight="normal" font-family='"Liberation Sans",Arial,sans-serif' fill="#333" stroke="#333" stroke-width="0.22" >50</text><line x1="426.4" y1="419.6" x2="427.59999999999997" y2="419.6" stroke="#444" stroke-width="0.6"/><line x1="545.0" y1="419.6" x2="543.8" y2="419.6" stroke="#444" stroke-width="0.6"/><text x="424.2" y="397.9" font-size="6.0" text-anchor="end" font-weight="normal" font-family='"Liberation Sans",Arial,sans-serif' fill="#333" stroke="#333" stroke-width="0.22" >100</text><line x1="426.4" y1="395.8" x2="427.59999999999997" y2="395.8" stroke="#444" stroke-width="0.6"/><line x1="545.0" y1="395.8" x2="543.8" y2="395.8" stroke="#444" stroke-width="0.6"/><text x="424.2" y="374.1" font-size="6.0" text-anchor="end" font-weight="normal" font-family='"Liberation Sans",Arial,sans-serif' fill="#333" stroke="#333" stroke-width="0.22" >150</text><line x1="426.4" y1="372.0" x2="427.59999999999997" y2="372.0" stroke="#444" stroke-width="0.6"/><line x1="545.0" y1="372.0" x2="543.8" y2="372.0" stroke="#444" stroke-width="0.6"/><text x="424.2" y="350.3" font-size="6.0" text-anchor="end" font-weight="normal" font-family='"Liberation Sans",Arial,sans-serif' fill="#333" stroke="#333" stroke-width="0.22" >200</text><line x1="426.4" y1="348.2" x2="427.59999999999997" y2="348.2" stroke="#444" stroke-width="0.6"/><line x1="545.0" y1="348.2" x2="543.8" y2="348.2" stroke="#444" stroke-width="0.6"/><text x="424.2" y="326.5" font-size="6.0" text-anchor="end" font-weight="normal" font-family='"Liberation Sans",Arial,sans-serif' fill="#333" stroke="#333" stroke-width="0.22" >250</text><line x1="426.4" y1="324.4" x2="427.59999999999997" y2="324.4" stroke="#444" stroke-width="0.6"/><line x1="545.0" y1="324.4" x2="543.8" y2="324.4" stroke="#444" stroke-width="0.6"/><text x="0.0" y="0.0" font-size="6.8" text-anchor="middle" font-weight="bold" font-family='"Liberation Sans",Arial,sans-serif' fill="#222" stroke="#222" stroke-width="0.22" transform="translate(410.0,383.5) rotate(-90)">Number of pixels</text><text x="278.0" y="467.0" font-size="12.5" text-anchor="middle" font-weight="bold" font-family='"Liberation Serif","Times New Roman",serif' fill="#111" stroke="#111" stroke-width="0.22" >(f)</text></svg>
</body></html>
